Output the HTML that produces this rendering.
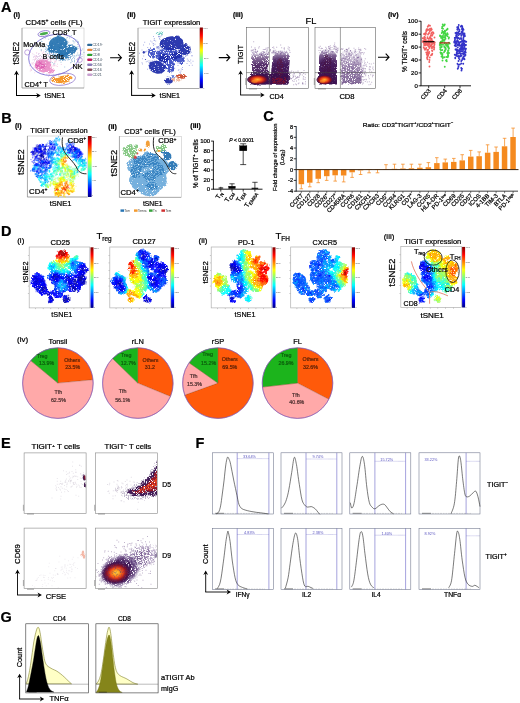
<!DOCTYPE html>
<html><head><meta charset="utf-8"><title>Figure</title>
<style>html,body{margin:0;padding:0;background:#fff}svg{display:block}text{font-family:"Liberation Sans",sans-serif}</style></head>
<body>
<svg width="520" height="703" viewBox="0 0 520 703">
<rect width="520" height="703" fill="#fff"/>
<filter id="spk" filterUnits="userSpaceOnUse" x="0" y="0" width="520" height="703" color-interpolation-filters="sRGB"><feTurbulence type="fractalNoise" baseFrequency="0.18" numOctaves="2" seed="4" result="d"/><feDisplacementMap in="SourceGraphic" in2="d" scale="5" xChannelSelector="R" yChannelSelector="G" result="g"/><feTurbulence type="fractalNoise" baseFrequency="0.95" numOctaves="2" seed="3" result="n"/><feColorMatrix in="n" type="matrix" values="0 0 0 0 0 0 0 0 0 0 0 0 0 0 0 12 0 0 0 -4.18" result="a"/><feComposite in="g" in2="a" operator="in"/></filter>
<filter id="spkd" filterUnits="userSpaceOnUse" x="0" y="0" width="520" height="703" color-interpolation-filters="sRGB"><feTurbulence type="fractalNoise" baseFrequency="0.18" numOctaves="2" seed="9" result="d"/><feDisplacementMap in="SourceGraphic" in2="d" scale="3" xChannelSelector="R" yChannelSelector="G" result="g"/><feTurbulence type="fractalNoise" baseFrequency="0.95" numOctaves="2" seed="8" result="n"/><feColorMatrix in="n" type="matrix" values="0 0 0 0 0 0 0 0 0 0 0 0 0 0 0 12 0 0 0 -3.2199999999999998" result="a"/><feComposite in="g" in2="a" operator="in"/></filter>
<filter id="spk2" filterUnits="userSpaceOnUse" x="0" y="0" width="520" height="703" color-interpolation-filters="sRGB"><feTurbulence type="fractalNoise" baseFrequency="0.18" numOctaves="2" seed="12" result="d"/><feDisplacementMap in="SourceGraphic" in2="d" scale="5" xChannelSelector="R" yChannelSelector="G" result="g"/><feTurbulence type="fractalNoise" baseFrequency="0.9" numOctaves="2" seed="11" result="n"/><feColorMatrix in="n" type="matrix" values="0 0 0 0 0 0 0 0 0 0 0 0 0 0 0 12 0 0 0 -5.0200000000000005" result="a"/><feComposite in="g" in2="a" operator="in"/></filter>
<filter id="spk3" filterUnits="userSpaceOnUse" x="0" y="0" width="520" height="703" color-interpolation-filters="sRGB"><feTurbulence type="fractalNoise" baseFrequency="0.18" numOctaves="2" seed="6" result="d"/><feDisplacementMap in="SourceGraphic" in2="d" scale="6" xChannelSelector="R" yChannelSelector="G" result="g"/><feTurbulence type="fractalNoise" baseFrequency="0.85" numOctaves="2" seed="5" result="n"/><feColorMatrix in="n" type="matrix" values="0 0 0 0 0 0 0 0 0 0 0 0 0 0 0 12 0 0 0 -5.74" result="a"/><feComposite in="g" in2="a" operator="in"/></filter>
<text x="0.9" y="11.5" font-size="14.5" font-weight="bold" stroke="#000" stroke-width="0.22">A</text>
<text x="13.4" y="17" font-size="7" font-weight="bold" stroke="#000" stroke-width="0.22">(i)</text>
<text x="25.6" y="24.6" font-size="7.8" stroke="#000" stroke-width="0.22" textLength="57" lengthAdjust="spacingAndGlyphs">CD45<tspan dy="-2.73" font-size="5.07">+</tspan><tspan dy="2.73"> cells (FL)</tspan></text>
<rect x="22.0" y="28.0" width="62.0" height="60.0" fill="none" stroke="#aaa" stroke-width="0.4"/>
<path d="M22 28V88H84" stroke="#777" stroke-width="0.5" fill="none"/>
<text x="19.2" y="53.2" font-size="8.6" text-anchor="middle" transform="rotate(-90 19.2 53.2)" stroke="#000" stroke-width="0.22" textLength="22.6" lengthAdjust="spacingAndGlyphs">tSNE2</text>
<path d="M16.5 95.5V73.4" stroke="#000" stroke-width="1.0" fill="none"/>
<path d="M16.5 70.6l-2.53 4.6l2.53 -1.38l2.53 1.38z" fill="#000"/>
<path d="M16.0 95.5H38.0" stroke="#000" stroke-width="1.0" fill="none"/>
<path d="M40.8 95.5l-4.6 -2.53l1.38 2.53l-1.38 2.53z" fill="#000"/>
<text x="44.4" y="98.1" font-size="7.2" stroke="#000" stroke-width="0.22">tSNE1</text>
<g fill="#8db8dd" opacity="0.75" filter="url(#spk3)"><ellipse cx="60" cy="56" rx="11" ry="5"/><ellipse cx="71" cy="58" rx="5" ry="4"/><ellipse cx="50" cy="50" rx="5" ry="5"/></g>
<g fill="#2472b0" opacity="0.92" filter="url(#spkd)"><ellipse cx="58.2" cy="44.3" rx="9.6" ry="8" transform="rotate(-10 58.2 44.3)"/><ellipse cx="52" cy="47" rx="4" ry="5"/><ellipse cx="72" cy="49.5" rx="5.2" ry="5"/><ellipse cx="64" cy="52" rx="6" ry="4"/></g>
<g fill="#2472b0" opacity="0.8" filter="url(#spk2)"><ellipse cx="62" cy="56" rx="8" ry="3"/></g>
<path transform="scale(0.25)" d="M268 133zm17 9zm-45 0zm-11-6zm-9 2zm50 11zm6-5zm27 15zm-7-5zm-18-2zm-11 0zm-13 4zm-1 2zm-5-5zm-10 2zm-7 1zm-11-1zm-4 2zm-13-4zm-8 4zm-14-5zm-16 13zm3 1zm33 0zm27-6zm11 0zm3 0zm6 4zm7-2zm15 3zm22-2zm1 2zm7 2zm8-6zm2 6zm4 0zm-1 3zm-17 2zm-21-3zm-7 0zm-18 5zm-4-1zm-3 1zm-13-5zm-2 0zm-18 4zm-2 2zm-47 5zm15 1zm3-1zm7-1zm16 1zm3 3zm16-7zm11 0zm12 5zm0-3zm1-2zm15 7zm2-3zm0-2zm2-2zm7 3zm4 1zm14 2zm21-5zm2 9zm-12-1zm-6 6zm-6 0zm-8 0zm-2-6zm-7 2zm-10-2zm-1 1zm-15 4zm-4 0zm-2 0zm-1 0zm-1 0zm-2-5zm-6 3zm-10-1zm-10-2zm-6 4zm-13-5zm-17 5zm-14 1zm6 8zm16-2zm6 0zm7 3zm5-3zm8-3zm1 4zm8-1zm4 3zm4-2zm9 0zm5 1zm2 1zm2-1zm4-4zm15 5zm6-5zm3 4zm0-3zm2 0zm1 3zm18-4zm12-1zm8-1zm1 2zm19 2zm-4 5zm-6 0zm-14-1zm-8 1zm-3 4zm0-1zm-2-3zm-3-1zm-4 3zm-4 2zm-1-4zm-6 6zm-3-7zm-3 6zm-5 0zm-2-1zm-2 1zm-4-4zm-4 2zm-5 2zm-4-6zm-1 5zm-2 1zm-3-5zm-12 2zm-4 4zm-2-7zm-15 1zm-8 5zm-3-6zm-12 6zm-17-4zm19 6zm12 4zm3-4zm11 0zm2 0zm0 0zm3 0zm18 4zm7-3zm6 1zm3-2zm10 6zm3-1zm4-5zm0 5zm2-1zm7 3zm1-7zm1 2zm2 1zm1-2zm14-1zm3 6zm14-2zm11 2zm14-4zm-8 7zm-10 3zm-5 3zm-1-4zm-5 2zm-17-4zm-4 0zm-4 1zm-6 4zm-2 1zm-3-5zm-1-2zm-2 4zm-6 1zm-4-1zm-3-2zm-1 5zm-7-4zm-2-2zm0 0zm-4 6zm-4-7zm0 6zm-4-2zm-4 1zm-11-3zm-1 5zm-3-6zm-1 3zm-6 2zm-41 4zm9 1zm9-1zm15 5zm8-7zm2 6zm9-2zm0-2zm15 2zm1-3zm11 6zm2-1zm1-3zm0-1zm0-1zm13 1zm12 3zm1 0zm3 1zm5-6zm0 6zm0 0zm10-5zm6 2zm6-3zm17 7zm7-5zm-5 6zm-8 4zm-1 1zm-42 1zm-1-6zm-4 2zm-3 2zm-8 2zm-3-1zm-8-4zm-5 0zm-5 1zm-10 5zm-1-5zm-9-1zm-36 8zm71 1zm1 0zm11-1zm25 1zm27 10zm-16-4zm-12 0zm-4 3zm-38-2zm-25 6zm-10-5zm-7 0zm-12 2zm24 4zm45 12z" stroke="#2472b0" stroke-width="3.2" stroke-linecap="round" fill="none" opacity="0.6"/>
<g fill="#dcc3e6" opacity="0.7" filter="url(#spk3)"><ellipse cx="38" cy="58" rx="6" ry="5"/><ellipse cx="47" cy="60" rx="5" ry="3"/></g>
<g fill="#ea86c4" opacity="0.85" filter="url(#spkd)"><ellipse cx="43.2" cy="65.8" rx="8.5" ry="6.5" transform="rotate(10 43.2 65.8)"/><ellipse cx="50" cy="71" rx="4" ry="2.5"/></g>
<g fill="#d94fae" opacity="0.8" filter="url(#spk2)"><ellipse cx="41" cy="66" rx="4.5" ry="3.8"/></g>
<path transform="scale(0.25)" d="M175 205zm-10 0zm-34 10zm16-5zm22 2zm1 3zm5-5zm6 4zm24 0zm-5 5zm-7 0zm0 4zm-2-5zm-14 3zm-34 2zm-2 8zm3-3zm23 3zm5-1zm4 1zm11-4zm42-1zm-14 13zm-2-2zm-8 2zm-2-1zm-4-2zm-8-3zm-1 6zm-9 0zm-20 0zm-1-3zm-17 2zm-4-1zm-24-2zm33 12zm3-1zm3-3zm3-2zm2-1zm4 3zm4-2zm0 1zm1 4zm5-6zm1 0zm3 2zm2 4zm4-2zm1 2zm1-3zm1-3zm0 3zm5 0zm5 1zm2 3zm4 0zm2-1zm0-1zm15 2zm2 0zm3-5zm0 5zm12-4zm-18 8zm-15 1zm-2 1zm-1 0zm-3-1zm-3-3zm-1 0zm-1 4zm0 0zm0-1zm-1-2zm0 5zm-1-3zm-7 2zm-1-2zm-1 0zm-4-3zm-1 1zm0-1zm-4 5zm-5-6zm0 0zm-2 7zm-12 0zm-5 0zm-2-7zm-1 5zm0 2zm-11-4zm-3 4zm-3-4zm-10 12zm10-7zm19 4zm6-4zm0 1zm1-1zm1 0zm2 4zm1-1zm1 1zm2-2zm4-1zm2-1zm7 7zm0-2zm1-5zm2 6zm0-4zm6 4zm2 0zm2-4zm3 2zm6-1zm4 4zm2-2zm2-3zm12 4zm0-3zm4 2zm10-4zm15 1zm-15 8zm-5-2zm-9 0zm-5 0zm-5 1zm-1 5zm-2-5zm-10 4zm0 0zm-2-2zm-1-2zm0 4zm-5-1zm-4-2zm0 2zm-5-3zm-1 1zm-7-1zm0 6zm-6-3zm-3-1zm-1 1zm-2 3zm-1 0zm-1-6zm0 2zm-6 4zm-4-7zm-1 7zm-1-3zm-3 3zm-2-7zm-14 12zm3 3zm8-7zm10 3zm6 2zm5-2zm3 2zm4-5zm1 5zm3-3zm4 4zm3-4zm3 0zm2 1zm0-1zm4 5zm0-5zm5 3zm5-5zm3 3zm4-1zm6 0zm2-2zm7 2zm-32 7zm0-1zm-2 3zm-1-2zm-14 0zm-5 4zm-35-3zm-4 2zm18 7zm21 3zm12 0zm3-6zm18 6zm8-6zm13 9zm-28-1zm-13 2zm21 8z" stroke="#e78ac3" stroke-width="3.2" stroke-linecap="round" fill="none" opacity="0.55"/>
<g fill="#f5921e" opacity="0.95" filter="url(#spk)"><ellipse cx="62.6" cy="79.3" rx="10.4" ry="3.7" transform="rotate(-7 62.6 79.3)"/></g>
<g fill="#35a23a" opacity="0.9"><ellipse cx="43.9" cy="33.6" rx="4.3" ry="1.4" transform="rotate(-12 43.9 33.6)"/></g>
<ellipse cx="54.7" cy="54.8" rx="26.5" ry="20" transform="rotate(-17 54.7 54.8)" fill="none" stroke="#6a5acd" stroke-width="0.7"/>
<ellipse cx="62.6" cy="79.3" rx="13" ry="5.9" transform="rotate(-8 62.6 79.3)" fill="none" stroke="#8a6fc9" stroke-width="0.7"/>
<ellipse cx="43.9" cy="33.6" rx="6" ry="2.8" transform="rotate(-12 43.9 33.6)" fill="none" stroke="#7a5fc9" stroke-width="0.7"/>
<circle cx="27.3" cy="52.4" r="2.6" fill="none" stroke="#9a6fc9" stroke-width="0.6"/>
<circle cx="79.8" cy="59.9" r="2.5" fill="none" stroke="#9a6fc9" stroke-width="0.6"/>
<text x="52.6" y="34.5" font-size="7.3" stroke="#000" stroke-width="0.22">CD8<tspan dy="-2.55" font-size="4.75">+</tspan><tspan dy="2.55"> T</tspan></text>
<text x="23.3" y="47.4" font-size="7.2" stroke="#000" stroke-width="0.22">Mo/Ma</text>
<text x="42.6" y="59" font-size="7.2" stroke="#000" stroke-width="0.22">B cells</text>
<text x="72.6" y="69.3" font-size="7.2" stroke="#000" stroke-width="0.22">NK</text>
<text x="24.5" y="86.5" font-size="7.2" stroke="#000" stroke-width="0.22">CD4<tspan dy="-2.52" font-size="4.68">+</tspan><tspan dy="2.52"> T</tspan></text>
<rect x="87.2" y="43.7" width="5" height="2.4" rx="0.9" fill="#2d6a9a"/>
<text x="92.5" y="46.1" font-size="3.6" fill="#3a4a5a">CD19<tspan dy="-1.26" font-size="2.34">+</tspan></text>
<rect x="87.2" y="48.7" width="5" height="2.4" rx="0.9" fill="#e8853a"/>
<text x="92.5" y="51.1" font-size="3.6" fill="#3a4a5a">CD4</text>
<rect x="87.2" y="53.7" width="5" height="2.4" rx="0.9" fill="#2ca02c"/>
<text x="92.5" y="56.1" font-size="3.6" fill="#3a4a5a">CD8</text>
<rect x="87.2" y="58.6" width="5" height="2.4" rx="0.9" fill="#c2185b"/>
<text x="92.5" y="61.1" font-size="3.6" fill="#3a4a5a">CD14<tspan dy="-1.26" font-size="2.34">+</tspan></text>
<rect x="87.2" y="63.6" width="5" height="2.4" rx="0.9" fill="#8a7ab8"/>
<text x="92.5" y="66.1" font-size="3.6" fill="#3a4a5a">CD56</text>
<rect x="87.2" y="68.6" width="5" height="2.4" rx="0.9" fill="#8a4a5a"/>
<text x="92.5" y="71.0" font-size="3.6" fill="#3a4a5a">CD16</text>
<rect x="87.2" y="73.6" width="5" height="2.4" rx="0.9" fill="#c8a0d0"/>
<text x="92.5" y="76.0" font-size="3.6" fill="#3a4a5a">CD21</text>
<path d="M110.1 57.7H121.10000000000001M118.10000000000001 54.2L121.4 57.7L118.10000000000001 61.2" stroke="#000" stroke-width="1.15" fill="none" stroke-linejoin="miter"/>
<text x="127.1" y="17" font-size="7" font-weight="bold" stroke="#000" stroke-width="0.22">(ii)</text>
<text x="142.7" y="24.5" font-size="7.5" stroke="#000" stroke-width="0.22" textLength="57.6" lengthAdjust="spacingAndGlyphs">TIGIT expression</text>
<rect x="138.0" y="28.0" width="61.4" height="60.5" fill="none" stroke="#aaa" stroke-width="0.4"/>
<path d="M138 28V88.5H199.4" stroke="#777" stroke-width="0.5" fill="none"/>
<text x="135.2" y="53.2" font-size="8.6" text-anchor="middle" transform="rotate(-90 135.2 53.2)" stroke="#000" stroke-width="0.22" textLength="22.8" lengthAdjust="spacingAndGlyphs">tSNE2</text>
<path d="M131.6 95.4V73.0" stroke="#000" stroke-width="1.0" fill="none"/>
<path d="M131.6 70.2l-2.53 4.6l2.53 -1.38l2.53 1.38z" fill="#000"/>
<path d="M131.1 95.4H153.0" stroke="#000" stroke-width="1.0" fill="none"/>
<path d="M155.8 95.4l-4.6 -2.53l1.38 2.53l-1.38 2.53z" fill="#000"/>
<text x="159.6" y="98" font-size="7.2" stroke="#000" stroke-width="0.22" textLength="20.4" lengthAdjust="spacingAndGlyphs">tSNE1</text>
<linearGradient id="cbA2" x1="0" y1="0" x2="0" y2="1"><stop offset="0.000" stop-color="#800000"/><stop offset="0.125" stop-color="#ff0000"/><stop offset="0.250" stop-color="#ff8000"/><stop offset="0.375" stop-color="#ffff00"/><stop offset="0.500" stop-color="#80ff80"/><stop offset="0.625" stop-color="#00ffff"/><stop offset="0.750" stop-color="#0080ff"/><stop offset="0.875" stop-color="#0000ff"/><stop offset="1.000" stop-color="#000080"/></linearGradient>
<rect x="199.8" y="27.5" width="3.1" height="60.7" fill="url(#cbA2)"/>
<text x="203.3" y="29.3" font-size="1.8" fill="#444">400.0</text>
<text x="203.3" y="44.1" font-size="1.8" fill="#444">33.36</text>
<text x="203.3" y="58.900000000000006" font-size="1.8" fill="#444">-26.77</text>
<text x="203.3" y="73.7" font-size="1.8" fill="#444">-0.065</text>
<text x="203.3" y="88.5" font-size="1.8" fill="#444">0</text>
<g fill="#2a3ec0" opacity="0.85" filter="url(#spk)"><ellipse cx="168.7" cy="56" rx="13" ry="7.2"/><ellipse cx="170" cy="67" rx="5.5" ry="5"/><ellipse cx="152" cy="53" rx="4" ry="5"/><ellipse cx="180" cy="60" rx="5" ry="4"/></g>
<g fill="#1c2aa8" opacity="0.92" filter="url(#spkd)"><ellipse cx="171.6" cy="43.2" rx="12" ry="7" transform="rotate(-5 171.6 43.2)"/><ellipse cx="185" cy="49.5" rx="5.8" ry="5.6"/><ellipse cx="157.3" cy="67.2" rx="8.6" ry="6.4" transform="rotate(10 157.3 67.2)"/><ellipse cx="168.7" cy="80.8" rx="4.3" ry="2.8"/></g>
<g fill="#1c2aa8" opacity="0.92" filter="url(#spk)"><ellipse cx="164" cy="58" rx="6" ry="4"/><ellipse cx="176" cy="55" rx="5" ry="3.5"/></g>
<path transform="scale(0.25)" d="M712 143zm-63-4zm-4 4zm-31 3zm20 1zm1-2zm4 1zm1 2zm52-2zm16 0zm6-2zm-6 9zm0 4zm-23 1zm0 0zm-5 1zm-40-1zm-2-4zm-21 0zm-14 10zm13-3zm2 0zm5 3zm19 3zm12-2zm15-3zm26 5zm28-7zm1 2zm7 7zm-16 3zm-4 3zm-18-4zm-10 2zm-5-5zm-12 7zm-17 0zm-4-6zm-31 6zm-2 0zm-4-7zm-29 1zm-5 11zm24-4zm16 6zm6-5zm19 5zm8-6zm15 1zm3-1zm12 5zm21-4zm46 4zm0-1zm16 6zm-32 4zm-11-3zm-3-3zm-21 0zm-1 4zm-4 2zm-5-1zm-3 1zm-13-6zm-6 7zm-3-2zm-17-1zm-1 0zm-4 3zm-2-5zm-2 5zm0-5zm-1 4zm-2-3zm-3 1zm-24 2zm-11 0zm36 2zm2 0zm5 1zm5 3zm2 2zm5-3zm0 3zm7-3zm12-1zm5-1zm10 4zm1 1zm4-6zm7 3zm10 1zm12 1zm3 2zm1-6zm13 1zm15 1zm8 1zm-27 6zm0 0zm-30-1zm-14 6zm-6-2zm-7-3zm-3 5zm-2-4zm-27 3zm-6-6zm-1 6zm-2 0zm-1-1zm-5 1zm-8 0zm-27-2zm-4 3zm-1 0zm-15-7zm-10 13zm22-4zm50 0zm1-1zm2 5zm9 1zm20-1zm0 2zm4-1zm9 1zm2-1zm2 0zm6-5zm10 3zm9 2zm23 1zm1-6zm23 1zm9 3zm5-4zm3 14zm0 0zm-17-2zm-4 1zm-11-5zm-8 4zm-6 2zm-5-2zm-8-1zm-6 0zm-1 1zm-14-5zm-5 6zm-16 0zm-17-1zm0 0zm-13-4zm-10 2zm-19-2zm-1 6zm-13-6zm0-1zm-19 8zm27 6zm0 0zm23-3zm13 2zm0 2zm2-6zm7 5zm10 1zm1-4zm12 4zm3-5zm1 4zm1-3zm0-2zm3 2zm9 4zm6-6zm4 0zm11-1zm2 6zm9-6zm2 4zm13-4zm4 6zm5-6zm0 1zm6 11zm-18-4zm0 5zm-1-4zm-34 4zm0 0zm-5-4zm-6 6zm-13 0zm-20-1zm-1 1zm-11-2zm-4-1zm-1 2zm0-4zm-65 1zm15 12zm6-2zm5-2zm5 2zm6 0zm3-1zm7-4zm9 3zm11 3zm3-5zm4 4zm8-2zm8 4zm9-4zm2-1zm22-1zm13 2zm3 0zm3 1zm20-3zm20 4zm1-4zm6 5zm4-6zm9 5zm-8 7zm-16 2zm-19-2zm-6-1zm-7 2zm-7-1zm-25 0zm-5-2zm-13-1zm-6 0zm-8 2zm-6 0zm-5-2zm-11 0zm-1 5zm-32-4zm-29 1zm2 5zm24 6zm3-5zm2 5zm13 1zm10-4zm23-1zm0 1zm4 4zm2-3zm9 0zm9-4zm13 5zm10 2zm3-5zm17 4zm13-6zm32 6zm12-1zm-39 9zm-56-6zm-27 7zm-14-4zm-10-1zm-1 5zm-3-7zm-20 2zm-9 11zm15-1zm7-4zm12 5zm16-5zm21 5zm18-5zm6 2zm3 5zm2-7zm3 2zm1 4zm5-5zm17 6zm9-3zm5 2zm-6 6zm-11-3zm-31 4zm-31-3zm-14-2zm-25 2zm1 6zm64 1zm9 2zm34-2zm2 4zm-53 13zm7 1z" stroke="#2a3cc0" stroke-width="3.2" stroke-linecap="round" fill="none" opacity="0.6"/>
<g fill="#1c2aa8" opacity="0.9"><ellipse cx="143.8" cy="52.3" rx="1.1" ry="1.4"/><ellipse cx="145.5" cy="59.5" rx="0.6" ry="0.6"/></g>
<g fill="#69c9bd" opacity="0.9" filter="url(#spk)"><ellipse cx="159.5" cy="33.4" rx="3.8" ry="1.7" transform="rotate(-12 159.5 33.4)"/></g>
<g fill="#c8401f" opacity="0.9" filter="url(#spk)"><ellipse cx="181.5" cy="76.5" rx="5.8" ry="2.2" transform="rotate(8 181.5 76.5)"/></g>
<g fill="#eaa585" opacity="0.8" filter="url(#spk2)"><ellipse cx="176.5" cy="79.6" rx="5" ry="2"/></g>
<g fill="#4060d0" opacity="0.8" filter="url(#spk2)"><ellipse cx="173" cy="76.5" rx="2.3" ry="1.6"/></g>
<path d="M218.8 57.6H229.5M226.5 54.1L229.8 57.6L226.5 61.1" stroke="#000" stroke-width="1.15" fill="none" stroke-linejoin="miter"/>
<text x="233" y="16.5" font-size="6.6" font-weight="bold" stroke="#000" stroke-width="0.22">(iii)</text>
<text x="305.6" y="24.2" font-size="9.2" stroke="#000" stroke-width="0.22">FL</text>
<clipPath id="clA1"><rect x="246.70000000000002" y="27.7" width="61.4" height="60.3"/></clipPath>
<g clip-path="url(#clA1)">
<linearGradient id="colg1" x1="0" y1="1" x2="0" y2="0"><stop offset="0" stop-color="#3a0f4e" stop-opacity="0.97"/><stop offset="0.6" stop-color="#43185a" stop-opacity="0.95"/><stop offset="0.86" stop-color="#553070" stop-opacity="0.75"/><stop offset="1" stop-color="#6a4a8a" stop-opacity="0"/></linearGradient>
<path d="M254.5 84L254.5 66C255.0 59 267.5 59 268 66L268 84Z" fill="url(#colg1)" opacity="0.4"/>
<g filter="url(#spk)" opacity="0.9"><path d="M252 84.5L252 59C252.5 50 268.5 50 269 59L269 84.5Z" fill="url(#colg1)"/></g>
<path d="M271 84L273 63C273.5 54 288.0 54 288.5 63L286.5 84Z" fill="url(#colg1)" opacity="0.75"/>
<g filter="url(#spkd)"><path d="M270 84.5L272.5 58.5C273.0 48.5 289.5 48.5 290.0 58.5L287.5 84.5Z" fill="url(#colg1)"/></g>
<g filter="url(#spkd)"><path d="M250 84.5V74H289V84.5Z" fill="#3a0f4e" opacity="0.9"/></g>
<g filter="url(#spk2)"><ellipse cx="279" cy="80.8" rx="8" ry="3.3" fill="#7a1030" opacity="0.85"/><ellipse cx="280" cy="68" rx="3.5" ry="10" fill="#5a1038" opacity="0.55"/></g>
<radialGradient id="hcA1"><stop offset="0" stop-color="#ffb838"/><stop offset="0.22" stop-color="#ff8420"/><stop offset="0.48" stop-color="#e03a18"/><stop offset="0.72" stop-color="#8a1020"/><stop offset="0.9" stop-color="#45104a" stop-opacity="0.9"/><stop offset="1" stop-color="#45104a" stop-opacity="0"/></radialGradient>
<ellipse cx="257.5" cy="79.6" rx="11" ry="5.2" fill="url(#hcA1)"/>
<ellipse cx="254.5" cy="81.3" rx="3.2" ry="1.6" fill="#ff9a28" opacity="0.6"/>
<path transform="scale(0.25)" d="M1015 167zm108 13zm35 11zm-5-3zm-26 3zm-20-2zm-12-1zm-4 2zm-18 1zm-36-4zm-17 4zm-14-3zm9 11zm5-3zm2 3zm1 0zm12-7zm18 6zm5 0zm5 0zm1-5zm5 6zm0-7zm13 6zm14-3zm40-2zm1 6zm1-7zm14 3zm4 4zm3 4zm-12 2zm-10 2zm-8-2zm-7 0zm-9 2zm-6 0zm-4-6zm-6 3zm-1 0zm-3 0zm0 0zm-12 0zm0-3zm-13 1zm0 5zm-15 0zm-1-1zm-21-1zm-1 0zm-2 2zm-5 0zm-2-2zm-5 2zm-4-6zm-2 0zm-5 3zm0-3zm4 8zm1 3zm4 1zm2-4zm6 1zm4 1zm1 1zm14 2zm3-3zm3-2zm0 5zm4 1zm3-4zm1 1zm3-2zm0-2zm3 5zm4-5zm2 6zm6 1zm0-4zm1-2zm13 2zm2 0zm3-3zm0 4zm3-3zm0-1zm3 3zm3 1zm0 0zm2 1zm0-5zm4 5zm3 2zm3-7zm3 1zm6 6zm0 0zm4-5zm3-1zm4 3zm4 2zm0 1zm5-6zm3-1zm0 2zm5 1zm2 4zm0 0zm8-5zm-38 6zm-11 0zm-15 0zm-24 1zm-1 1zm0-2zm0 2zm-9 0zm-2 0zm-4 1zm-9 1zm-1-2zm-1 0zm-1-1zm-5 1zm-1-1zm-20-1zm-1 1zm-3 3zm0-3zm-7 2zm209 63zm-24 2zm-17 3zm-8-3zm-8 3zm-2 1zm6 6zm1-6zm12 7zm1 0zm7-7zm8 1zm6 6zm9-5zm8 4zm6 3zm-12 3zm-7-4zm-2 0zm-1 6zm-27-2zm-12 3zm-3-2zm3 10zm11 0zm2-6zm1 3zm2-4zm6 1zm3 5zm5 0zm1-4zm3 3zm4-1zm17-2zm6 5zm-1 7zm-7-6zm0 5zm-18 2zm-8-6zm-5 2zm-5 4zm-11-5zm-2 2zm-2-3zm8 10zm6 3zm10-2zm36 3zm-11 8zm0-4zm0 2zm-15-1zm-3 3zm-18 4zm8-3zm3 3zm26-3zm9 0z" stroke="#6a4a8a" stroke-width="3.2" stroke-linecap="round" fill="none" opacity="0.7"/>
</g>
<clipPath id="clA2"><rect x="315.3" y="27.7" width="60.0" height="60.3"/></clipPath>
<g clip-path="url(#clA2)">
<linearGradient id="colg2" x1="0" y1="1" x2="0" y2="0"><stop offset="0" stop-color="#4a2568" stop-opacity="0.85"/><stop offset="0.5" stop-color="#5a3578" stop-opacity="0.7"/><stop offset="1" stop-color="#6a4a8a" stop-opacity="0"/></linearGradient>
<path d="M320 84L320 62C320.5 54 335.0 54 335.5 62L335.5 84Z" fill="url(#colg1)" opacity="0.75"/>
<g filter="url(#spkd)"><path d="M319 84.5L319 57C319.5 48 336.5 48 337 57L337 84.5Z" fill="url(#colg1)"/></g>
<g filter="url(#spk)" opacity="0.8"><path d="M341.5 84L341.5 56C342.0 46 361.0 46 361.5 56L361.5 84Z" fill="url(#colg2)"/></g>
<g filter="url(#spk2)"><ellipse cx="327" cy="66" rx="5" ry="11" fill="#45103f" opacity="0.6"/></g>
<radialGradient id="hcA2"><stop offset="0" stop-color="#ffb838"/><stop offset="0.22" stop-color="#ff8420"/><stop offset="0.48" stop-color="#e03a18"/><stop offset="0.72" stop-color="#8a1020"/><stop offset="0.9" stop-color="#45104a" stop-opacity="0.9"/><stop offset="1" stop-color="#45104a" stop-opacity="0"/></radialGradient>
<ellipse cx="324.5" cy="79.8" rx="8.5" ry="5" fill="url(#hcA2)"/>
<ellipse cx="322.3" cy="81.3" rx="2.8" ry="1.5" fill="#ff9a28" opacity="0.6"/>
<path transform="scale(0.25)" d="M1339 172zm-18 11zm17-4zm8 10zm-5-2zm-1-3zm-2 2zm-4-2zm-6 6zm-6 1zm-3-3zm-4 0zm0-2zm-12 3zm-22-4zm-5 4zm1 3zm7 3zm3-2zm2 1zm17-1zm8 0zm4 4zm0-3zm2 1zm2 4zm6 0zm6-3zm3-4zm1 4zm3-4zm1 6zm3-2zm1 2zm3-3zm3-3zm0 4zm12 2zm3-4zm2 4zm3-3zm13 2zm0 1zm1 1zm4-1zm5-3zm1-3zm20 1zm5 5zm14-6zm0 6zm4 0zm4-1zm16-3zm4 3zm-19 4zm-3 0zm-3 4zm-15 2zm-2-3zm-1 0zm-18-2zm0 1zm-1 2zm-10-3zm-2 3zm-3 1zm-6-1zm-2-3zm-26-1zm-3 1zm0 5zm-1-3zm-5 0zm-9 2zm-4 0zm-3-1zm0 1zm-7-1zm-4-3zm-2 0zm0 4zm-3-6zm-6 0zm-2 2zm0-2zm0 0zm-1 3zm-6-3zm0 4zm-6-1zm-1 4zm-1 0zm-5-5zm-7 0zm3 9zm9-3zm11 0zm2 2zm3 1zm2-2zm1 0zm1 1zm2-2zm13 3zm0-3zm7 0zm1 0zm1 1zm12-1zm2 1zm3 2zm16 3zm21-1zm6-1zm4 2zm0-2zm4 1zm7-2zm0-2zm2 6zm9-6zm21 0zm2 3zm6-1zm4-1zm6 1zm-3 5zm-10 0zm-12 0zm-6 3zm-1 0zm-2 4zm-17-3zm-1 0zm-2 2zm-2-5zm-3 0zm-1 3zm0 3zm-3-4zm-9-1zm-8 3zm-5-2zm-9 1zm2 8zm20 0zm0-1zm7-1zm5 2zm1 0zm15-2zm2 3zm2 0zm11 0zm2 1zm3 1zm0-2zm2-4zm0 5zm26 5zm-14 1zm-1 3zm-1-2zm-15-5zm-3 4zm-8 2zm0-1zm-21-3zm-7 4zm-9-2zm-2-2zm-4 2zm-2-3zm-2 2zm-2-3zm-4 2zm-2 4zm2 7zm0-3zm2-1zm5 6zm5-2zm7 2zm15-3zm10 2zm9-2zm7 0zm3-1zm0 1zm19 0zm9 0zm38 9zm-18 2zm-7-6zm-10 1zm-2 5zm-10-5zm-6 5zm-8 0zm-2-5zm-1 0zm-12 1zm-2 1zm-1-3zm-2 5zm-22-6zm-3 4zm-4-2zm-5 8zm11 0zm3 3zm0-1zm1-3zm12 1zm7 0zm8 2zm3-1zm6-1zm24 3zm4 2zm5-2zm0-4zm21-1zm7 12zm-10 0zm-3-2zm-12 0zm-15-2zm-15 3zm-26-1zm-6 2zm-2 2zm-5-4zm-10 0zm-16 2zm-1-4zm-10 14zm10-3zm4 0zm4-1zm5 3zm3-4zm0 3zm4 1zm7-3zm1 4zm10-1zm2-3zm2-2zm34 4zm0 2zm4-3zm0-3zm2 1zm1 6zm2-6zm4 2zm2 0zm15-3zm0 6zm4 1zm10-6zm2 6zm-6 8zm-8-2zm-18 1zm-1-2zm-4 3zm-4-3zm-1-2zm0 4zm-2-4zm-19 0zm-4 4zm-7-1zm-40 1zm-17-6zm1 13zm3 2zm3-5zm9 1zm11-1zm1 4zm3-4zm7-1zm3 1zm2 3zm29-2zm17 2zm6 1zm1-1zm6 0zm28 9zm0-2zm-9-1zm-9 3zm-11 1zm0-4zm-6-2zm-11 5zm-1-6zm-9 1zm-19 1zm-20 1zm-17-3zm-3 6zm-1-6zm-3 2zm-4 0zm-6 9zm8 4zm1-2zm6-1zm10-2zm4-1zm4 0zm14 4zm7-4zm0 6zm1-5zm15 5zm14-4zm3-1zm1 1zm4 0zm20 1zm15-1zm-13 8zm-12 4zm-1-2zm-7 1zm-5 1zm-5 0zm-7-4zm-2 0zm-1 0zm-5-3zm-1 2zm-2 0zm-23 2zm-8-1zm-3-2zm-16 0zm-1 5zm-5-4zm-2 1zm-10 6zm11 6zm0-7zm10 7zm0-3zm9-1zm1-1zm1 3zm3-2zm10-3zm6 1zm31 0zm12 0zm6 5zm16 1zm10 2zm-18-1zm-15 4zm-6-3zm-11 3zm-12-2zm-2 4zm-8 0zm-3-1zm-13 1zm-17-1zm-10-4zm22 9zm12-2zm2 2zm42-2zm26 3zm7-2z" stroke="#6a4a8a" stroke-width="3.2" stroke-linecap="round" fill="none" opacity="0.65"/>
</g>
<rect x="246.4" y="27.4" width="62.0" height="60.9" fill="none" stroke="#555" stroke-width="0.55"/>
<path d="M269.4 27.4L269.4 88.3" stroke="#444" stroke-width="0.5" fill="none"/>
<path d="M246.4 72.6L308.4 72.6" stroke="#444" stroke-width="0.5" fill="none"/>
<path d="M249.4 89h8M245.70000000000002 85v-7" stroke="#222" stroke-width="0.7" stroke-dasharray="0.5 0.5"/>
<rect x="315.0" y="27.4" width="60.6" height="60.9" fill="none" stroke="#555" stroke-width="0.55"/>
<path d="M340.4 27.4L340.4 88.3" stroke="#444" stroke-width="0.5" fill="none"/>
<path d="M315 72.6L375.6 72.6" stroke="#444" stroke-width="0.5" fill="none"/>
<path d="M318 89h8M314.3 85v-7" stroke="#222" stroke-width="0.7" stroke-dasharray="0.5 0.5"/>
<text x="242.8" y="54.4" font-size="7.6" text-anchor="middle" transform="rotate(-90 242.8 54.4)" stroke="#000" stroke-width="0.22" textLength="19" lengthAdjust="spacingAndGlyphs">TIGIT</text>
<path d="M240.6 95V73.0" stroke="#000" stroke-width="0.9" fill="none"/>
<path d="M240.6 70.4l-2.42 4.4l2.42 -1.32l2.42 1.32z" fill="#000"/>
<path d="M240.15 95H262.0" stroke="#000" stroke-width="0.9" fill="none"/>
<path d="M264.6 95l-4.4 -2.42l1.32 2.42l-1.32 2.42z" fill="#000"/>
<text x="269.4" y="98.5" font-size="7.2" stroke="#000" stroke-width="0.22">CD4</text>
<text x="339.4" y="98.8" font-size="7.6" stroke="#000" stroke-width="0.22">CD8</text>
<path d="M378 57.2H388.7M385.7 53.7L389 57.2L385.7 60.7" stroke="#000" stroke-width="1.15" fill="none" stroke-linejoin="miter"/>
<text x="388" y="17" font-size="7" font-weight="bold" stroke="#000" stroke-width="0.22">(iv)</text>
<path d="M421 20.95L421 85.8" stroke="#000" stroke-width="0.9" fill="none"/>
<path d="M420.55 85.8L471 85.8" stroke="#000" stroke-width="0.9" fill="none"/>
<path d="M418.6 21.2L421 21.2" stroke="#000" stroke-width="0.8" fill="none"/>
<text x="417.8" y="23.3" font-size="6" text-anchor="end" stroke="#000" stroke-width="0.22">100</text>
<path d="M418.6 34.2L421 34.2" stroke="#000" stroke-width="0.8" fill="none"/>
<text x="417.8" y="36.4" font-size="6" text-anchor="end" stroke="#000" stroke-width="0.22">80</text>
<path d="M418.6 47.1L421 47.1" stroke="#000" stroke-width="0.8" fill="none"/>
<text x="417.8" y="49.2" font-size="6" text-anchor="end" stroke="#000" stroke-width="0.22">60</text>
<path d="M418.6 60.0L421 60.0" stroke="#000" stroke-width="0.8" fill="none"/>
<text x="417.8" y="62.1" font-size="6" text-anchor="end" stroke="#000" stroke-width="0.22">40</text>
<path d="M418.6 72.9L421 72.9" stroke="#000" stroke-width="0.8" fill="none"/>
<text x="417.8" y="75.1" font-size="6" text-anchor="end" stroke="#000" stroke-width="0.22">20</text>
<path d="M418.6 85.8L421 85.8" stroke="#000" stroke-width="0.8" fill="none"/>
<text x="417.8" y="88.0" font-size="6" text-anchor="end" stroke="#000" stroke-width="0.22">0</text>
<path d="M428.7 85.8L428.7 88.2" stroke="#000" stroke-width="0.8" fill="none"/>
<path d="M444.7 85.8L444.7 88.2" stroke="#000" stroke-width="0.8" fill="none"/>
<path d="M460 85.8L460 88.2" stroke="#000" stroke-width="0.8" fill="none"/>
<text x="406.7" y="51.4" font-size="6.3" text-anchor="middle" transform="rotate(-90 406.7 51.4)" stroke="#000" stroke-width="0.22" textLength="41" lengthAdjust="spacingAndGlyphs">% TIGIT<tspan dy="-2.20" font-size="4.09">+</tspan><tspan dy="2.20"> cells</tspan></text>
<text x="431.3" y="91" font-size="6" text-anchor="end" transform="rotate(-48 431.3 91)" stroke="#000" stroke-width="0.22">CD3</text>
<text x="447.3" y="91" font-size="6" text-anchor="end" transform="rotate(-48 447.3 91)" stroke="#000" stroke-width="0.22">CD4</text>
<text x="462.6" y="91" font-size="6" text-anchor="end" transform="rotate(-48 462.6 91)" stroke="#000" stroke-width="0.22">CD8</text>
<path transform="scale(0.25)" d="M1715 101zm5 2zm-8 2zm-1 2zm-4 10zm2 2zm1-2zm5 2zm5-4zm4 1zm1-2zm2 4zm-3 3zm-5 4zm-9-5zm-2 2zm-3 4zm0-5zm-4 12zm3 1zm10 1zm2-2zm0-1zm9 1zm4-4zm1 1zm3 0zm0 1zm1 2zm-4 6zm-2 4zm-5-2zm-11-3zm-10 1zm-6-3zm2 11zm0 3zm2 0zm10-1zm9 0zm2-1zm17 2zm-11 7zm0-1zm-4-3zm-7 2zm-6-2zm-8 4zm-4 0zm-2-5zm-5 1zm-1 14zm1-2zm2 2zm3-6zm2 2zm5-3zm0 6zm4 0zm0 1zm5-3zm3-2zm7 0zm2-2zm1 2zm5 2zm9 6zm0 0zm-3 3zm0-5zm-6 7zm-2-5zm-1 0zm-3 0zm-2-2zm0 0zm-4 5zm-4-5zm0 7zm-1-2zm-2 2zm-5-6zm-3 4zm-5 2zm-2-2zm-1-5zm1 12zm4 1zm1-2zm2 2zm4-3zm2-1zm2 4zm3-2zm4-2zm4 6zm1-1zm3 1zm1-5zm10 5zm1-6zm-1 14zm-5-4zm-8-2zm-3-1zm-3 7zm-2-5zm-2 0zm-19 3zm2 5zm3 5zm3-4zm2-3zm8 7zm5-7zm9 0zm1 1zm8 4zm0 1zm-7 6zm-1-2zm-18 0zm-1-2zm-4 10zm6 0zm0-1zm0 2zm5 2zm1-5zm12 7zm-1 4zm0-1zm-1 1zm-3 2zm-10-4zm-1 4zm-2-5zm0 4zm-1-3zm-1 6zm0-2zm-2-4zm2 12zm2-3zm8 4zm-9 7zm-2-5zm10 8zm-1 8zm1 18z" stroke="#f05252" stroke-width="7.6" stroke-linecap="round" fill="none" opacity="0.92"/>
<path transform="scale(0.25)" d="M1771 98zm3 5zm3-1zm2-4zm-10 9zm-1 6zm4 2zm18 0zm0 2zm-4 3zm-5 6zm-2-3zm-3 4zm-7-3zm-2 8zm5-4zm3 7zm3-7zm1 0zm2 6zm8-1zm2 4zm-3 1zm-2 3zm-1-1zm-3-2zm-2 5zm-8-1zm-11 1zm-1-1zm0 2zm3 1zm0-1zm1 7zm1-6zm1 3zm6-1zm1 3zm2-1zm6 0zm9-4zm6 5zm-1 4zm-13 1zm-3 2zm-1 2zm-7 0zm-1-2zm-3-5zm-4 15zm6-1zm0-3zm1 0zm3 0zm5 0zm21 11zm-3-3zm-17 2zm-11-5zm-7 3zm-2 9zm1-4zm0 6zm5-4zm7 1zm10 0zm5-3zm0 7zm0-1zm3 0zm2-3zm2 11zm-1-4zm-1 2zm-10 2zm-3 0zm-1 0zm-1-4zm-10 0zm-1 2zm0 1zm-5 1zm0 7zm22-2zm0 3zm0-2zm11-4zm2 1zm-2 7zm-1 2zm-1 1zm-12 1zm-1-2zm-10-2zm-5 1zm-2 9zm2 5zm3-3zm9-3zm13 3zm3-4zm4 4zm-4 5zm0 3zm-22-4zm-1 3zm-3 7zm2 1zm2-2zm7 4zm8-1zm6 1zm0-4zm2-1zm-22 8zm-1 10zm14 0zm2-2zm1 5zm-8 22z" stroke="#34d234" stroke-width="7.6" stroke-linecap="round" fill="none" opacity="0.92"/>
<path transform="scale(0.25)" d="M1835 100zm11 3zm3 3zm-1-2zm-5 2zm-10 2zm-2 1zm-2 0zm0 8zm1 2zm2-7zm2 2zm14 3zm0-4zm2-1zm0 0zm2 3zm2 4zm-4 3zm-1-2zm-11 0zm-1 5zm-15 7zm2 3zm3-5zm2 1zm0 0zm5 1zm0-4zm9 7zm3-7zm4 1zm1-1zm0 5zm1 2zm1 0zm5-1zm0 4zm0-1zm0 6zm-4-1zm-2-4zm-1-2zm-6 0zm0 7zm-7-7zm0 0zm-4 5zm-6-3zm-4 6zm2 5zm2-2zm2 4zm24 0zm1-4zm0 0zm5-3zm-7 12zm0 2zm-8-2zm-1-4zm-6 4zm-3-4zm-6 2zm-8-2zm-1 7zm0-7zm-1 0zm-2 15zm2-4zm1 3zm4 0zm1 1zm4-5zm3 2zm0 3zm2 0zm10 0zm4-3zm0 1zm0 2zm3-4zm4 1zm3 0zm1-1zm3 4zm3 0zm-8 8zm-2-6zm-2 4zm-2 2zm-11-5zm-4-1zm-1 2zm-8 2zm-5-2zm-1-3zm-1 3zm-1-3zm-2 2zm2 12zm1 1zm2-5zm0 1zm0-3zm0 2zm8 2zm0-2zm3 3zm1-3zm3-1zm1 6zm2-1zm3 0zm4-4zm1-2zm2 6zm0 1zm2-2zm6 1zm4-2zm0 0zm2 0zm-6 11zm0-6zm-7 5zm-1-5zm-3 2zm-2-1zm-14 4zm-7-5zm-2 13zm3-1zm15-3zm0 0zm3 2zm0-4zm2 6zm1-2zm3-2zm2 4zm4-5zm2 2zm5 4zm2-4zm0 0zm-3 10zm-4 2zm-5-6zm-3 4zm-5 0zm-2-1zm-5-4zm-3 3zm-2 1zm-2-4zm-4 1zm1 9zm0 2zm1-4zm5 6zm5-5zm2 4zm1 2zm2 0zm7-1zm6-4zm2 5zm5-5zm-1 10zm-2 3zm-6-5zm-8 5zm-2-2zm-17-4zm-1 0zm-1 6zm-6-4zm2 12zm9-6zm2-1zm4 0zm4 2zm2-1zm12 3zm1-1zm3 10zm-1-2zm-4 0zm-1-3zm-2 1zm-12 4zm-3-5zm-14 1zm13 11zm11 0zm3-4zm5 15zm-8-1zm-15 1zm3 4zm6-1zm-5 9zm-3 8zm1-2zm13-1zm0 0zm2 4zm1-1zm-2 7z" stroke="#2222c4" stroke-width="7.6" stroke-linecap="round" fill="none" opacity="0.92"/>
<path d="M423.3 41.7L434.3 41.7" stroke="#1a0808" stroke-width="1.3" fill="none"/>
<path d="M439.6 42.9L449.7 42.9" stroke="#a03010" stroke-width="1.3" fill="none"/>
<text x="1.2" y="122.8" font-size="14.5" font-weight="bold" stroke="#000" stroke-width="0.22">B</text>
<text x="14.9" y="128" font-size="7" font-weight="bold" stroke="#000" stroke-width="0.22">(i)</text>
<text x="30.3" y="132.7" font-size="7.7" stroke="#000" stroke-width="0.22" textLength="57.5" lengthAdjust="spacingAndGlyphs">TIGIT expression</text>
<rect x="27.4" y="136.0" width="60.2" height="61.0" fill="none" stroke="#aaa" stroke-width="0.4"/>
<path d="M27.4 136V197H87.6" stroke="#777" stroke-width="0.5" fill="none"/>
<linearGradient id="cbB1" x1="0" y1="0" x2="0" y2="1"><stop offset="0.000" stop-color="#800000"/><stop offset="0.125" stop-color="#ff0000"/><stop offset="0.250" stop-color="#ff8000"/><stop offset="0.375" stop-color="#ffff00"/><stop offset="0.500" stop-color="#80ff80"/><stop offset="0.625" stop-color="#00ffff"/><stop offset="0.750" stop-color="#0080ff"/><stop offset="0.875" stop-color="#0000ff"/><stop offset="1.000" stop-color="#000080"/></linearGradient>
<rect x="88" y="136" width="3.6" height="61" fill="url(#cbB1)"/>
<text x="92" y="137.5" font-size="1.8" fill="#444">537.1</text>
<text x="92" y="152.1" font-size="1.8" fill="#444">82.46</text>
<text x="92" y="166.7" font-size="1.8" fill="#444">-10.27</text>
<text x="92" y="181.3" font-size="1.8" fill="#444">-0.07</text>
<text x="92" y="195.9" font-size="1.8" fill="#444">0</text>
<text x="23.8" y="162.2" font-size="9" text-anchor="middle" transform="rotate(-90 23.8 162.2)" stroke="#000" stroke-width="0.22" textLength="25.8" lengthAdjust="spacingAndGlyphs">tSNE2</text>
<text x="49.8" y="205.8" font-size="7.4" stroke="#000" stroke-width="0.22" textLength="21.5" lengthAdjust="spacingAndGlyphs">tSNE1</text>
<path transform="scale(0.5)" d="M79 295zm-4 1zm3 2zm4-1zm58 0zm10 0zm-4 5zm-4-2zm-67 2zm-7 2zm0 0zm7 0zm1 0zm12 1zm2 0zm-4 4zm-1 2zm-3 0zm-2 0zm-5-1zm-6-1zm12 6zm3-3zm1 0zm0 2zm1 0zm1-2zm-7 4zm-1 2zm-2 2zm17 7z" stroke="#0000aa" stroke-width="4.4" stroke-linecap="round" fill="none" opacity="0.45"/>
<path transform="scale(0.5)" d="M145 286zm-52 3zm7-1zm2 2zm5 0zm36 1zm4 3zm-2-1zm-7 0zm-2-1zm-26 2zm-5-1zm-1 1zm-4 0zm-2-2zm-8 3zm-1 0zm-11-1zm-2 3zm5 0zm28-1zm43 1zm2 2zm4 0zm3 4zm-3-3zm-7 2zm-1 0zm-7-2zm-1 1zm-4-1zm-39 2zm-12-1zm-5 1zm-12 1zm-4 4zm22-1zm2-2zm49 2zm7 0zm6 1zm4-3zm3 3zm4-1zm2 2zm-9 3zm-5-2zm-52 2zm-12-3zm-22 1zm7 5zm1 0zm24-2zm59 1zm2 0zm-66 5zm-5 1zm-14-1zm0-2zm-3 1zm13 4zm4 1zm8 0zm1 1zm4-1zm-9 3zm-4 1zm-5 0zm-5-2zm-6 4zm6 1zm0 1zm10 0zm1-1zm3-1zm3 1zm-1 4zm-8 1zm6 3zm-3 5z" stroke="#0000ff" stroke-width="4.4" stroke-linecap="round" fill="none" opacity="0.45"/>
<path transform="scale(0.5)" d="M93 291zm10-3zm31 0zm7 1zm7-1zm0 0zm-12 7zm-2-1zm-24 1zm-24-2zm4 6zm34-1zm1-1zm10 0zm22 3zm-18 3zm-3-3zm-24 3zm-9 4zm6-1zm36 1zm16 0zm-11 4zm-1 0zm-2 0zm-44 0zm-4 2zm0-1zm1 1zm46 1zm0-2zm17 2zm-3 4zm-10 0zm-48-2zm55 4zm-53 7zm-4-3zm-31 6zm4 1zm1 0zm4 0zm4 0zm2-2zm18 1zm-13 3zm-5 2zm-4-1zm-2-2zm-12 6zm3 1zm0-2zm9-1zm0 2zm2 0zm0-2zm20 0zm-10 4zm0 2zm0 0zm-6 1zm-9 0zm-2 0zm15 2zm-4 3zm-8 3zm0 0zm-3-3zm-2 0z" stroke="#0055ff" stroke-width="4.4" stroke-linecap="round" fill="none" opacity="0.45"/>
<path transform="scale(0.5)" d="M119 279zm-7-1zm-3 4zm5-1zm2-1zm-5 6zm-1-2zm1 5zm2 1zm6 3zm-3 3zm1 2zm2-2zm8 3zm-10 3zm-10 1zm2 2zm7 2zm0-2zm3-1zm41 14zm0 1zm-7 0zm-1 0zm-37 2zm47-1zm0 3zm3-2zm0-1zm3 2zm4 3zm-1 1zm-1 0zm-4 1zm-6-2zm-49-1zm-4 0zm-1 1zm55 5zm1 0zm2 1zm-61 3zm-19 1zm10 8zm-3 0zm1 4zm3 2zm-1-1zm-1 1zm-3 2zm-1-1zm-9 5zm0-1zm0-2zm12 1zm-1 3zm-2 0zm0 7zm2-1zm1-2zm2 1z" stroke="#00aaff" stroke-width="4.4" stroke-linecap="round" fill="none" opacity="0.45"/>
<path transform="scale(0.5)" d="M117 307zm15 1zm-12 2zm-3 8zm-7 1zm0 2zm0-1zm1 2zm8-2zm52 6zm-15-1zm0 2zm-47-1zm55 4zm2 2zm-3 0zm-3 0zm-49 2zm-3 0zm-2 5zm1-3zm2 1zm9-1zm46 3zm2-3zm-1 4zm-53 1zm-7 5zm3 1zm5 2zm-11-1zm-4 2zm0 0zm-1 4zm10-2zm-2 6zm-2 1zm-3-1zm-4-2zm-8 1zm3 3zm13 0zm-12 5zm-3 0zm-3 1zm2 2zm2 1zm1 1z" stroke="#00ffff" stroke-width="4.4" stroke-linecap="round" fill="none" opacity="0.45"/>
<path transform="scale(0.5)" d="M130 310zm-7 3zm2 0zm0 0zm1 0zm-3 3zm-11 1zm2 6zm3-1zm-3 7zm3 1zm24 5zm-1 0zm-22-3zm-1 0zm-4 7zm0-3zm9 1zm24 0zm4 0zm13 1zm0 2zm-9 1zm-3-1zm-2 0zm-1 3zm-1-2zm-1 1zm0-2zm-7 2zm-3-2zm-15 0zm-13 5zm1 0zm3-1zm23 0zm11 2zm6 0zm9-2zm-56 7zm2 3zm42 2zm-21 0zm-36 17z" stroke="#55ffaa" stroke-width="4.4" stroke-linecap="round" fill="none" opacity="0.45"/>
<path transform="scale(0.5)" d="M129 313zm1-1zm-11 14zm7 8zm-1 1zm3 1zm4 2zm3-1zm2 2zm2 4zm-3-2zm-1 2zm-5-2zm18 7zm-1 1zm-1 0zm-2-1zm0 2zm-7 1zm-1-2zm-7-1zm-2 6zm24-2zm-2 6zm-4 0zm-5 1zm-3-2zm-16 0zm-10 0zm11 4zm0-1zm6 0zm7 0zm6 0zm1 3zm-42 8zm1-2zm-6 5z" stroke="#aaff55" stroke-width="4.4" stroke-linecap="round" fill="none" opacity="0.45"/>
<path transform="scale(0.5)" d="M128 315zm-4 12zm9 4zm-4 3zm4 15zm0 5zm-6 5zm-4 0zm9 2zm8 6zm-1-1zm-21 0zm-6 1zm-5 1zm4 3zm29-2zm4 5zm-28 0zm-2-2zm-1 3zm-1 2zm2-1zm20 5zm-25 3zm1 2zm20 1zm9 0z" stroke="#ffff00" stroke-width="4.4" stroke-linecap="round" fill="none" opacity="0.45"/>
<path transform="scale(0.5)" d="M130 316zm-3 10zm0-2zm4 41zm-11 5zm4-2zm10 0zm3 2zm5 1zm-10 2zm-1 2zm-10-3zm4 6zm3-2zm7 0zm9 0zm-6 6zm-4 1zm-11-1zm-1 0zm-4 0zm-7-1zm6 6zm4-1zm1-2zm1 0zm4 3zm8-3zm1 3zm-8 1zm-17 0z" stroke="#ffaa00" stroke-width="4.4" stroke-linecap="round" fill="none" opacity="0.45"/>
<path transform="scale(0.5)" d="M124 370zm0 6zm-2 11z" stroke="#ff5500" stroke-width="4.4" stroke-linecap="round" fill="none" opacity="0.45"/>
<path transform="scale(0.25)" d="M205 575zm-60 5zm3 3zm4-2zm2 1zm14 0zm3 0zm1-3zm29-1zm2-1zm91 5zm4 8zm-4-4zm0 2zm-1-1zm-1 3zm0-3zm-6 3zm-87 0zm-13-5zm-2 0zm-1-1zm0 2zm-2 1zm0 0zm-4-2zm-7 0zm-10 1zm-3-2zm0 3zm-1 2zm0-2zm0 0zm0-2zm-3 0zm-3 1zm-1 2zm-4 1zm-8 9zm0-6zm3 1zm1-1zm1 2zm0-2zm1 3zm1 2zm1-4zm1 6zm6-4zm0 3zm4 0zm0-4zm2 2zm1 3zm0-2zm1-5zm0 6zm1-1zm0-3zm0 4zm1-1zm0 1zm0 1zm2-3zm11 2zm2-1zm2 0zm1-4zm0 0zm1 5zm0-3zm1-3zm0 5zm0-2zm23 2zm76-3zm1 2zm1 0zm1 1zm4-1zm0-3zm1 4zm2-5zm2 6zm7-2zm0-1zm0 2zm1 2zm0-2zm0-3zm0 3zm1 1zm1 0zm0-3zm0-2zm2 5zm0 0zm1 0zm0 8zm-4-1zm-2-1zm-1-1zm0 2zm-1-1zm-1 2zm-2-2zm-11-4zm-3 2zm-92 4zm-7 0zm-2-4zm0 1zm-1 4zm-4-7zm-3 0zm-1 7zm-2-4zm-2-1zm-2-2zm-1 4zm0-3zm0-1zm-3 7zm-4-1zm0 1zm-1 0zm-8-4zm-1-3zm-1 6zm-1-4zm0 0zm0-1zm0 1zm-9 4zm-2 0zm-2-2zm-2 2zm-1 0zm-7 3zm3 1zm3-2zm2 3zm1 1zm1 1zm0 2zm2-6zm1 1zm1-2zm1 6zm5-2zm1 1zm1-1zm1-3zm3 1zm8 2zm1-3zm2 0zm3 3zm2 3zm2-4zm1 1zm0-1zm1 4zm2-2zm0-2zm3 2zm4-1zm8 0zm6 1zm84-3zm46 10zm-1-4zm-9 5zm-121-1zm-7-3zm-10 3zm-4 0zm0-3zm-1 5zm0 1zm0-6zm-1 5zm0 1zm0-3zm0 2zm-1-4zm0 0zm-1-1zm0 2zm0 0zm-1-2zm-1 5zm0 1zm-3-1zm0-1zm-1 2zm-14 0zm-2-7zm-6 0zm2 11zm3 4zm4-4zm2-1zm13-1zm2-1zm3 3zm0-1zm0 2zm1-2zm1-2zm1 0zm1 0zm2 4zm0-4zm2 3zm0-1zm0 4zm1-2zm0 0zm128-4zm11 6zm1 0zm5-5zm-9 7zm-125 7zm-1-1zm-7-2zm0-1zm-1 4zm-1-6zm-2 3zm-7 2zm-1-3zm-1-1zm-1-2zm-4 6zm-3-4zm-3 1zm7 5zm2 2zm0-2zm1 2zm3 1zm7 3zm8-1zm6-4zm10 7zm0 4zm-1 2zm-4 0zm0 1zm-8-6zm-4 6zm-2-6zm0 4zm-3-1zm-1-3zm0 0zm-1-1zm-1 3zm-2-1zm0 3zm-1-5zm0 4zm0-1zm-1 4zm-1-4zm-6 3zm-30-4zm34 12zm1-6zm0 3zm7-3zm-10 8zm-2 2zm-4-2z" stroke="#0000aa" stroke-width="3.4" stroke-linecap="round" fill="none" opacity="0.75"/>
<path transform="scale(0.25)" d="M200 563zm6 3zm75 9zm-4-1zm-60 1zm-5-6zm-1 3zm-5 3zm-2 0zm0-1zm-1-5zm-1 1zm-4 0zm-47 9zm6 1zm0 3zm1 0zm1-3zm0-1zm1 3zm0-1zm1-1zm0 1zm0 2zm1-4zm6-3zm2 3zm0-1zm2 1zm0 1zm1 0zm0-2zm0 0zm2 2zm27-2zm1 0zm0-1zm0 0zm2-1zm1 0zm2 2zm4-2zm3 1zm0 0zm4 1zm56 5zm2-3zm6-4zm1 7zm6-4zm14 11zm0 0zm-1 1zm-3 0zm-2-2zm-1 1zm-1-6zm-4 7zm-2-4zm-2 1zm-1-2zm0-2zm-1 7zm0-6zm-1 5zm-67 1zm-2-3zm-3 3zm-1-4zm-1-1zm-1-2zm0 4zm-10-3zm-1 4zm-8-3zm-9 1zm-5-2zm0 1zm-3 5zm-1-4zm-4 0zm-1-3zm-2 3zm0-2zm-1 3zm0 0zm-1-3zm-1-1zm0 5zm-1-3zm0 2zm0 0zm-2 0zm-1-3zm-14 3zm0-3zm-4 6zm-9 8zm0-7zm5 4zm0-3zm0 0zm2 3zm1 1zm1-2zm1 4zm0-4zm1 1zm1-4zm0 7zm1-5zm0 2zm0-2zm0 3zm0 0zm0-1zm1 2zm3 1zm6-3zm2 0zm3-2zm1 2zm3 1zm12-4zm1 5zm2-3zm6 4zm1 0zm8-1zm1 1zm1-1zm1 1zm1-6zm1 1zm1-1zm3 2zm0 3zm2-5zm1 0zm0 4zm0-5zm1 2zm3 2zm1-4zm0 0zm1 7zm1-2zm0-1zm4 0zm0 0zm0 0zm2-1zm0-2zm0 0zm54 4zm4-3zm2 1zm2 0zm2-1zm2-2zm0 6zm1 0zm3-6zm5 6zm2-1zm1-3zm0 1zm0 2zm2 1zm0-1zm1-4zm0 3zm2 0zm2 3zm1 0zm1-2zm0 1zm1-3zm0 4zm2-2zm0-2zm1-3zm0 5zm8 0zm5 9zm-2 1zm-3 0zm0-1zm-2-2zm0-1zm-1-1zm0 3zm-1 0zm-3 0zm-1-1zm0 0zm0 3zm-1-4zm-3-1zm-1 3zm0-2zm-1 0zm0 1zm-1 1zm0 1zm-1-6zm-1 4zm-1 1zm0 1zm0 1zm-1-7zm-1 6zm-8-2zm-4 3zm-3-5zm0 4zm0 0zm-1-6zm-2 5zm0-1zm-1-1zm-1-2zm-1 3zm0-4zm0 4zm0 3zm-7-7zm-47 1zm-5-1zm-9 0zm-13 1zm-2-1zm-2 5zm-12-4zm-2 4zm-5 1zm-4-1zm0 1zm0 0zm-2 1zm0-2zm-1 0zm0 2zm-1-4zm0 4zm0-2zm0-5zm-1 3zm-2 1zm0 2zm0-6zm0 7zm0-3zm-1 2zm-1-2zm-1-3zm-5-1zm-1 3zm0 2zm-1-1zm-1 0zm0-1zm-2-1zm0 3zm0-1zm-1-4zm0 1zm0 4zm0-3zm0 3zm-1 1zm-2-6zm-5 5zm0-3zm0-1zm-2-1zm-1 2zm-7 2zm-4 3zm1 1zm1 1zm0-1zm1 2zm6 2zm2 0zm6-4zm6 5zm4-4zm1 4zm2-4zm0 6zm2-4zm2-1zm2 0zm1-2zm2 3zm3 1zm4 1zm2-3zm0 4zm5-5zm0 5zm1 0zm1-2zm1 2zm11 1zm2-2zm0 2zm0-3zm2-1zm4 0zm1 4zm3-2zm1-4zm1-1zm1 5zm0 1zm1-3zm1-2zm0 5zm1-1zm0-5zm3 7zm1-2zm55-1zm1-3zm0 0zm2 4zm4-3zm1-1zm2 6zm0-5zm1-1zm3 4zm4-1zm1-1zm0-3zm2 3zm6-2zm3 0zm2 2zm3-2zm1 4zm0 0zm0-2zm2-3zm0 0zm1 4zm0 1zm0-4zm2 5zm1-3zm3 0zm2-1zm1 4zm0-4zm1 1zm0-2zm0 3zm1 0zm1 1zm1-1zm0 0zm0-2zm1-2zm3 7zm1-6zm1 8zm-2-1zm-1 6zm-2-3zm0 1zm0-4zm0 2zm-2-2zm-1 1zm0-1zm-1 7zm-1-5zm0 3zm0-3zm-1 5zm0-4zm0-2zm-2 1zm0 4zm-1-3zm-1 4zm0-1zm-4-2zm0-1zm-2-3zm-1 7zm0-1zm-1-3zm0 1zm-5-4zm-1 6zm-86-5zm-5 1zm-6 0zm-2-1zm-3 5zm0-6zm-2 1zm-3 0zm-3 0zm-8 2zm-1-3zm-4 1zm-12 1zm-2-2zm-7 5zm-4 1zm-2 0zm-13-2zm-1-4zm-1 2zm-5-2zm1 8zm0 7zm2 0zm3-7zm6 5zm1-3zm3-2zm0 2zm0 4zm0-1zm1-4zm2 1zm5 3zm10-4zm3-1zm5 7zm13-1zm3 0zm7 1zm1-3zm2-4zm12 7zm82-3zm3-4zm1 3zm1 0zm2-1zm0-2zm1 4zm0-2zm0 2zm1-2zm0 2zm0 2zm0-3zm2 2zm0-4zm1 3zm0-1zm0-2zm0-1zm1 6zm0-3zm2 2zm0-1zm1-1zm0 0zm2 0zm2 4zm4-7zm3 3zm-5 5zm-8 1zm-3-1zm0 0zm-109 7zm-5-3zm0 3zm-11 0zm-15-3zm-2 2zm-5-3zm-2 1zm-2-4zm-2 2zm-6 5zm0-5zm-6 5zm-13-1zm4 9zm1-2zm5-3zm3 2zm0-3zm8 1zm5 0zm8 5zm1-4zm2 2zm4 2zm0-1zm1 0zm1-2zm2-1zm1 2zm1-1zm5-3zm0-1zm4 6zm1-1zm1 0zm0-2zm2 2zm0 2zm5-4zm6 4zm1-1zm2 6zm-1 0zm-1-1zm-1 3zm-1-4zm0-2zm0 2zm0 2zm-1 0zm-2-3zm0 6zm0-3zm-1 0zm-1 2zm-1-6zm-1 3zm0-1zm-1 0zm0 0zm-1-1zm-1 2zm-3-2zm0 2zm-2 0zm0-1zm0 2zm-2-4zm-1 4zm-2-1zm0-1zm-3 1zm0-1zm0 5zm-1-7zm0 1zm-2 2zm-5 3zm-1-4zm-1-1zm0 0zm-1 0zm-4 4zm-4 1zm-3 0zm-3 0zm-1 1zm-2-4zm-9 2zm4 7zm0 3zm4-2zm0-4zm1 4zm0-2zm2 4zm0-2zm0-2zm0 2zm1 1zm0 0zm1-4zm0 1zm0-3zm0 2zm0-2zm1 5zm1 0zm0-5zm0 2zm0 0zm2 1zm2-1zm0 2zm9 3zm0-5zm3 2zm2-1zm5-3zm15 1zm1 6zm10-2zm5 1zm1 6zm-3 1zm-2-4zm-11 5zm-2 0zm-1 0zm-5-1zm-2 1zm-4-6zm-8 1zm-3 1zm-23 5zm0-2zm-2-4zm-2 4zm-1 7zm0 0zm17-3zm0 5zm3 1zm18-7zm2 0zm9 6zm0-2zm0 3zm1-7zm1 6zm3-1zm0 0zm9 8zm-9-5zm-3 4zm-3-4zm-1 4zm-20-2zm0 0zm-2 4zm0 1zm-1-7zm-7 2zm-1 2zm-1 1zm-1 0zm0-1zm-1 3zm-1-2zm-3-2zm0 3zm-7-6zm10 9zm6 4zm0-4zm1-1zm1 7zm3-5zm10 6zm-2 6zm-1-1zm-3 1zm-1 1zm3 6z" stroke="#0000ff" stroke-width="3.4" stroke-linecap="round" fill="none" opacity="0.75"/>
<path transform="scale(0.25)" d="M196 564zm3 1zm2-3zm5 5zm3-3zm12-1zm56-1zm-2 8zm-6 3zm-64-4zm-2 6zm-3-7zm-3 6zm-1-1zm-6-1zm-17 9zm45-1zm1-1zm0-3zm2 4zm2 0zm4-4zm0 7zm1-1zm4-5zm31-1zm3 6zm8-3zm2-1zm3 2zm1-2zm0 1zm1-1zm4-2zm1 5zm-5 10zm-2-1zm-9-5zm-6 6zm-12-3zm-10 1zm-2-4zm-18-1zm-4 3zm-1-3zm-41 1zm-4 0zm-4 6zm-6-4zm-2-3zm-2 4zm-1 1zm0 0zm-1 2zm3 1zm1 0zm29 5zm4-2zm8-1zm3 2zm0-3zm1 1zm1-1zm3 1zm2 4zm5 0zm9-1zm6-1zm4 0zm2-4zm6 1zm0-1zm10 6zm5 0zm2 0zm2-2zm0 3zm0-2zm3-2zm0 1zm2-4zm1 7zm3-1zm3 0zm2 0zm0 1zm3 0zm4-7zm1 5zm21-3zm3 5zm1-3zm3 0zm0 1zm2 0zm6 2zm0 5zm-1 2zm-1-3zm0 0zm-1-2zm-2-1zm0 6zm-1-2zm-1 1zm-1-1zm0-4zm-2 5zm-1 0zm-1-2zm-1 2zm0-1zm-7 3zm-11-3zm-1 0zm-7-1zm-2 3zm-2-3zm-1-1zm-2 5zm-2-6zm0 1zm-1-1zm-1 1zm-9 1zm-25-1zm-3 2zm-17-3zm-1-1zm-2 0zm-4 7zm-1 0zm-2-2zm-1-1zm-1-4zm-3 5zm-7-5zm-2 4zm-2 1zm-1-1zm-9 1zm-31-3zm5 13zm31-5zm2 5zm3-3zm0-1zm1 2zm2 0zm0-2zm1 4zm1-6zm1 0zm1 3zm1 0zm2 3zm4-1zm0 0zm1-5zm0 0zm0 6zm1-2zm0 2zm0-5zm1 0zm0 2zm2 0zm2 2zm2 1zm9-6zm50 1zm4 2zm10 0zm0-1zm4 0zm5 2zm4-5zm1 6zm0-2zm1 3zm1-4zm1-3zm1 2zm0-2zm1 0zm0 1zm0 0zm1 0zm2 1zm2 4zm2-6zm0 1zm8 6zm9 2zm-2 6zm-1-5zm-4-1zm-2 3zm-2 0zm-8 2zm-2-6zm-2 4zm0-4zm-5 2zm0 1zm-1 0zm0 4zm-1-3zm-2 1zm0 2zm-1-5zm0-2zm0 2zm0 2zm-3-4zm-56 6zm-1-4zm0 3zm-3-4zm0 6zm-2-3zm-1-2zm0-1zm-3 4zm-13-3zm-2-1zm0 3zm-6-1zm-2-1zm-2-1zm-2 6zm-6-4zm-1 4zm0-6zm-1 5zm0-5zm-5-1zm-2 3zm-37-1zm-5 8zm45 0zm4 2zm1 1zm0 0zm1 2zm0-5zm1 4zm1-1zm1 0zm1-5zm3 2zm1 5zm1-3zm5 3zm0-3zm4 1zm75-4zm9 3zm2-1zm0-2zm0 0zm1-1zm0 1zm0 1zm1 2zm0 0zm1-2zm0 2zm0 2zm1-3zm1-3zm1 4zm0-1zm0-3zm0 7zm0-1zm0 0zm0-1zm1-3zm0 2zm3 1zm1-1zm14 1zm3-3zm3-1zm1 0zm-7 7zm-11 2zm-5-1zm-5 1zm-1 5zm-90-4zm-15-2zm-2-1zm-43 5zm-1-5zm-2 2zm-8 3zm-2 3zm6 2zm1 1zm7-2zm2 1zm0 2zm11 0zm2 0zm0-1zm2 1zm0 3zm1-2zm1 2zm1 0zm2-2zm2 2zm2-4zm5-1zm10-2zm3 1zm7 3zm0 1zm1-4zm2 3zm1-1zm1 3zm0-5zm1 1zm0-1zm97-1zm19 0zm1 5zm2-5zm3 11zm-122-2zm0 1zm-2-2zm-1 0zm-3 6zm-4-6zm-2 2zm-4 3zm-2 2zm-20-5zm-2 0zm-1-1zm0 2zm-4-2zm-7 1zm-5 3zm-14-4zm-1 0zm-2-1zm6 13zm0 0zm3-2zm2-2zm1 3zm0 0zm2 3zm0-5zm2 1zm3 0zm1 0zm1 4zm0-3zm1 3zm0-5zm5 5zm8-1zm9 0zm1 0zm2-5zm0 1zm2 4zm12 1zm1 0zm0-1zm3-3zm0 1zm0 3zm2 0zm0-1zm24-1zm92 0zm18 0zm-22 6zm-87 4zm-24-2zm0-3zm-1 2zm-3-2zm-1 4zm-1 1zm-2-1zm0 1zm-8 0zm-3-6zm-4 5zm-6-4zm0 5zm-1 0zm-1-7zm-5 3zm-1 2zm-1-4zm-6 6zm-2-7zm-3 0zm-4 2zm-3 1zm-3-1zm0 1zm0-3zm-3 3zm-4-3zm-2 6zm-5 7zm1-1zm1-4zm0 6zm1-1zm0-3zm0-2zm0 4zm0 1zm1-1zm1 2zm1 0zm0-2zm0-2zm1 1zm1 1zm0-1zm0 1zm0-2zm0-1zm0 4zm1 1zm0-1zm0-1zm0 0zm0 1zm1-2zm8 1zm2 0zm1 0zm0 3zm0-3zm1-3zm1 1zm0-1zm6 1zm2 2zm3 3zm3-2zm3-5zm1 0zm1 1zm2 1zm1-2zm4 1zm4 4zm8 1zm0-5zm1-1zm0 0zm3 2zm0-1zm2 1zm2 0zm-11 9zm-3-2zm-3 1zm-5 5zm-6-1zm-1-6zm-2 6zm-1-5zm0 6zm0-6zm-1 2zm-3 1zm0 2zm0-4zm0-1zm0 2zm-1-3zm-1 2zm0 5zm-1-5zm-4-1zm-7 5zm-3-6zm-2 2zm-5-2zm-1 5zm0 2zm-1-2zm-1-5zm-1 0zm-1 4zm-1-1zm0 3zm-1-6zm-2 0zm0 5zm0-4zm0 0zm-1 0zm-1-1zm-5 3zm0 1zm23 8zm3-3zm0 2zm4 4zm0-3zm1-1zm0 1zm0 2zm1 0zm1-3zm3 3zm2-5zm2 0zm0 0zm1 0zm3 1zm2 0zm1 1zm4-3zm4 6zm2 0zm1-3zm3-2zm-16 8zm-13 6zm-1-2zm-2 2zm-2-6zm-1 6zm-7-7zm2 10zm2-1zm1 1zm0-2zm0 0zm1 3zm0 0zm2 4zm0-1zm2-6zm4 4zm1 1zm4 2zm2 0zm3-3zm2 2zm2 0zm12 7zm-17-3zm0 3zm-3-3zm-4 9zm6 4zm15-6zm0-1zm3 1zm0 9zm-1 1z" stroke="#0055ff" stroke-width="3.4" stroke-linecap="round" fill="none" opacity="0.75"/>
<path transform="scale(0.25)" d="M234 546zm1 4zm2 5zm-8-1zm-1-2zm0 0zm0 1zm-1 1zm-5-2zm-3 7zm-18 7zm15 0zm0 1zm1-6zm5 6zm4-1zm10-1zm43-1zm1 2zm-5 3zm-3-1zm-46 6zm0-1zm0 2zm-1 0zm-1-4zm-1 3zm-4 0zm-5-6zm-3 7zm-3-4zm-2 1zm-3-1zm14 11zm8-5zm2 0zm1 4zm2-3zm0-1zm1 3zm36 8zm-9 3zm-4-1zm-2 0zm-4 1zm-3 0zm-11-2zm-2-2zm-1 0zm-5 12zm2-7zm2 3zm4 2zm1 0zm2-3zm5 3zm8 2zm1-3zm0-2zm0 5zm0-4zm1 0zm1-3zm1 3zm2 0zm1 3zm48 6zm-26 1zm-1-1zm-2 0zm-2 3zm-2-3zm-1 3zm-11-3zm-9-2zm-1 4zm-2-1zm-1-4zm0-1zm-1 7zm-2-2zm-1 1zm-2-3zm-2-2zm-16 2zm-1-3zm-18 6zm-3-2zm-3 3zm4 6zm1 2zm1-5zm6 0zm4 2zm2 3zm3-3zm5-1zm18 3zm0-4zm1 1zm1 1zm1-3zm0-1zm1 0zm8 4zm1-3zm1 0zm4-1zm5 0zm1 4zm1 2zm1 0zm12-6zm9 6zm0-2zm8-3zm1 3zm4-4zm3 12zm-7 2zm-7-4zm-1 5zm-1 0zm-23-7zm-5 0zm-26 4zm-8 3zm-1-4zm-14-3zm0 4zm0-2zm-4 5zm-2-2zm-4 2zm0-5zm-3 1zm-1 4zm-1 0zm0-3zm-1 3zm-1 0zm5 2zm7 3zm1 1zm2-5zm7 7zm66-6zm0-1zm2 5zm3-4zm0-1zm8 0zm6 6zm1-5zm17 5zm2-2zm4 0zm1 2zm17 8zm-1-5zm-2 1zm-2 5zm-5-1zm-2-1zm-1 2zm-1-2zm-4 2zm-1-6zm0-1zm-2 0zm0 6zm0-5zm-1-1zm-3 3zm-2 1zm-7 0zm-1 2zm-7-2zm-4 1zm-2 2zm-63-4zm-2-1zm-13 3zm-2-3zm0 2zm0 2zm-1-5zm-2 6zm0-6zm0 4zm-1 2zm-1-2zm0 0zm-1 1zm-3-3zm0 1zm0 2zm-1-1zm-2-5zm-2 7zm-9-7zm-43 11zm54 1zm2-1zm3-1zm2 5zm1-7zm8 7zm2-2zm69-2zm1-3zm2 0zm10 1zm1 1zm0 0zm0-2zm1 6zm0-4zm7 4zm3-2zm0 0zm1-4zm1 4zm1-4zm0 1zm1 2zm1 3zm1-5zm1 2zm1 0zm1-1zm0 2zm1-3zm0 4zm0-1zm1 0zm0 2zm1 0zm1-6zm0 6zm0-4zm1-2zm0 4zm0 1zm2-5zm0 1zm0 4zm4-1zm0-2zm1 0zm0-2zm1 5zm0-4zm1-1zm1 1zm1-1zm4 15zm-8-3zm-2 2zm-2 0zm0-4zm-1 5zm-1-5zm-1 2zm-2-4zm-9 6zm-12-6zm-80 4zm0 2zm-1 1zm-3 0zm-1-3zm-7-1zm-1-3zm-1 1zm0 2zm-3 0zm-2 0zm0-3zm-4 1zm-72 14zm21-3zm4 1zm46 0zm0 1zm4-2zm0-3zm15 3zm0-1zm2-1zm0-1zm4-1zm91 6zm6-4zm11-1zm2 6zm0-3zm0 2zm1 1zm1-4zm0-1zm2 5zm2-3zm2 4zm-1 6zm-5-5zm-10 1zm-15 1zm-1 1zm-1 1zm0-2zm-80 4zm-3 0zm-2-2zm-23-4zm-29 6zm-4-2zm-20-3zm-5 3zm-3-1zm0 3zm-7-7zm-6 11zm7-2zm0 4zm7-3zm3 4zm2-5zm21 0zm0 4zm2-3zm2 0zm5 0zm5 2zm4 2zm0 1zm2 0zm3-5zm1-2zm1 1zm35-1zm1 0zm79 1zm0 1zm23 3zm-22 10zm-2 0zm-1-3zm-110-4zm0 4zm-2 0zm-9-4zm-15 6zm-2 0zm-2-1zm-4-2zm-5 4zm-15 8zm26-6zm9 6zm2-2zm0-3zm3 3zm3 0zm120-4zm3-1zm0 1zm-103 11zm-1-1zm-5-1zm-14 2zm-7-2zm-3 4zm0 0zm-1-3zm-1-3zm-1 3zm0 2zm-1 2zm-2-3zm-1 3zm-6-2zm-1 0zm0 1zm-4 1zm-3-2zm-1 2zm-4-6zm-2 5zm-4-4zm-1 1zm-4 1zm0-4zm10 9zm1 4zm0 0zm1 0zm7 0zm0-2zm1 2zm1-1zm0 2zm1-5zm0 5zm1-1zm2 2zm2-1zm0 0zm2-5zm0 6zm0-5zm8 0zm1 3zm4-2zm0 3zm3-2zm1 2zm2-5zm19 2zm-8 7zm0-1zm-1 2zm-3 1zm-9-2zm-2 4zm0-5zm0 5zm-1-1zm-2-5zm-2 4zm-2 2zm-2-3zm-1-2zm0-1zm-2 3zm-3-1zm-6-2zm-4 1zm22 11zm3 2zm5-6zm3 5zm2 2zm0-2zm-4 4zm-1-1zm0 2zm-8 0zm0-1zm-2 5zm-4-3zm-3 3zm-9-6zm0 2zm-2-2zm-1 0zm3 14zm1 0zm0 1zm2-2zm0-3zm1 2zm3-1zm1 0zm3-1z" stroke="#00aaff" stroke-width="3.4" stroke-linecap="round" fill="none" opacity="0.75"/>
<path transform="scale(0.25)" d="M239 556zm-2 3zm1 4zm-12 8zm9 20zm-3 0zm-1 0zm7 5zm0 2zm3-1zm2-2zm2 0zm13 11zm-5-2zm-3 2zm-2-1zm0-1zm-1-2zm-1-2zm-2 7zm-1-2zm-1 2zm-19 0zm-1-1zm-11 7zm14 1zm1-2zm1 3zm0-4zm1-1zm14-2zm5 5zm0 2zm3-7zm1 6zm1 0zm2-4zm0 0zm1 1zm0-2zm1 4zm2 0zm1-1zm1 3zm4-1zm0 0zm2-1zm0 0zm0-1zm1 2zm29-4zm9 9zm-3 1zm-16-3zm-9 5zm-1-2zm-2 0zm0-3zm-1 1zm-2 4zm-3-3zm-7 0zm-4-1zm-1-2zm-3 4zm-1 3zm-6-1zm0-4zm-2 1zm-31 4zm-1-2zm-3 8zm20 1zm15-5zm0 3zm2-1zm3-3zm53 14zm-2-3zm0 4zm0-1zm-53 0zm-5-5zm-3 5zm-1-1zm0-1zm-2-2zm-2 3zm-1-1zm0-4zm0 4zm0 3zm-1-7zm0 5zm-2-5zm0 1zm-1 1zm-4 5zm0-6zm-1-1zm-2 6zm0-1zm-4-5zm-7 7zm-9-6zm13 12zm10-5zm8 4zm5-3zm59-1zm5 4zm1 0zm4 3zm7-4zm2 0zm0 1zm1 2zm2-4zm2-2zm1 3zm1 2zm3-4zm10 4zm4 1zm-3 4zm0 3zm-1 1zm-1-3zm-11 1zm-1-1zm-1 2zm-2 2zm0-3zm-4 0zm-1 1zm-85-4zm-3 6zm0-2zm-2 0zm-4 2zm-1-5zm-1 2zm0-4zm-4 0zm-4 3zm-2-2zm9 13zm3-5zm1 1zm0-2zm3 0zm1 1zm1 3zm0-3zm1 0zm2 0zm3 1zm1 1zm1 2zm1-1zm79-2zm4 3zm1 0zm0-1zm2-4zm1 3zm4 1zm4 3zm1-1zm3 1zm0 0zm0-3zm1-3zm1-1zm1 7zm3-1zm0-1zm2 3zm-7 3zm-1 2zm-1-2zm-2 0zm0-1zm-1 1zm-13-2zm0 0zm-2 6zm-1-2zm-1-4zm-1 6zm-40-6zm-8 2zm-28 0zm0 2zm-1-2zm0 3zm-1-3zm-1-1zm-3 3zm-1-4zm0 6zm-7-3zm-73 2zm-5-4zm0 2zm-6-2zm-3 5zm-1-7zm0 6zm0 5zm8 1zm3-3zm27 2zm44-2zm6 0zm9 3zm1-2zm0 1zm1 4zm3-2zm2-1zm5 0zm21-1zm7-1zm11 5zm28-2zm4-5zm16 2zm3 4zm0 0zm2 1zm0-1zm1-3zm1 0zm0 1zm0-2zm1 2zm1-3zm2 0zm-8 7zm-1 0zm-5 4zm-4-3zm-24 5zm-3-1zm0 1zm-13-2zm-3 0zm-32 0zm-6 0zm-6-3zm-6 0zm0 4zm-8-4zm-2 1zm-1 1zm0 0zm-1 2zm0-1zm-1-4zm-1 3zm-1 2zm-2-1zm0 1zm0 2zm-14 0zm-1-4zm0 2zm-1-1zm-4-1zm-4 12zm6-7zm2 1zm9 5zm9-6zm12 7zm14 0zm7-7zm47 3zm1 3zm0-2zm1 0zm1-2zm0 2zm10-4zm0 3zm-10 6zm-1-1zm-1 3zm-3-2zm-3-1zm-49 5zm0-1zm-1-1zm-2-3zm0 2zm-1 0zm-1 4zm-27 1zm-2-2zm-1-4zm-1 3zm-4-1zm0-3zm0 0zm0 5zm-16 1zm0 1zm-5 0zm-2-2zm0 0zm-1 1zm-2 1zm-1-2zm-20 9zm2 0zm3 0zm1 0zm2-2zm14-4zm2 2zm0 2zm5 0zm1-4zm1 0zm0 3zm1 1zm0 0zm1-3zm1 5zm1-4zm1-2zm2 2zm1-2zm3 6zm0-4zm2 2zm1-3zm4 3zm1 0zm0-1zm1-1zm1 0zm0 0zm92-1zm-109 12zm0 2zm-2 0zm-2-1zm0 1zm-4-5zm0 0zm-10 1zm-13 3zm-1-2zm-1-1zm-1 2zm-2 0zm0-2zm0 5zm4 2zm3 3zm3-1zm0-3zm6 5zm17-5zm-10 10zm0-3zm-5 5zm-2 2zm-2-3zm-2-4zm-6 0zm4 14zm1-5zm2 0zm0 1zm0 3zm1 0zm2 1zm0-4zm4 0zm2-2zm2 2zm2 4zm5 2zm-11 2zm-2-1zm-6 1z" stroke="#00ffff" stroke-width="3.4" stroke-linecap="round" fill="none" opacity="0.75"/>
<path transform="scale(0.25)" d="M230 611zm18 3zm8-2zm2-1zm12 9zm-10-2zm-4-2zm-4 1zm0 4zm-1-2zm-3-3zm-1 3zm-2 0zm-2-3zm-3 4zm3 4zm0 2zm2 2zm0-1zm2-1zm2 2zm0-1zm-8 12zm-15 3zm4 1zm3 0zm1 2zm1 1zm0-1zm3 0zm0-5zm2 4zm0-2zm3 3zm82-2zm16 6zm-5 1zm-105 5zm-10-6zm-1-1zm-1 7zm-4 3zm5-1zm3 0zm0 1zm0-2zm0 3zm4-1zm1-2zm1 5zm0-3zm2 1zm1 4zm5-3zm15 3zm65 0zm12-3zm11 11zm-9-4zm-18 1zm-3 0zm-3-3zm0 6zm-2-5zm-27-1zm-4 1zm-2 1zm0 2zm-3-1zm-2 2zm-3 0zm-5 1zm-4-1zm-2-3zm-1-1zm-2 3zm0 0zm-1 2zm-1 0zm-1-2zm-23 2zm-1 0zm-3 8zm5-1zm5 1zm1-1zm1-2zm1 0zm1 3zm1-5zm2 3zm1 0zm0-1zm2-1zm1-2zm6 0zm1 2zm2-2zm20 0zm2 5zm1 1zm2-4zm1 4zm1-3zm2 2zm1 0zm0-2zm19 3zm5-6zm1 3zm5 1zm3-1zm14-1zm6 3zm2-1zm3 2zm1-6zm0 3zm0-2zm2 1zm1 2zm-5 4zm-2 1zm-27-2zm0 2zm-7 0zm-1 3zm-2 2zm-9-1zm-1-6zm-1 7zm-1-1zm0-6zm-3 4zm-20 3zm-12-1zm0-4zm-1 1zm-3-2zm0 4zm-12-5zm-1 5zm-1-5zm-3 1zm-3 6zm-4-3zm-4-2zm-1 0zm-1 2zm0 0zm-1 1zm-2 2zm12 5zm4-3zm8 5zm4 0zm3-1zm1-5zm1 4zm5 0zm3 0zm5-1zm0-3zm3 7zm1-2zm6 0zm3 2zm11 0zm2-3zm1 3zm1-1zm1-1zm4-1zm4-2zm9-2zm4 3zm3 0zm-12 5zm-2 5zm-4-2zm-2 0zm-3-1zm0-1zm-1 0zm-2 4zm-2-3zm0 5zm-1-7zm-10 1zm-2-1zm-4 7zm-3-2zm-2 0zm-3-5zm-1 0zm-4 3zm-1-3zm-2 5zm-7 2zm-15-5zm-2 0zm-2-1zm-3 0zm0 4zm0 2zm-17-5zm-18 10zm8-1zm1 0zm0 0zm3-2zm0 3zm0-3zm4 6zm4-3zm1 0zm0-1zm20 3zm6-2zm23 0zm1-4zm17 0zm3 2zm1 4zm4-4zm1-2zm7 2zm0 0zm1 2zm1-1zm0 2zm0-5zm0 3zm1 0zm2-1zm0 3zm1 1zm1 0zm-3 3zm-4 2zm-6-2zm-5 6zm-19-7zm-5 0zm-15 5zm-13-3zm-21 3zm-5 0zm0-1zm-2 10zm4-5zm2 2zm0-3zm0 3zm16 4zm56-5zm12 4zm4-5zm-36 11zm-29 2zm-2-1zm-7 2zm-50-3zm-3 1zm2 5zm11 5zm1-3zm3-1zm1 2zm1-2zm1 1zm1-3zm3 4zm0 0zm24-5zm-24 13zm-3-5zm-1 0zm-3 4zm-16-4z" stroke="#55ffaa" stroke-width="3.4" stroke-linecap="round" fill="none" opacity="0.75"/>
<path transform="scale(0.25)" d="M245 634zm-13 13zm10-4zm0 1zm1 0zm1 2zm1-4zm2 5zm-8 5zm-2-1zm-3 0zm-2 4zm0 0zm-3 1zm6 0zm3 2zm1 1zm10 4zm1-5zm22 3zm13 6zm-10-3zm-3 3zm0 1zm-2 2zm-11-1zm-6-2zm0-2zm0 2zm0-3zm-1 2zm0 0zm-1 5zm-1-7zm0 1zm0 0zm-1 0zm-9 5zm-5 0zm1 8zm4-5zm2 0zm9 3zm5-4zm2 2zm1-2zm0 5zm2-2zm0 3zm2 0zm0-3zm9 4zm1-3zm1 0zm3 3zm1 0zm7-3zm18-1zm4 7zm-14 5zm-5-6zm-3 0zm-1 1zm-1 0zm-4-1zm0 0zm-5 1zm-1-2zm-4 4zm-6-1zm-3 4zm-12-2zm0 2zm-2-4zm-2 4zm-1-2zm-1 0zm0 2zm0-5zm-6 4zm-5-1zm0-3zm-7 12zm15-5zm3 1zm7 3zm2-5zm16 0zm1 4zm3 3zm9-2zm3 1zm1 0zm0 1zm1-4zm0-2zm0 6zm2-3zm2-3zm3 6zm20 2zm-4 4zm0-3zm-16-1zm0 4zm-3 0zm-2-4zm-1-1zm-1 2zm0 1zm-1-3zm-1 3zm-2-3zm0 5zm0-4zm0 1zm-16 4zm-9-3zm-1 2zm-3-4zm-7 1zm-10 13zm8-7zm4 5zm2 2zm2-1zm1 0zm0 0zm0 1zm0-3zm0 2zm2-1zm0 2zm1-4zm26-1zm0 4zm1-2zm1 1zm1-3zm0 4zm1 1zm1-4zm2 4zm1-3zm0-2zm0 4zm3 0zm0-5zm2 4zm20-4zm-21 10zm-2-2zm-26 5zm-5-3zm-2 3zm-4-1zm-1-5zm0 4zm-1 2zm0-6zm0 3zm-2 1zm-1-4zm-1 1zm-1 3zm-2-2zm-1-1zm-2 1zm-1 1zm0-2zm-1 0zm0 2zm-1 0zm-1 1zm0-2zm-2 1zm-3 0zm-2 4zm-12-1zm-7 5zm2 2zm0-5zm0 7zm2-1zm1 0zm0-6zm6 1zm11 0zm2 3zm2-1zm0-2zm4-1zm8 4zm6-4zm1 0zm0 5zm3-5zm19 7zm4-6zm2 1zm6 3zm0 2zm1-6zm1 6zm2 1zm-4 1zm-6 2zm-1 1zm-1-4zm0 5zm-43-4zm-8 2zm-2 2zm0 0zm0-1zm-2 2zm-2 1zm-1-6zm-1 4zm0 2zm-4-6zm0 2zm-7 3zm-1-4zm0-2zm-1 6zm-7-6zm-1 7zm-2-7zm-12 6zm-6 4zm1 5zm6-1zm0 1zm2-7zm4 4zm4-2zm3 4zm8-6zm9 0zm3 4zm1-4zm1 2zm1 1zm2-3zm2 1zm60 5zm3-5zm-65 8zm-27 0zm-7 4zm-1-3zm0 1zm-1 2zm-2-4zm0 2zm-8-3zm35 10zm1 0zm1 4zm8-5zm1 0zm39 6zm-34 4zm0 3zm-1-1zm-1-1zm0-2zm4 11zm1 0zm1-2zm0 2zm7 9z" stroke="#aaff55" stroke-width="3.4" stroke-linecap="round" fill="none" opacity="0.75"/>
<path transform="scale(0.25)" d="M248 631zm20-2zm1 1zm-11 5zm-3 2zm-1-1zm-4-1zm-1 3zm-1-1zm-1 0zm-1 2zm-4 0zm-4 4zm6-2zm1 3zm0-2zm3 3zm0-1zm1-2zm1 5zm0-5zm1-2zm8 4zm0 7zm-2-2zm-4 6zm-3-1zm-3 1zm0-6zm-4 2zm2 8zm2 1zm3-3zm1-1zm1 2zm1 3zm1 0zm0 1zm1-6zm0 3zm1 1zm2-2zm2 4zm1-1zm2 2zm0-7zm1 1zm9 12zm-2-2zm-2 0zm-2 2zm-13-5zm-1 2zm7 6zm0 3zm1 4zm1-4zm2-2zm25 14zm0-1zm-1 1zm-2-4zm-1-1zm0 3zm-2-1zm0 2zm0-3zm-1 3zm-3-5zm-2 5zm-1-6zm-12 3zm-1-1zm-1-1zm-2 5zm12 7zm8-4zm0-1zm3 3zm5-3zm11 15zm-17-2zm-10-5zm-28 13zm0 2zm4-5zm0 4zm22-2zm4-3zm15 6zm1-4zm0 3zm2 0zm3 0zm2-5zm0 2zm1-1zm-11 6zm-28 6zm-2 1zm-1-3zm0 2zm-3-2zm0 3zm-1 0zm-3-7zm-3 1zm-1 6zm0-5zm0-1zm0 1zm0 4zm-1-5zm0 0zm-1 2zm0 3zm0-5zm-5-1zm-1 7zm-3-2zm-18 9zm7-1zm16 0zm2 1zm1-3zm1 3zm1-3zm1 2zm0-2zm0 4zm5-1zm1-1zm2-2zm0 2zm1 1zm1-6zm0 1zm2 1zm1 4zm0-5zm1 0zm1-1zm28 2zm5 5zm5 7zm-11-5zm-1 6zm-1-4zm0-1zm0 5zm-2-4zm0 1zm-1 3zm-36-6zm-1 2zm-1-1zm0-1zm-1 3zm0-3zm0 5zm-1-6zm-6 3zm-3 4zm-4 0zm-1-1zm-2 1zm-2-2zm-3-3zm-4 4zm0-6zm-4 2zm-6 3zm-3 2zm-1-3zm-1-3zm11 9zm1-2zm0 1zm1 2zm0 1zm0-1zm4 0zm0-2zm0 3zm1-1zm0-1zm1 0zm4 1zm2 0zm1 0zm0 4zm2-7zm1 0zm4 1zm2 4zm2 0zm1-5zm0 0zm0 3zm1 1zm2 1zm2 0zm34-4zm5-1zm1 4zm1 0zm2 2zm0-6zm0 7zm3-1zm0-6zm5 7zm8 2zm-10 1zm-2 3zm-3-4zm-8 5zm-32 1zm-10-5zm-3 0zm0 1zm-2 4zm0-7zm-3 6zm-5 0zm-1-5zm-7 3zm-24 1zm-1 1zm27 2zm5 0zm1 1zm1 1zm3-1zm0 0zm5 1zm0 5zm0-4zm14 1zm1-1zm0-3zm2 2zm1-2zm1 1zm3 0zm2 6zm8-2zm4 2zm10-3zm4-3zm3 2zm4-2zm0 3zm1 0zm3-2zm2 5zm1-7zm0 14zm-2-6zm-1 3zm-1 1zm-2 1zm0-2zm-1 1zm-1 0zm-1-3zm0-1zm0 6zm-2 1zm-2-2zm-1 1zm0-4zm-1-2zm0 6zm-1 0zm-3-1zm-2-1zm0 2zm-3-1zm0-4zm0-1zm0 3zm-2-2zm0-1zm-7 1zm-1 5zm-13-3zm-2 2zm-10 1zm-5-4zm-2 1zm0 3zm-1 0zm-13 2zm5 4zm1-1zm2 4zm2-5zm1-1zm0 5zm1-1zm2-4zm2 6zm2-5zm1 1zm1 0zm1-1zm2 1zm8 3zm18-3zm5-3zm6 0zm5 0zm-8 9zm-18 0zm-12 4zm-5 0zm-1-2zm-2 1zm-4 1zm-2-2zm-1 1zm-1-2zm-3 3zm-4 0zm0 1zm-1-5zm-1 1zm12 6zm0 3zm1-2zm1 1zm19-2zm4 3zm3 3z" stroke="#ffff00" stroke-width="3.4" stroke-linecap="round" fill="none" opacity="0.75"/>
<path transform="scale(0.25)" d="M262 621zm-2-1zm-5 9zm4-1zm2 2zm1-3zm1 2zm1 0zm0 0zm7-4zm1 7zm-2 2zm-3-2zm-3 1zm-9 4zm-9 3zm5 7zm1-1zm2-4zm1 1zm1 1zm7 2zm2-4zm-4 8zm-4 0zm-2 3zm-2 2zm0-2zm-2 2zm-3-1zm-2-6zm3 10zm2-2zm0 6zm0-3zm3-2zm0-1zm0 0zm5 2zm9-2zm1 5zm14 41zm-1 3zm8 5zm-50 16zm2-6zm4 7zm17-1zm2 1zm2-1zm3-1zm-2 3zm-1 1zm-1 2zm0 2zm-1 0zm0 1zm-1-1zm0-1zm-14 1zm-1-4zm-1-1zm-1 4zm0-2zm-1-2zm-2 6zm-1-3zm-1 3zm-2-4zm0 1zm0 3zm-16 4zm1 0zm0 1zm0-1zm4 1zm1 4zm0-1zm1-5zm1 5zm2 1zm0-1zm2-6zm0 7zm2-2zm2-3zm1 3zm0-2zm2 1zm7 3zm1-1zm1 1zm9-5zm1 5zm0-1zm0 1zm0-5zm7 5zm1-6zm1 5zm15-4zm6-2zm1 0zm2 5zm0 1zm-3 3zm-2 2zm-2-3zm-17 0zm0 0zm-1 2zm-2 5zm-2-7zm0 6zm-6-5zm-1 4zm-3-3zm0 0zm-1 1zm-1 4zm-8 0zm-3 0zm-2-6zm-3 1zm0 2zm-3-1zm-3 1zm0-3zm-1 4zm-2-1zm-1 3zm-1-7zm0 5zm0-1zm-1-3zm-4 1zm0 2zm-1 0zm1 4zm2 0zm0 1zm5-1zm5 6zm0 1zm12-6zm3 6zm1-6zm2-1zm1 1zm4 3zm1-3zm0 6zm0-7zm1 1zm0 2zm0-3zm0 4zm1 1zm1 0zm2-5zm5 0zm0 0zm3 2zm9 0zm14 5zm1 6zm-5-1zm-3 2zm-1-2zm-1-4zm-2 1zm0 3zm-1-2zm-2 4zm-6-5zm-1 0zm-24 4zm-1 2zm-2-2zm-1 1zm-4-6zm0 3zm-5-1zm-3-2zm-2 3zm-1-3zm-1 2zm-7 11zm1-1zm1 1zm0-2zm1 1zm1 0zm0-1zm1 2zm1 0zm0-1zm0-2zm1 3zm4 0zm1-3zm0 2zm1 2zm0-3zm1 0zm1 1zm0 3zm1-3zm0 3zm4-6zm5 1zm2 0zm2-2zm0 5zm3-2zm1-3zm10 3zm3 0zm2 1zm1 1zm4 1zm0-2zm11-4zm3 2zm0-2zm1 0zm3 0zm-14 10zm-2 0zm0-1zm-1-1zm0 1zm-1-1zm0 0zm-16 6zm-3-6zm-1 7zm-9-1zm-2-3zm-3 1zm0 2zm0-2zm-1 2zm-3-3zm-1 2zm0 0zm0-1zm-4 0zm-1-2zm0-2zm-1 1zm0 2zm-1-3zm-2 1zm0 1zm-3 3zm-4 1zm11 3zm22-1zm7 2z" stroke="#ffaa00" stroke-width="3.4" stroke-linecap="round" fill="none" opacity="0.75"/>
<path transform="scale(0.25)" d="M263 637zm-3-4zm-5 5zm-2-1zm-1-5zm-7 6zm8 3zm2 3zm4 3zm0-2zm1 2zm1-6zm1 6zm2-5zm1 4zm3 83zm-5 3zm-3 2zm-23 1zm-2 5zm2-2zm6 1zm15-3zm1 6zm3-1zm1-1zm4-4zm4 4zm0 1zm4 3zm-22 7zm-34 3zm6 4zm0-1zm0 1zm1-1zm0-2zm0 3zm1 1zm3 0zm1-5zm1 5zm1-1zm16-4zm3 1zm0 2zm3-2zm2 4zm0-4zm3-2zm3 6zm14-4zm-9 5zm-3 5zm-1-5zm-1 2zm-2 1zm0-2zm0-1zm-3 7zm-1-4zm-8-3zm-2 2zm-18-1zm-6 1zm-3-1zm0 0zm5 10zm20 0zm1-3zm8 4zm2-3zm13 5zm6 5zm-54-3zm13 10z" stroke="#ff5500" stroke-width="3.4" stroke-linecap="round" fill="none" opacity="0.75"/>
<path transform="scale(0.25)" d="M275 751zm0-2zm-5-3zm-1 5zm-4-4zm-5 4zm-4 0zm-2-2zm-26 10zm1-3zm23 2zm4-2zm1-1zm3 3zm2 1zm0-2z" stroke="#ff0000" stroke-width="3.4" stroke-linecap="round" fill="none" opacity="0.75"/>
<path transform="scale(0.25)" d="M266 749zm-1 6z" stroke="#aa0000" stroke-width="3.4" stroke-linecap="round" fill="none" opacity="0.75"/>
<path d="M62.5 137.5C61.5 143 62.5 149 65.5 153.5C69 158.5 73.5 162 76 166.5C78 170.5 79.5 174 86.5 173.8" fill="none" stroke="#111" stroke-width="0.9"/>
<text x="67.5" y="142.8" font-size="7.9" stroke="#000" stroke-width="0.22">CD8<tspan dy="-2.77" font-size="5.14">+</tspan></text>
<text x="29" y="194" font-size="7.8" stroke="#000" stroke-width="0.22">CD4<tspan dy="-2.73" font-size="5.07">+</tspan></text>
<text x="108.3" y="128.6" font-size="7" font-weight="bold" stroke="#000" stroke-width="0.22">(ii)</text>
<text x="150" y="133.5" font-size="7.6" text-anchor="middle" stroke="#000" stroke-width="0.22">CD3<tspan dy="-2.66" font-size="4.94">+</tspan><tspan dy="2.66"> cells (FL)</tspan></text>
<rect x="119.4" y="136.3" width="61.8" height="61.0" fill="none" stroke="#aaa" stroke-width="0.4"/>
<path d="M119.4 136.3V197.3H181.2" stroke="#777" stroke-width="0.5" fill="none"/>
<text x="117.2" y="163.2" font-size="9" text-anchor="middle" transform="rotate(-90 117.2 163.2)" stroke="#000" stroke-width="0.22" textLength="26.6" lengthAdjust="spacingAndGlyphs">tSNE2</text>
<text x="142.9" y="206.3" font-size="7.3" stroke="#000" stroke-width="0.22" textLength="19.5" lengthAdjust="spacingAndGlyphs">tSNE1</text>
<g fill="#5fa3d8" opacity="0.85" filter="url(#spkd)"><ellipse cx="148" cy="180" rx="19" ry="13"/><ellipse cx="150" cy="190" rx="10" ry="6.5"/><ellipse cx="140" cy="166" rx="13" ry="10"/><ellipse cx="160" cy="168" rx="9.5" ry="10"/><ellipse cx="150" cy="158" rx="9" ry="6"/></g>
<g fill="#2f7dbe" opacity="0.85" filter="url(#spk2)"><ellipse cx="142" cy="162" rx="9.5" ry="7" transform="rotate(-20 142 162)"/><ellipse cx="152" cy="160" rx="8" ry="7"/><ellipse cx="158" cy="170" rx="6" ry="7"/><ellipse cx="136" cy="172" rx="6" ry="6"/><ellipse cx="150" cy="176" rx="7" ry="5"/><ellipse cx="152" cy="186" rx="6" ry="4"/></g>
<g fill="#2674b4" opacity="0.95" filter="url(#spkd)"><ellipse cx="167.2" cy="156.4" rx="4.2" ry="3.8"/><ellipse cx="172.8" cy="165.6" rx="4.7" ry="4.7"/><ellipse cx="164" cy="151.8" rx="2.5" ry="2"/></g>
<g fill="#7cc47a" opacity="0.9" filter="url(#spk)"><ellipse cx="129.5" cy="150.7" rx="7.4" ry="5.6" transform="rotate(-15 129.5 150.7)"/><ellipse cx="135" cy="147" rx="3" ry="2.5"/><ellipse cx="161.4" cy="148.2" rx="5" ry="3.2" transform="rotate(-20 161.4 148.2)"/><ellipse cx="132" cy="157" rx="3" ry="2.5"/></g>
<g fill="#f39a2e" opacity="0.95" filter="url(#spkd)"><ellipse cx="147.8" cy="144.2" rx="2" ry="3.6"/><ellipse cx="140.3" cy="150" rx="2" ry="1.4"/><ellipse cx="159" cy="151.6" rx="2.2" ry="1.4"/><ellipse cx="145" cy="150" rx="1.5" ry="1.5"/></g>
<g fill="#d84040" opacity="0.9"><ellipse cx="135.2" cy="157.2" rx="1.5" ry="1.8"/><ellipse cx="137.5" cy="153.5" rx="0.9" ry="0.9"/></g>
<path d="M153.7 137.3C153.2 142 153 146 154.2 149.5C155.6 153.5 158 155.3 160.6 157.4C163.8 160 166 163.5 167.9 167C169.4 169.9 170.5 172 172.3 173C173.8 173.8 175 173.8 176.3 173.6" fill="none" stroke="#111" stroke-width="0.9"/>
<text x="158.2" y="143.3" font-size="7.7" stroke="#000" stroke-width="0.22">CD8<tspan dy="-2.69" font-size="5.00">+</tspan></text>
<text x="120.5" y="194.8" font-size="7.7" stroke="#000" stroke-width="0.22">CD4<tspan dy="-2.69" font-size="5.00">+</tspan></text>
<rect x="120.5" y="209.4" width="3.6" height="2.4" fill="#2674b4"/>
<text x="124.6" y="211.7" font-size="3" fill="#333">Tcm</text>
<rect x="134" y="209.4" width="3.6" height="2.4" fill="#f39a2e"/>
<text x="138.1" y="211.7" font-size="3" fill="#333">Temra</text>
<rect x="149" y="209.4" width="3.6" height="2.4" fill="#35a23a"/>
<text x="153.1" y="211.7" font-size="3" fill="#333">Tn</text>
<rect x="161.4" y="209.4" width="3.6" height="2.4" fill="#d03030"/>
<text x="165.5" y="211.7" font-size="3" fill="#333">Tem</text>
<text x="190.3" y="128.2" font-size="7" font-weight="bold" stroke="#000" stroke-width="0.22">(iii)</text>
<path d="M213.4 140.79999999999998L213.4 189.2" stroke="#000" stroke-width="0.9" fill="none"/>
<path d="M212.95000000000002 189.2L262.5 189.2" stroke="#000" stroke-width="0.9" fill="none"/>
<path d="M211.0 141.1L213.4 141.1" stroke="#000" stroke-width="0.8" fill="none"/>
<text x="210.20000000000002" y="143.2" font-size="6" text-anchor="end" stroke="#000" stroke-width="0.22">100</text>
<path d="M211.0 150.7L213.4 150.7" stroke="#000" stroke-width="0.8" fill="none"/>
<text x="210.20000000000002" y="152.8" font-size="6" text-anchor="end" stroke="#000" stroke-width="0.22">80</text>
<path d="M211.0 160.3L213.4 160.3" stroke="#000" stroke-width="0.8" fill="none"/>
<text x="210.20000000000002" y="162.5" font-size="6" text-anchor="end" stroke="#000" stroke-width="0.22">60</text>
<path d="M211.0 170.0L213.4 170.0" stroke="#000" stroke-width="0.8" fill="none"/>
<text x="210.20000000000002" y="172.2" font-size="6" text-anchor="end" stroke="#000" stroke-width="0.22">40</text>
<path d="M211.0 179.6L213.4 179.6" stroke="#000" stroke-width="0.8" fill="none"/>
<text x="210.20000000000002" y="181.8" font-size="6" text-anchor="end" stroke="#000" stroke-width="0.22">20</text>
<path d="M211.0 189.2L213.4 189.2" stroke="#000" stroke-width="0.8" fill="none"/>
<text x="210.20000000000002" y="191.3" font-size="6" text-anchor="end" stroke="#000" stroke-width="0.22">0</text>
<text x="197.6" y="163.8" font-size="6.4" text-anchor="middle" transform="rotate(-90 197.6 163.8)" stroke="#000" stroke-width="0.22" textLength="49" lengthAdjust="spacingAndGlyphs">% of TIGIT<tspan dy="-2.24" font-size="4.16">+</tspan><tspan dy="2.24"> cells</tspan></text>
<text x="229.2" y="141.5" font-size="5" stroke="#000" stroke-width="0.22" textLength="24.6" lengthAdjust="spacingAndGlyphs"><tspan font-style="italic">P</tspan> &lt; 0.0001</text>
<path d="M220.8 189.2L220.8 191.6" stroke="#000" stroke-width="0.8" fill="none"/>
<path d="M232 189.2L232 191.6" stroke="#000" stroke-width="0.8" fill="none"/>
<path d="M243.2 189.2L243.2 191.6" stroke="#000" stroke-width="0.8" fill="none"/>
<path d="M254.9 189.2L254.9 191.6" stroke="#000" stroke-width="0.8" fill="none"/>
<path d="M218.6 188L223.2 188" stroke="#000" stroke-width="1.0" fill="none"/>
<path d="M220.8 186.8L220.8 188.6" stroke="#000" stroke-width="0.7" fill="none"/>
<rect x="228.6" y="186.2" width="6.8" height="2.4" fill="#000" stroke="#000" stroke-width="0.3"/>
<path d="M232 183.8L232 188.6" stroke="#000" stroke-width="0.7" fill="none"/>
<path d="M229.4 183.8L234.6 183.8" stroke="#000" stroke-width="0.7" fill="none"/>
<rect x="239.5" y="145.7" width="7.4" height="5.1" fill="#000" stroke="#000" stroke-width="0.3"/>
<path d="M243.2 143.8L243.2 164.6" stroke="#000" stroke-width="0.7" fill="none"/>
<path d="M240.2 143.8L246.2 143.8" stroke="#000" stroke-width="0.7" fill="none"/>
<path d="M240.2 164.6L246.2 164.6" stroke="#000" stroke-width="0.7" fill="none"/>
<path d="M251.6 188.3L258.2 188.3" stroke="#000" stroke-width="1.1" fill="none"/>
<path d="M254.9 182.3L254.9 188.6" stroke="#000" stroke-width="0.7" fill="none"/>
<path d="M252.3 182.3L257.6 182.3" stroke="#000" stroke-width="0.7" fill="none"/>
<text x="222.8" y="193.2" font-size="6.6" text-anchor="end" transform="rotate(-58 222.8 193.2)" stroke="#000" stroke-width="0.22">T<tspan dy="1.65" font-size="4.62">N</tspan></text>
<text x="234" y="193.2" font-size="6.6" text-anchor="end" transform="rotate(-58 234 193.2)" stroke="#000" stroke-width="0.22">T<tspan dy="1.65" font-size="4.62">CM</tspan></text>
<text x="245.2" y="193.2" font-size="6.6" text-anchor="end" transform="rotate(-58 245.2 193.2)" stroke="#000" stroke-width="0.22">T<tspan dy="1.65" font-size="4.62">EM</tspan></text>
<text x="256.9" y="193.2" font-size="6.6" text-anchor="end" transform="rotate(-58 256.9 193.2)" stroke="#000" stroke-width="0.22">T<tspan dy="1.65" font-size="4.62">EMRA</tspan></text>
<text x="263.2" y="120.8" font-size="14.5" font-weight="bold" stroke="#000" stroke-width="0.22">C</text>
<text x="362.8" y="126.5" font-size="5.9" stroke="#000" stroke-width="0.22" textLength="90.5" lengthAdjust="spacingAndGlyphs">Ratio: CD3<tspan dy="-2.06" font-size="3.84">+</tspan><tspan dy="2.06">TIGIT</tspan><tspan dy="-2.06" font-size="3.84">+</tspan><tspan dy="2.06">/CD3</tspan><tspan dy="-2.06" font-size="3.84">+</tspan><tspan dy="2.06">TIGIT</tspan><tspan dy="-2.06" font-size="3.84">−</tspan></text>
<path d="M296.2 126.17999999999999L296.2 191.46" stroke="#0a1a2a" stroke-width="0.9" fill="none"/>
<path d="M295.8 191.16L518 191.16" stroke="#111" stroke-width="0.8" fill="none"/>
<path d="M293.8 126.5L296.2 126.5" stroke="#000" stroke-width="0.8" fill="none"/>
<text x="293.0" y="128.5" font-size="5.6" text-anchor="end" stroke="#000" stroke-width="0.22">8</text>
<path d="M293.8 137.3L296.2 137.3" stroke="#000" stroke-width="0.8" fill="none"/>
<text x="293.0" y="139.3" font-size="5.6" text-anchor="end" stroke="#000" stroke-width="0.22">6</text>
<path d="M293.8 148.0L296.2 148.0" stroke="#000" stroke-width="0.8" fill="none"/>
<text x="293.0" y="150.0" font-size="5.6" text-anchor="end" stroke="#000" stroke-width="0.22">4</text>
<path d="M293.8 158.8L296.2 158.8" stroke="#000" stroke-width="0.8" fill="none"/>
<text x="293.0" y="160.8" font-size="5.6" text-anchor="end" stroke="#000" stroke-width="0.22">2</text>
<path d="M293.8 169.6L296.2 169.6" stroke="#000" stroke-width="0.8" fill="none"/>
<text x="293.0" y="171.6" font-size="5.6" text-anchor="end" stroke="#000" stroke-width="0.22">0</text>
<path d="M293.8 180.4L296.2 180.4" stroke="#000" stroke-width="0.8" fill="none"/>
<text x="293.0" y="182.4" font-size="5.6" text-anchor="end" stroke="#000" stroke-width="0.22">-2</text>
<path d="M293.8 191.2L296.2 191.2" stroke="#000" stroke-width="0.8" fill="none"/>
<text x="293.0" y="193.2" font-size="5.6" text-anchor="end" stroke="#000" stroke-width="0.22">-4</text>
<text x="277.4" y="157.3" font-size="5.7" text-anchor="middle" transform="rotate(-90 277.4 157.3)" stroke="#000" stroke-width="0.22" textLength="67.5" lengthAdjust="spacingAndGlyphs">Fold change of expression</text>
<text x="283.6" y="157.3" font-size="5.7" text-anchor="middle" transform="rotate(-90 283.6 157.3)" stroke="#000" stroke-width="0.22">(Log<tspan dy="1.71" font-size="3.71">2</tspan><tspan dy="-1.71">)</tspan></text>
<rect x="298.6" y="169.6" width="5.5" height="14.6" fill="#f58a1f"/>
<path d="M301.3 184.2L301.3 188.8" stroke="#f58a1f" stroke-width="0.75" fill="none"/>
<path d="M299.5 188.8L303.1 188.8" stroke="#f58a1f" stroke-width="0.75" fill="none"/>
<path d="M301.3 191.2L301.3 193.2" stroke="#222" stroke-width="0.6" fill="none"/>
<text x="303.5" y="196.2" font-size="6" text-anchor="end" transform="rotate(-45 303.5 196.2)" stroke="#000" stroke-width="0.22">CCR7</text>
<rect x="307.0" y="169.6" width="5.5" height="13.1" fill="#f58a1f"/>
<path d="M309.8 182.7L309.8 186.8" stroke="#f58a1f" stroke-width="0.75" fill="none"/>
<path d="M308.0 186.8L311.6 186.8" stroke="#f58a1f" stroke-width="0.75" fill="none"/>
<path d="M309.8 191.2L309.8 193.2" stroke="#222" stroke-width="0.6" fill="none"/>
<text x="312.0" y="196.2" font-size="6" text-anchor="end" transform="rotate(-45 312.0 196.2)" stroke="#000" stroke-width="0.22">CD127</text>
<rect x="315.5" y="169.6" width="5.5" height="9.2" fill="#f58a1f"/>
<path d="M318.2 178.8L318.2 182.7" stroke="#f58a1f" stroke-width="0.75" fill="none"/>
<path d="M316.4 182.7L320.0 182.7" stroke="#f58a1f" stroke-width="0.75" fill="none"/>
<path d="M318.2 191.2L318.2 193.2" stroke="#222" stroke-width="0.6" fill="none"/>
<text x="320.4" y="196.2" font-size="6" text-anchor="end" transform="rotate(-45 320.4 196.2)" stroke="#000" stroke-width="0.22">CD28</text>
<rect x="324.0" y="169.6" width="5.5" height="6.6" fill="#f58a1f"/>
<path d="M326.7 176.2L326.7 180.4" stroke="#f58a1f" stroke-width="0.75" fill="none"/>
<path d="M324.9 180.4L328.5 180.4" stroke="#f58a1f" stroke-width="0.75" fill="none"/>
<path d="M326.7 191.2L326.7 193.2" stroke="#222" stroke-width="0.6" fill="none"/>
<text x="328.9" y="196.2" font-size="6" text-anchor="end" transform="rotate(-45 328.9 196.2)" stroke="#000" stroke-width="0.22">CD26<tspan dy="-1.20" font-size="4.80">*</tspan></text>
<rect x="332.4" y="169.6" width="5.5" height="5.7" fill="#f58a1f"/>
<path d="M335.2 175.3L335.2 181.1" stroke="#f58a1f" stroke-width="0.75" fill="none"/>
<path d="M333.4 181.1L337.0 181.1" stroke="#f58a1f" stroke-width="0.75" fill="none"/>
<path d="M335.2 191.2L335.2 193.2" stroke="#222" stroke-width="0.6" fill="none"/>
<text x="337.4" y="196.2" font-size="6" text-anchor="end" transform="rotate(-45 337.4 196.2)" stroke="#000" stroke-width="0.22">CD27<tspan dy="-1.20" font-size="4.80">*</tspan></text>
<rect x="340.9" y="169.6" width="5.5" height="5.9" fill="#f58a1f"/>
<path d="M343.7 175.5L343.7 181.9" stroke="#f58a1f" stroke-width="0.75" fill="none"/>
<path d="M341.9 181.9L345.5 181.9" stroke="#f58a1f" stroke-width="0.75" fill="none"/>
<path d="M343.7 191.2L343.7 193.2" stroke="#222" stroke-width="0.6" fill="none"/>
<text x="345.9" y="196.2" font-size="6" text-anchor="end" transform="rotate(-45 345.9 196.2)" stroke="#000" stroke-width="0.22">CD45RA</text>
<rect x="349.4" y="169.6" width="5.5" height="2.7" fill="#f58a1f"/>
<path d="M352.1 172.3L352.1 177.4" stroke="#f58a1f" stroke-width="0.75" fill="none"/>
<path d="M350.3 177.4L353.9 177.4" stroke="#f58a1f" stroke-width="0.75" fill="none"/>
<path d="M352.1 191.2L352.1 193.2" stroke="#222" stroke-width="0.6" fill="none"/>
<text x="354.3" y="196.2" font-size="6" text-anchor="end" transform="rotate(-45 354.3 196.2)" stroke="#000" stroke-width="0.22">CCR6</text>
<rect x="357.8" y="169.6" width="5.5" height="0.8" fill="#f58a1f"/>
<path d="M360.6 170.4L360.6 174.5" stroke="#f58a1f" stroke-width="0.75" fill="none"/>
<path d="M358.8 174.5L362.4 174.5" stroke="#f58a1f" stroke-width="0.75" fill="none"/>
<path d="M360.6 191.2L360.6 193.2" stroke="#222" stroke-width="0.6" fill="none"/>
<text x="362.8" y="196.2" font-size="6" text-anchor="end" transform="rotate(-45 362.8 196.2)" stroke="#000" stroke-width="0.22">CD161</text>
<rect x="366.3" y="169.1" width="5.5" height="0.5" fill="#f58a1f"/>
<path d="M369.1 169.1L369.1 172.8" stroke="#f58a1f" stroke-width="0.75" fill="none"/>
<path d="M367.3 172.8L370.9 172.8" stroke="#f58a1f" stroke-width="0.75" fill="none"/>
<path d="M369.1 191.2L369.1 193.2" stroke="#222" stroke-width="0.6" fill="none"/>
<text x="371.3" y="196.2" font-size="6" text-anchor="end" transform="rotate(-45 371.3 196.2)" stroke="#000" stroke-width="0.22">CXCR1</text>
<rect x="374.8" y="169.1" width="5.5" height="0.5" fill="#f58a1f"/>
<path d="M377.5 169.1L377.5 172.8" stroke="#f58a1f" stroke-width="0.75" fill="none"/>
<path d="M375.7 172.8L379.3 172.8" stroke="#f58a1f" stroke-width="0.75" fill="none"/>
<path d="M377.5 191.2L377.5 193.2" stroke="#222" stroke-width="0.6" fill="none"/>
<text x="379.7" y="196.2" font-size="6" text-anchor="end" transform="rotate(-45 379.7 196.2)" stroke="#000" stroke-width="0.22">CXCR3</text>
<rect x="383.2" y="169.1" width="5.5" height="0.5" fill="#f58a1f"/>
<path d="M386.0 169.1L386.0 164.7" stroke="#f58a1f" stroke-width="0.75" fill="none"/>
<path d="M384.2 164.7L387.8 164.7" stroke="#f58a1f" stroke-width="0.75" fill="none"/>
<path d="M386.0 191.2L386.0 193.2" stroke="#222" stroke-width="0.6" fill="none"/>
<text x="388.2" y="196.2" font-size="6" text-anchor="end" transform="rotate(-45 388.2 196.2)" stroke="#000" stroke-width="0.22">CD5<tspan dy="-1.20" font-size="4.80">*</tspan></text>
<rect x="391.7" y="168.8" width="5.5" height="0.8" fill="#f58a1f"/>
<path d="M394.5 168.8L394.5 164.2" stroke="#f58a1f" stroke-width="0.75" fill="none"/>
<path d="M392.7 164.2L396.3 164.2" stroke="#f58a1f" stroke-width="0.75" fill="none"/>
<path d="M394.5 191.2L394.5 193.2" stroke="#222" stroke-width="0.6" fill="none"/>
<text x="396.7" y="196.2" font-size="6" text-anchor="end" transform="rotate(-45 396.7 196.2)" stroke="#000" stroke-width="0.22">CCR4</text>
<rect x="400.2" y="168.5" width="5.5" height="1.1" fill="#f58a1f"/>
<path d="M402.9 168.5L402.9 164.2" stroke="#f58a1f" stroke-width="0.75" fill="none"/>
<path d="M401.1 164.2L404.7 164.2" stroke="#f58a1f" stroke-width="0.75" fill="none"/>
<path d="M402.9 191.2L402.9 193.2" stroke="#222" stroke-width="0.6" fill="none"/>
<text x="405.1" y="196.2" font-size="6" text-anchor="end" transform="rotate(-45 405.1 196.2)" stroke="#000" stroke-width="0.22">KLRG1</text>
<rect x="408.7" y="168.3" width="5.5" height="1.3" fill="#f58a1f"/>
<path d="M411.4 168.3L411.4 164.2" stroke="#f58a1f" stroke-width="0.75" fill="none"/>
<path d="M409.6 164.2L413.2 164.2" stroke="#f58a1f" stroke-width="0.75" fill="none"/>
<path d="M411.4 191.2L411.4 193.2" stroke="#222" stroke-width="0.6" fill="none"/>
<text x="413.6" y="196.2" font-size="6" text-anchor="end" transform="rotate(-45 413.6 196.2)" stroke="#000" stroke-width="0.22">CD7<tspan dy="-1.20" font-size="4.80">*</tspan></text>
<rect x="417.1" y="167.7" width="5.5" height="1.9" fill="#f58a1f"/>
<path d="M419.9 167.7L419.9 164.2" stroke="#f58a1f" stroke-width="0.75" fill="none"/>
<path d="M418.1 164.2L421.7 164.2" stroke="#f58a1f" stroke-width="0.75" fill="none"/>
<path d="M419.9 191.2L419.9 193.2" stroke="#222" stroke-width="0.6" fill="none"/>
<text x="422.1" y="196.2" font-size="6" text-anchor="end" transform="rotate(-45 422.1 196.2)" stroke="#000" stroke-width="0.22">LAG-3</text>
<rect x="425.6" y="167.2" width="5.5" height="2.4" fill="#f58a1f"/>
<path d="M428.4 167.2L428.4 162.6" stroke="#f58a1f" stroke-width="0.75" fill="none"/>
<path d="M426.6 162.6L430.2 162.6" stroke="#f58a1f" stroke-width="0.75" fill="none"/>
<path d="M428.4 191.2L428.4 193.2" stroke="#222" stroke-width="0.6" fill="none"/>
<text x="430.6" y="196.2" font-size="6" text-anchor="end" transform="rotate(-45 430.6 196.2)" stroke="#000" stroke-width="0.22">CCR5</text>
<rect x="434.1" y="163.1" width="5.5" height="6.5" fill="#f58a1f"/>
<path d="M436.8 163.1L436.8 157.7" stroke="#f58a1f" stroke-width="0.75" fill="none"/>
<path d="M435.0 157.7L438.6 157.7" stroke="#f58a1f" stroke-width="0.75" fill="none"/>
<path d="M436.8 191.2L436.8 193.2" stroke="#222" stroke-width="0.6" fill="none"/>
<text x="439.0" y="196.2" font-size="6" text-anchor="end" transform="rotate(-45 439.0 196.2)" stroke="#000" stroke-width="0.22">HLA-DR</text>
<rect x="442.5" y="162.4" width="5.5" height="7.2" fill="#f58a1f"/>
<path d="M445.3 162.4L445.3 159.1" stroke="#f58a1f" stroke-width="0.75" fill="none"/>
<path d="M443.5 159.1L447.1 159.1" stroke="#f58a1f" stroke-width="0.75" fill="none"/>
<path d="M445.3 191.2L445.3 193.2" stroke="#222" stroke-width="0.6" fill="none"/>
<text x="447.5" y="196.2" font-size="6" text-anchor="end" transform="rotate(-45 447.5 196.2)" stroke="#000" stroke-width="0.22">PD-1<tspan dy="-1.80" font-size="3.60">low</tspan></text>
<rect x="451.0" y="161.9" width="5.5" height="7.7" fill="#f58a1f"/>
<path d="M453.8 161.9L453.8 158.4" stroke="#f58a1f" stroke-width="0.75" fill="none"/>
<path d="M452.0 158.4L455.6 158.4" stroke="#f58a1f" stroke-width="0.75" fill="none"/>
<path d="M453.8 191.2L453.8 193.2" stroke="#222" stroke-width="0.6" fill="none"/>
<text x="456.0" y="196.2" font-size="6" text-anchor="end" transform="rotate(-45 456.0 196.2)" stroke="#000" stroke-width="0.22">CD69</text>
<rect x="459.5" y="160.4" width="5.5" height="9.2" fill="#f58a1f"/>
<path d="M462.2 160.4L462.2 154.7" stroke="#f58a1f" stroke-width="0.75" fill="none"/>
<path d="M460.4 154.7L464.0 154.7" stroke="#f58a1f" stroke-width="0.75" fill="none"/>
<path d="M462.2 191.2L462.2 193.2" stroke="#222" stroke-width="0.6" fill="none"/>
<text x="464.4" y="196.2" font-size="6" text-anchor="end" transform="rotate(-45 464.4 196.2)" stroke="#000" stroke-width="0.22">CD25</text>
<rect x="468.0" y="156.6" width="5.5" height="13.0" fill="#f58a1f"/>
<path d="M470.7 156.6L470.7 150.4" stroke="#f58a1f" stroke-width="0.75" fill="none"/>
<path d="M468.9 150.4L472.5 150.4" stroke="#f58a1f" stroke-width="0.75" fill="none"/>
<path d="M470.7 191.2L470.7 193.2" stroke="#222" stroke-width="0.6" fill="none"/>
<text x="472.9" y="196.2" font-size="6" text-anchor="end" transform="rotate(-45 472.9 196.2)" stroke="#000" stroke-width="0.22">CD57</text>
<rect x="476.4" y="156.2" width="5.5" height="13.4" fill="#f58a1f"/>
<path d="M479.2 156.2L479.2 151.9" stroke="#f58a1f" stroke-width="0.75" fill="none"/>
<path d="M477.4 151.9L481.0 151.9" stroke="#f58a1f" stroke-width="0.75" fill="none"/>
<path d="M479.2 191.2L479.2 193.2" stroke="#222" stroke-width="0.6" fill="none"/>
<text x="481.4" y="196.2" font-size="6" text-anchor="end" transform="rotate(-45 481.4 196.2)" stroke="#000" stroke-width="0.22">ICOS</text>
<rect x="484.9" y="152.7" width="5.5" height="16.9" fill="#f58a1f"/>
<path d="M487.6 152.7L487.6 144.8" stroke="#f58a1f" stroke-width="0.75" fill="none"/>
<path d="M485.8 144.8L489.4 144.8" stroke="#f58a1f" stroke-width="0.75" fill="none"/>
<path d="M487.6 191.2L487.6 193.2" stroke="#222" stroke-width="0.6" fill="none"/>
<text x="489.8" y="196.2" font-size="6" text-anchor="end" transform="rotate(-45 489.8 196.2)" stroke="#000" stroke-width="0.22">4-1BB</text>
<rect x="493.4" y="151.9" width="5.5" height="17.7" fill="#f58a1f"/>
<path d="M496.1 151.9L496.1 147.0" stroke="#f58a1f" stroke-width="0.75" fill="none"/>
<path d="M494.3 147.0L497.9 147.0" stroke="#f58a1f" stroke-width="0.75" fill="none"/>
<path d="M496.1 191.2L496.1 193.2" stroke="#222" stroke-width="0.6" fill="none"/>
<text x="498.3" y="196.2" font-size="6" text-anchor="end" transform="rotate(-45 498.3 196.2)" stroke="#000" stroke-width="0.22">TIM-3</text>
<rect x="501.8" y="146.3" width="5.5" height="23.3" fill="#f58a1f"/>
<path d="M504.6 146.3L504.6 138.3" stroke="#f58a1f" stroke-width="0.75" fill="none"/>
<path d="M502.8 138.3L506.4 138.3" stroke="#f58a1f" stroke-width="0.75" fill="none"/>
<path d="M504.6 191.2L504.6 193.2" stroke="#222" stroke-width="0.6" fill="none"/>
<text x="506.8" y="196.2" font-size="6" text-anchor="end" transform="rotate(-45 506.8 196.2)" stroke="#000" stroke-width="0.22">BTLA</text>
<rect x="510.3" y="137.0" width="5.5" height="32.6" fill="#f58a1f"/>
<path d="M513.1 137.0L513.1 128.1" stroke="#f58a1f" stroke-width="0.75" fill="none"/>
<path d="M511.3 128.1L514.9 128.1" stroke="#f58a1f" stroke-width="0.75" fill="none"/>
<path d="M513.1 191.2L513.1 193.2" stroke="#222" stroke-width="0.6" fill="none"/>
<text x="515.3" y="196.2" font-size="6" text-anchor="end" transform="rotate(-45 515.3 196.2)" stroke="#000" stroke-width="0.22">PD-1<tspan dy="-1.80" font-size="3.60">high</tspan></text>
<path d="M295.8 169.6L518.5 169.6" stroke="#3a2410" stroke-width="1.0" fill="none"/>
<text x="0.9" y="236.1" font-size="14.5" font-weight="bold" stroke="#000" stroke-width="0.22">D</text>
<text x="17.2" y="243.2" font-size="8" stroke="#000" stroke-width="0.22">(i)</text>
<text x="50.4" y="245" font-size="7.6" stroke="#000" stroke-width="0.22" textLength="19.6" lengthAdjust="spacingAndGlyphs">CD25</text>
<text x="96.4" y="238.8" font-size="9.7" stroke="#000" stroke-width="0.22">T<tspan dy="2.13" font-size="6.40">reg</tspan></text>
<text x="132.4" y="244.4" font-size="7.5" stroke="#000" stroke-width="0.22" textLength="23.4" lengthAdjust="spacingAndGlyphs">CD127</text>
<text x="27.6" y="272" font-size="7.8" text-anchor="middle" transform="rotate(-90 27.6 272)" stroke="#000" stroke-width="0.22" textLength="20.8" lengthAdjust="spacingAndGlyphs">tSNE2</text>
<text x="51.3" y="316.7" font-size="8" stroke="#000" stroke-width="0.22" textLength="21" lengthAdjust="spacingAndGlyphs">tSNE1</text>
<rect x="29.2" y="247.0" width="60.6" height="60.9" fill="none" stroke="#b0b0b0" stroke-width="0.7"/>
<path d="M28.4 255v46M35.2 308.6h48" stroke="#777" stroke-width="0.8" stroke-dasharray="0.5 7.2" fill="none"/>
<linearGradient id="cbD0" x1="0" y1="0" x2="0" y2="1"><stop offset="0.000" stop-color="#800000"/><stop offset="0.125" stop-color="#ff0000"/><stop offset="0.250" stop-color="#ff8000"/><stop offset="0.375" stop-color="#ffff00"/><stop offset="0.500" stop-color="#80ff80"/><stop offset="0.625" stop-color="#00ffff"/><stop offset="0.750" stop-color="#0080ff"/><stop offset="0.875" stop-color="#0000ff"/><stop offset="1.000" stop-color="#000080"/></linearGradient>
<rect x="90.5" y="247.3" width="3.0" height="60.6" fill="url(#cbD0)"/>
<text x="93.9" y="248.8" font-size="1.8" fill="#444">386.3</text>
<text x="93.9" y="263.6" font-size="1.8" fill="#444">88.96</text>
<text x="93.9" y="278.4" font-size="1.8" fill="#444">20.10</text>
<text x="93.9" y="293.2" font-size="1.8" fill="#444">3.267</text>
<text x="93.9" y="308.0" font-size="1.8" fill="#444">0</text>
<rect x="109.8" y="247.0" width="60.6" height="60.9" fill="none" stroke="#b0b0b0" stroke-width="0.7"/>
<path d="M109.0 255v46M115.8 308.6h48" stroke="#777" stroke-width="0.8" stroke-dasharray="0.5 7.2" fill="none"/>
<linearGradient id="cbD1" x1="0" y1="0" x2="0" y2="1"><stop offset="0.000" stop-color="#800000"/><stop offset="0.125" stop-color="#ff0000"/><stop offset="0.250" stop-color="#ff8000"/><stop offset="0.375" stop-color="#ffff00"/><stop offset="0.500" stop-color="#80ff80"/><stop offset="0.625" stop-color="#00ffff"/><stop offset="0.750" stop-color="#0080ff"/><stop offset="0.875" stop-color="#0000ff"/><stop offset="1.000" stop-color="#000080"/></linearGradient>
<rect x="171.1" y="247.3" width="3.0" height="60.6" fill="url(#cbD1)"/>
<text x="174.5" y="248.8" font-size="1.8" fill="#444">386.3</text>
<text x="174.5" y="263.6" font-size="1.8" fill="#444">88.96</text>
<text x="174.5" y="278.4" font-size="1.8" fill="#444">20.10</text>
<text x="174.5" y="293.2" font-size="1.8" fill="#444">3.267</text>
<text x="174.5" y="308.0" font-size="1.8" fill="#444">0</text>
<rect x="211.2" y="247.0" width="60.6" height="60.9" fill="none" stroke="#b0b0b0" stroke-width="0.7"/>
<path d="M210.39999999999998 255v46M217.2 308.6h48" stroke="#777" stroke-width="0.8" stroke-dasharray="0.5 7.2" fill="none"/>
<linearGradient id="cbD2" x1="0" y1="0" x2="0" y2="1"><stop offset="0.000" stop-color="#800000"/><stop offset="0.125" stop-color="#ff0000"/><stop offset="0.250" stop-color="#ff8000"/><stop offset="0.375" stop-color="#ffff00"/><stop offset="0.500" stop-color="#80ff80"/><stop offset="0.625" stop-color="#00ffff"/><stop offset="0.750" stop-color="#0080ff"/><stop offset="0.875" stop-color="#0000ff"/><stop offset="1.000" stop-color="#000080"/></linearGradient>
<rect x="272.5" y="247.3" width="3.0" height="60.6" fill="url(#cbD2)"/>
<text x="275.9" y="248.8" font-size="1.8" fill="#444">386.3</text>
<text x="275.9" y="263.6" font-size="1.8" fill="#444">88.96</text>
<text x="275.9" y="278.4" font-size="1.8" fill="#444">20.10</text>
<text x="275.9" y="293.2" font-size="1.8" fill="#444">3.267</text>
<text x="275.9" y="308.0" font-size="1.8" fill="#444">0</text>
<rect x="290.7" y="247.0" width="60.6" height="60.9" fill="none" stroke="#b0b0b0" stroke-width="0.7"/>
<path d="M289.9 255v46M296.7 308.6h48" stroke="#777" stroke-width="0.8" stroke-dasharray="0.5 7.2" fill="none"/>
<linearGradient id="cbD3" x1="0" y1="0" x2="0" y2="1"><stop offset="0.000" stop-color="#800000"/><stop offset="0.125" stop-color="#ff0000"/><stop offset="0.250" stop-color="#ff8000"/><stop offset="0.375" stop-color="#ffff00"/><stop offset="0.500" stop-color="#80ff80"/><stop offset="0.625" stop-color="#00ffff"/><stop offset="0.750" stop-color="#0080ff"/><stop offset="0.875" stop-color="#0000ff"/><stop offset="1.000" stop-color="#000080"/></linearGradient>
<rect x="352.0" y="247.3" width="3.0" height="60.6" fill="url(#cbD3)"/>
<text x="355.4" y="248.8" font-size="1.8" fill="#444">386.3</text>
<text x="355.4" y="263.6" font-size="1.8" fill="#444">88.96</text>
<text x="355.4" y="278.4" font-size="1.8" fill="#444">20.10</text>
<text x="355.4" y="293.2" font-size="1.8" fill="#444">3.267</text>
<text x="355.4" y="308.0" font-size="1.8" fill="#444">0</text>
<rect x="400.8" y="246.6" width="60.6" height="60.9" fill="none" stroke="#b0b0b0" stroke-width="0.7"/>
<path d="M400.0 254.6v46M406.8 308.2h48" stroke="#777" stroke-width="0.8" stroke-dasharray="0.5 7.2" fill="none"/>
<linearGradient id="cbD4" x1="0" y1="0" x2="0" y2="1"><stop offset="0.000" stop-color="#800000"/><stop offset="0.125" stop-color="#ff0000"/><stop offset="0.250" stop-color="#ff8000"/><stop offset="0.375" stop-color="#ffff00"/><stop offset="0.500" stop-color="#80ff80"/><stop offset="0.625" stop-color="#00ffff"/><stop offset="0.750" stop-color="#0080ff"/><stop offset="0.875" stop-color="#0000ff"/><stop offset="1.000" stop-color="#000080"/></linearGradient>
<rect x="462.1" y="246.9" width="3.0" height="60.6" fill="url(#cbD4)"/>
<text x="465.5" y="248.4" font-size="1.8" fill="#444">400.0</text>
<text x="465.5" y="263.2" font-size="1.8" fill="#444">33.36</text>
<text x="465.5" y="278.0" font-size="1.8" fill="#444">11.77</text>
<text x="465.5" y="292.8" font-size="1.8" fill="#444">1.065</text>
<text x="465.5" y="307.6" font-size="1.8" fill="#444">0</text>
<g filter="url(#spkd)">
<path transform="scale(0.5)" d="M163 530zm2 1zm4-1zm-1 3zm-1-1zm0 2zm-3-2zm0 2zm-1-1zm-1 3zm3 2zm1 1zm0-2zm2-1zm5 5zm0-1zm-1 3zm-2 0zm-4-1zm-1-1zm-3 2zm-1-3zm-1 1zm-1 2zm0 0zm0 4zm0-1zm2-2zm2 2zm1-2zm4 0zm1 1zm-3 6zm-1-3zm0 3zm0 0zm-1-3zm-3 2zm0-2zm-1 2zm-3 0zm-4 1zm-39-3zm-1 0zm0 2zm-3 0zm-2 1zm0 0zm-42 1zm2 2zm1-1zm4 0zm2-1zm31 3zm4-2zm1 0zm3 2zm1 0zm2-1zm14 0zm4 1zm5-2zm10 1zm1 0zm5 1zm2 0zm0-3zm1 2zm2-1zm0 2zm1-1zm3-2zm1 1zm2-1zm3 7zm0-1zm-1-2zm-1 3zm0 0zm-2 0zm-1 0zm0-3zm-1 1zm-1 2zm0 0zm-1-2zm-1 2zm0-2zm0-1zm-2 2zm-19 1zm-3-2zm-2 1zm-1-2zm-1 1zm0 1zm-17-2zm0 0zm-5 2zm-1-2zm0 0zm0 0zm-2 1zm0 1zm0 1zm0-1zm-25-1zm0 0zm-6 1zm0-2zm-2 3zm-4-3zm-1 2zm-1 1zm-1-2zm-3 2zm1 1zm1 0zm0 1zm6 1zm1 1zm2-2zm4 1zm0-2zm1 1zm1 0zm1-1zm3 2zm1 0zm24 0zm19-1zm0-1zm3 2zm4 1zm0-3zm3 0zm0 0zm2 3zm2-2zm2 2zm0 0zm1-1zm1 0zm0 1zm1-1zm0 0zm1-1zm5 2zm1-3zm0 1zm3 0zm2 1zm2 0zm1-1zm0-1zm4 2zm-1 2zm-3 1zm-4 0zm0 1zm0-1zm-5 1zm-1-1zm-1 1zm0 0zm0 0zm-1-1zm0 1zm-1-2zm0 1zm-1 0zm0 2zm-1-2zm-1 0zm-1-1zm-2 0zm0 0zm-1 2zm0-1zm-1-1zm-2 2zm-54 1zm-3-2zm-1 2zm-1-2zm0 1zm-1-2zm0 3zm0-2zm0-1zm-3 2zm-1-1zm-3 0zm-4-1zm-2 1zm0 1zm0 1zm0 0zm-1 0zm-2-2zm3 5zm1-2zm3 0zm1 1zm3 2zm1-2zm1 0zm2 0zm1 1zm0 1zm1 0zm0-2zm1 2zm0-2zm2 1zm2-1zm2 2zm50-3zm2 2zm1 0zm3-1zm1 1zm2 0zm2 1zm0 0zm0-3zm3 0zm2 1zm5 0zm1-1zm5 0zm-7 7zm0-3zm-2 1zm0 0zm-1 0zm-1 2zm-1-3zm0 3zm-1-3zm0 2zm0 0zm0-2zm-1 3zm0-2zm-3-1zm-1 2zm-1-2zm-1 2zm-2 1zm0-2zm-1 0zm-4-1zm-49 3zm-2-3zm0 3zm0-1zm-6-1zm-3 1zm-1 1zm-2-3zm0 0zm-5 0zm0 2zm0 1zm-2 0zm-2-2zm7 6zm0-2zm2 0zm1 1zm1-1zm1-1zm2 0zm1 2zm2-2zm4 1zm2 0zm2 0zm1-1zm52 2zm1-1zm0 1zm2 0zm1-1zm1-1zm2 1zm5-1zm1 0zm-4 5zm0 0zm-1 0zm0 1zm-7 0zm-50 0zm-4-1zm-1 0zm-5-1zm-1 3zm0-1zm-2-2zm-1 0zm-1 0zm-1 2zm0 0zm-2 1zm3 3zm3 0zm4-2zm1 3zm24-3zm-20 4zm0 1zm6 6zm0-1zm12 0zm17-2zm1 1zm1 2zm0-2zm2 2zm0-3zm0 2zm1 1zm5 1zm-1 2zm0-1zm-3 1zm-1 0zm-1-1zm0-1zm-2 3zm0-2zm-2 2zm-2-1zm-22 1zm-1-3zm-1 3zm0-1zm-2-1zm-1 6zm2-3zm1 0zm0 3zm0 0zm1-2zm2-1zm22 2zm1 0zm0 1zm0-2zm0-1zm1 3zm0-2zm1 1zm1 1zm1 0zm1-3zm1 1zm1-1zm0 2zm1-1zm2-1zm-41 4z" stroke="#0000aa" stroke-width="4.4" stroke-linecap="round" fill="none" opacity="0.9"/>
<path transform="scale(0.5)" d="M164 527zm-19-1zm13 5zm0 0zm1-2zm1 1zm1-2zm2 3zm0-3zm1 0zm0 0zm2 2zm0-1zm1 0zm0-1zm1 2zm0 0zm0 1zm2 3zm-4-1zm-3 2zm-3-1zm-3-2zm-3 7zm1-3zm1 1zm0 2zm2-1zm15-1zm0 4zm-8 2zm-1 0zm-2-2zm-3 0zm0 0zm-1-1zm-1 2zm-4-1zm-79 5zm35 1zm1-1zm1 1zm1 0zm2 0zm38-2zm1 2zm3 0zm0 0zm0-3zm4 1zm1 0zm3 1zm4-1zm1 3zm-1 0zm-3 1zm-4-1zm-4 1zm0 1zm0 1zm-2-1zm-2-2zm-1 3zm-4 0zm-4-1zm-2 0zm-2 1zm-3 0zm0-1zm-1 0zm-1-1zm0 0zm-4 2zm-1-1zm0 0zm-1 1zm-9 0zm0-2zm-1 1zm-3 1zm0 0zm-3-2zm0-1zm0 0zm-2 2zm0 0zm-3-1zm-1 0zm0 2zm0-1zm-1 1zm-2-2zm-1 2zm-21 0zm-4-3zm0 1zm-2 0zm-1 2zm-3-1zm0-2zm-2 3zm0 0zm0-1zm0 0zm-1 1zm0-2zm-2 2zm4 3zm1-2zm1 2zm2 0zm0 0zm1-1zm1 0zm2-1zm1 0zm0 3zm1-1zm0-2zm2 1zm1 2zm2-2zm14 2zm0-2zm2 1zm0-2zm1 0zm0 3zm0-2zm1 2zm2-1zm0-1zm9 0zm2-1zm1 1zm2 1zm4 1zm0-2zm0-1zm1 3zm1-3zm1 3zm1-3zm1 2zm3-2zm0 0zm1 0zm4 0zm0 2zm2 0zm3-2zm1 0zm0 1zm5-1zm0 2zm0-1zm1 2zm2 0zm2-3zm0 2zm0 0zm17 0zm1 2zm-4 2zm-10-1zm-9-1zm-1 1zm-1 0zm-2-1zm-2 0zm-4 3zm-3-1zm-1 0zm-5-2zm0 0zm0 0zm-2 2zm-2-1zm-2-1zm-2 0zm-2 1zm-1-1zm-2 3zm0-1zm-1 1zm-2 0zm0-1zm-1-1zm-7 2zm0 0zm-1-1zm0-2zm-1 2zm-4 0zm0-2zm-12 3zm-1-2zm0 1zm-1 0zm-2 0zm-3 1zm-2-2zm-3 0zm-2 0zm-4-1zm-3 3zm-1-1zm-1 0zm1 2zm2 1zm1-1zm1 0zm1 3zm2 0zm2-3zm4 3zm3-1zm4-2zm15 1zm3 0zm3-1zm0 0zm1 1zm1 2zm0 0zm0-2zm1-1zm0 2zm3 1zm1-1zm2 1zm2-3zm0 1zm0 1zm1-1zm11 0zm2 2zm0-1zm5-2zm1 3zm1 0zm2-2zm3 2zm4-3zm8 3zm1-3zm9 3zm-7 3zm-2 1zm-1-2zm-10 1zm-1 0zm-4 1zm0-3zm0 3zm-2-2zm-5 0zm-2-1zm-26 2zm-1-1zm-15-1zm-1 2zm-1 1zm-1-3zm-1 1zm-4-1zm-1 0zm-5 3zm-2 0zm-2-2zm-1 1zm-4 1zm-3-1zm3 5zm2 0zm2 0zm1-2zm4 2zm4-3zm4 0zm0 3zm1-3zm1 1zm2-1zm2 3zm0-2zm0 1zm1-2zm0 2zm1-1zm43 1zm4-2zm1 0zm0 0zm7 3zm13-2zm0-1zm4 1zm1 1zm-4 2zm0 1zm-6-1zm-1 3zm-4-2zm-3 0zm-6 0zm-3 0zm-24 0zm0 2zm-1 0zm-1-3zm-18 1zm-8 2zm-6-1zm0 1zm-4-2zm-1-1zm-2 2zm-3-2zm-1 1zm0 0zm5 6zm11-1zm2-2zm8 0zm14 2zm5-1zm23-1zm2 2zm2-2zm0 3zm6 0zm10-3zm3 0zm-2 4zm-16 0zm-2 0zm-11 2zm-14 1zm-1-3zm0 2zm0 1zm-1-1zm-1-1zm0-1zm-4 1zm-1 1zm-8 0zm-2 0zm-1-1zm-1 2zm-2-1zm0-1zm-1 2zm-3-1zm-4-1zm-6 2zm0-2zm-1-1zm3 6zm2 1zm3-2zm0 0zm0 1zm1 1zm1 0zm2 0zm0-1zm4-2zm4 0zm2 1zm3 0zm2 1zm1-2zm1 2zm2 0zm4-2zm1 1zm0 0zm0 1zm1-2zm0 3zm1-3zm0 2zm1-1zm1 0zm1 0zm0 1zm0 1zm1 0zm0-2zm2 2zm0-1zm1 1zm2 2zm0-1zm0 3zm-1-1zm0-1zm-1 1zm0-1zm-2 2zm-3 0zm0-1zm-4-2zm-2 1zm-1 0zm-1 2zm0-2zm-1 1zm0-1zm-5-1zm-3 2zm0-2zm-4 1zm-13-1zm0 0zm19 7zm9-1zm0-2zm1 1zm1-1zm1 2zm1 0zm2 0zm3-2zm0 1zm8 1zm4 1zm2-1zm0-1zm-33 6zm0-1zm0 1zm-3-3zm1 4zm1 1zm2 1zm0-1zm2-1zm32 3zm-33 1zm-1 0z" stroke="#0000ff" stroke-width="4.4" stroke-linecap="round" fill="none" opacity="0.9"/>
<path transform="scale(0.5)" d="M144 522zm5 0zm2 1zm2 0zm11 3zm-2 0zm-1 0zm-1-1zm-4 0zm-6-1zm-2 0zm-1 3zm-5-1zm0 2zm3 2zm2-2zm1 0zm4 3zm2-1zm1 0zm0 1zm0-1zm3-2zm3 0zm-3 4zm-4 1zm-7 2zm-1-3zm1 7zm2-3zm3 2zm0-1zm0 6zm-1-3zm-1 3zm-1-3zm-39 3zm-8 2zm0 1zm0 1zm2-1zm5 0zm3-2zm5 2zm1 1zm0 0zm0 0zm1 0zm0-2zm4 2zm4-1zm1 1zm1 0zm8-1zm0 0zm2 0zm12 0zm1-1zm-7 5zm-3-1zm0 1zm-4-1zm-1-1zm-7 1zm-1-1zm-1 2zm-1-2zm-1 0zm-1 2zm-1-1zm-20 1zm-2 1zm-2-3zm-1 3zm-1-2zm-25 0zm25 6zm1 0zm24-2zm1 1zm4-2zm-11 11zm1 0zm2-2zm2 2zm0-1zm0 1zm3-2zm0-1zm1 2zm0 1zm2 0zm0 0zm6 3zm-2 0zm-1 1zm-1-3zm-2 1zm-9-1zm0 0zm-4 1zm0 1zm-1 0zm-3 0zm-2 2zm3 0zm0 1zm2 1zm1-1zm3 1zm14 1zm3 4zm0 0zm-1-3zm-2 3zm-2-2zm-11 2zm-3-1zm-3 1zm-2 0zm-3 3zm5-2zm2 2zm1-1zm2-1zm13 2zm2 1zm1-3zm-3 4zm-4 3zm-1 0zm-1-2zm-1 0zm0 1zm0 0zm-1-2zm-1 1zm-1 1zm-1-2zm-8 0zm-2 0zm2 4zm8 0zm1 6z" stroke="#0055ff" stroke-width="4.4" stroke-linecap="round" fill="none" opacity="0.9"/>
<path transform="scale(0.5)" d="M152 518zm-2 1zm-5 1zm4 2zm0-1zm7 4zm0 2zm-2-1zm-3-1zm0 1zm0-2zm-12 0zm-33 2zm-2 1zm-3 1zm1 1zm0 2zm3-1zm1 1zm2-3zm0 1zm0-1zm0 3zm2 0zm34 0zm1 0zm3 0zm3-1zm0 0zm3-1zm0 0zm0 0zm-3 5zm-1 1zm-3-3zm-2 3zm-1-3zm-1 2zm0-2zm-35 2zm-1-2zm-1 3zm-3-2zm0 2zm0-3zm-2 2zm-1-2zm0 6zm1 0zm1-1zm1 0zm0 0zm6 1zm32-2zm3 2zm0 0zm2 1zm1-3zm2 1zm0-1zm1 1zm0 0zm-10 6zm-11-2zm-4 0zm-4 2zm-2 0zm-1 0zm-2-2zm-1 1zm-1 1zm0 0zm-6-1zm-1-1zm-3 2zm-1-3zm0 1zm-1 1zm16 2zm1 0zm0 1zm1 1zm0-2zm0 0zm8 2zm0 1zm6-3zm2 0zm5 0zm0 0zm-17 19zm2 3zm-1 0zm-2-2zm-3 1zm-4 6zm1 0zm0 0zm1 0zm2-1zm1-1zm1 2zm0-1zm2 0zm3 0zm0 0zm1 1zm0 0zm0-1zm1 0zm1 3zm0 0zm0 2zm-1-2zm-1 1zm0-1zm-1 1zm-1 1zm-2 0zm-3-3zm-2 3zm-1 0zm-1 0zm5 4zm2-3zm0 0zm3 0zm3 3zm-7 1z" stroke="#00aaff" stroke-width="4.4" stroke-linecap="round" fill="none" opacity="0.9"/>
<path transform="scale(0.5)" d="M153 514zm2-1zm0 4zm0 0zm-1 1zm-2-2zm-2 0zm0 1zm-3 2zm-44 4zm37 0zm2-3zm-4 7zm0-3zm0 3zm0 0zm-2-1zm-1 1zm-1-1zm-23 1zm-4-1zm-2 1zm-2-2zm0 2zm-2-1zm-1 1zm-1 1zm1 0zm2 0zm10 1zm21-1zm1 3zm1-1zm0 1zm1-3zm4 7zm-1 0zm0-1zm0 1zm-1-1zm0-1zm-24 2zm0 0zm-3-3zm0 3zm-10 0zm-3-3zm-1 5zm3 2zm2-3zm7 2zm5-2zm1 1zm6 1zm5-1zm4 2zm1-1zm8-2zm1 0zm-3 7zm-2-1zm-4-1zm0 1zm-3-1zm0-1zm0 3zm-3-3zm-2 0zm-1 0zm-1 3zm0 0zm-11-3zm-3 0zm15 4zm4 0zm-6 24z" stroke="#00ffff" stroke-width="4.4" stroke-linecap="round" fill="none" opacity="0.9"/>
<path transform="scale(0.5)" d="M148 514zm0 0zm0 1zm0-1zm2-1zm1-1zm1 0zm0 0zm1 0zm1 1zm-50 10zm34 0zm-6 3zm-17 1zm0 0zm-1 0zm-2 0zm-1 0zm-2-1zm-1-2zm0 1zm-3-1zm8 6zm1 0zm0-1zm3-1zm2 1zm2 1zm1 1zm6-2zm1 0zm0 2zm1 0zm1-3zm3 0zm0 0zm4 1zm-1 6zm-5-3zm-4 2zm0 1zm-5-1zm-1 0zm-1 1zm0-2zm-1 2zm-2-3zm-3 2zm0 0zm-1 1zm3 1zm0 2zm1 0zm1-2zm2 3zm1 0zm1-1zm0-2zm5 0zm0 0zm1 1z" stroke="#55ffaa" stroke-width="4.4" stroke-linecap="round" fill="none" opacity="0.9"/>
<path transform="scale(0.5)" d="M106 522zm33-1zm-3 3zm-1 0zm-3 1zm-4 1zm-9 1zm1 4zm1-1zm4 0zm1 3zm-2 0zm4 3z" stroke="#aaff55" stroke-width="4.4" stroke-linecap="round" fill="none" opacity="0.9"/>
<path transform="scale(0.5)" d="M136 517zm-3 1zm0 0zm0 0zm-21 3zm1 0zm1 2zm1 0zm12 0zm1 0zm4-1zm3 1zm0-1zm-6 3zm-2-1zm-3 2z" stroke="#ffff00" stroke-width="4.4" stroke-linecap="round" fill="none" opacity="0.9"/>
<path transform="scale(0.5)" d="M138 513zm-3 3zm-1 0zm-1 1zm0 1zm-4-1zm-3 2zm-2 0zm-1 0zm-1 0zm-2-2zm-2 5zm0-2zm1 3zm1-1zm0-2zm1 1zm0 1zm2-2zm2 3zm0 0zm1-3zm0 1zm0 1zm1-1zm2-1zm2 2zm2 0zm-9 3zm-5-1z" stroke="#ffaa00" stroke-width="4.4" stroke-linecap="round" fill="none" opacity="0.9"/>
<path transform="scale(0.5)" d="M133 504zm5 5zm-3 0zm-3-1zm0 2zm0-2zm-4 7zm3-3zm4 0zm0 2zm1 1zm0-2zm-6 3zm-8 1zm-2-1zm-2 0zm-4 0z" stroke="#ff5500" stroke-width="4.4" stroke-linecap="round" fill="none" opacity="0.9"/>
<path transform="scale(0.5)" d="M130 502zm-9 0zm-3 4zm0-1zm0 2zm0-2zm1 2zm0-3zm0 3zm1 0zm1-3zm10 0zm2 0zm0 0zm1 0zm-1 4zm-1 1zm0-1zm-3 2zm-1 1zm-1 0zm-1 0zm0 0zm-1 0zm0 0zm-2-1zm-1 0zm-2 0zm-1 0zm-4 1zm-1 0zm-1 1zm1 1zm1-1zm4 3zm7-3zm5 1zm1-1z" stroke="#ff0000" stroke-width="4.4" stroke-linecap="round" fill="none" opacity="0.9"/>
<path transform="scale(0.5)" d="M128 503zm-4-1zm-1 1zm-3 2zm0-1zm3 1zm1 2zm1-3zm0 1zm2 2zm0 0zm1-3zm2 2zm-2 2zm-2 1zm-1 0zm0-1zm-2 0zm-5 1z" stroke="#aa0000" stroke-width="4.4" stroke-linecap="round" fill="none" opacity="0.9"/>
</g>
<path transform="scale(0.25)" d="M342 1066zm0 2zm-1-1zm-5-1zm-2 4zm-4 7zm2-4zm0 3zm1-2zm-5 6zm-115 15zm10 0zm110-2zm1 1zm1-1zm1-4zm11 1zm-8 13zm-4-3zm0-3zm0 0zm-4 2zm-1 3zm-3-5zm-100 1zm-1 2zm-1 3zm-10-1zm-1 0zm-1-2zm-76 7zm4 4zm65-1zm1-4zm3 5zm3-5zm3 1zm1 0zm12-1zm4 2zm4-4zm8 4zm25 1zm1-2zm0 3zm1 1zm2-2zm1 0zm0 0zm0 0zm31 2zm8 0zm0-3zm2 1zm4 2zm2-3zm1 1zm2 2zm2-1zm1-4zm-2 10zm0-2zm0 2zm-3-4zm-1 4zm-3 3zm0-7zm-1 7zm-3-7zm-2 1zm-1 6zm-1 0zm-23-1zm0-1zm-36-3zm-26 5zm-11-3zm-8-3zm-57 3zm-2 1zm-1-1zm-2-3zm-1 2zm-4 5zm1 6zm5 0zm0 1zm4-6zm13 3zm5-2zm0 5zm0-1zm2 1zm42-2zm2-4zm4-1zm0 1zm4 0zm59 6zm34-6zm0 1zm5 0zm3 0zm1-1zm10 4zm2 2zm3-6zm3 6zm3 0zm0 4zm-4-3zm-2 0zm0 7zm0-1zm0 1zm-1-6zm-1 6zm-5-1zm0-5zm-1 4zm-2-4zm0 4zm-4 2zm-38-4zm-5 4zm-4-7zm-2 4zm-1-4zm0 2zm-1 4zm-1-6zm-12 0zm-44 7zm-1-7zm0 0zm-43 3zm-26 2zm-2-1zm-2-3zm29 14zm6-7zm143 2zm9-1zm14-1zm-49 14zm-1-2zm-13-4zm-6 1zm-1 3zm-98 1zm-1 1zm-1 1zm-2-4zm0 3zm-3-5zm-1 7zm2 5zm0-4zm1 5zm0-4zm0 0zm1 0zm1 3zm1-1zm1-2zm0-2zm44 6zm62-3zm1 1zm3 1zm7-5zm2 0zm1 0zm1 1zm0 3zm5 3zm0-1zm1-1zm17 0zm-17 3zm-1 1zm-1 0zm0-1zm-1 0zm-128 3zm-1 2zm-1-2zm-16 2zm-3 1zm48 8zm1-2zm13 0zm13 0zm7-4zm1 2zm1 0zm0 2zm1-1zm40 10zm-3 0zm-73-3zm-3-1zm0 2zm-1 0zm-3 3zm-1 0zm74 9zm2-4zm0-3zm1 0zm7 0zm-22 10zm-45 3zm-1-3zm0 3zm-1-1zm-1-3zm0 4zm-5-1zm58 6zm0-1zm9 7zm-1 0zm-62 1zm-1 2zm-4-3z" stroke="#0000aa" stroke-width="3.4" stroke-linecap="round" fill="none" opacity="0.7"/>
<path transform="scale(0.25)" d="M336 1053zm-37 3zm37 0zm1 0zm7 11zm-1 3zm0-2zm-4-2zm-2 4zm-46-3zm32 6zm1-1zm4 1zm3 4zm1-3zm1 0zm0 0zm10 1zm-187 19zm67 1zm1-4zm1 3zm0 0zm2 0zm1 1zm2-4zm71-1zm21 4zm2-3zm2 3zm6-5zm3 5zm0 1zm3-2zm0-1zm0 0zm0-3zm0 6zm0-3zm1 2zm1-2zm2 0zm1 4zm-7 0zm-6 2zm-2-2zm-91 6zm0-4zm-10-1zm-24 6zm-34 0zm-2 0zm-11-4zm10 8zm0-2zm5 1zm1 3zm35 0zm0 0zm1-5zm0 2zm4 3zm15 2zm10-4zm1 4zm1-3zm3 1zm0-2zm2 3zm0-2zm0-3zm1 6zm1 0zm0-1zm7-3zm0 4zm40 8zm-4-2zm-35-4zm-2-1zm-2 1zm-1 1zm-2-2zm-1 0zm0 1zm-1 2zm-18 1zm-5-3zm-2-1zm0 6zm-8-6zm0 1zm-1 5zm-4-6zm-10 5zm-26-5zm-19 6zm-2-1zm-2 2zm0-2zm-28 6zm7 4zm0-4zm2 0zm1 4zm21-1zm1 1zm3-1zm2 0zm2-4zm0 5zm12-2zm1 0zm50 2zm7-5zm27 5zm6 0zm2 0zm6-4zm4-1zm2 4zm1-1zm11-4zm2 2zm29 4zm20 6zm-6-4zm-11 1zm0 0zm-2 4zm-1-4zm0 0zm-1-1zm-1 4zm-1-4zm0 3zm-1 1zm-1-5zm-18 5zm-1 2zm-2-1zm-3-1zm-11-1zm-1-4zm-1 3zm-5 4zm-48-3zm-2 3zm-2-5zm-1 0zm-1-1zm-6-1zm-2 7zm-32 0zm-4-2zm0-3zm-3 3zm-1-5zm-4 4zm-1-4zm-19 2zm-1 0zm-1-1zm-3 5zm-11-6zm-2 0zm12 15zm3-4zm27-2zm0 4zm4-1zm42-4zm4 2zm57 0zm43 1zm1-1zm3 0zm1 0zm-9 11zm0 1zm-41-6zm-3 2zm-37 4zm-61-4zm-12 3zm0 1zm-20-3zm-5-3zm23 9zm10-1zm55 2zm7-2zm25 4zm2 1zm3-5zm18 1zm5 3zm25-4zm4 5zm2-2zm5 0zm-6 5zm-2 0zm-53 7zm-3-2zm-1-1zm-1 0zm0 3zm-33-7zm-19 4zm-50-1zm-2-1zm-1 2zm-1 2zm-4-3zm-1 4zm7 1zm4 2zm0-2zm1 1zm39 3zm2-4zm25 3zm2 3zm1-2zm1 3zm5-1zm17-1zm1 0zm1-1zm2-2zm12 12zm-5-1zm-35-5zm-6 1zm-1-1zm-2 0zm42 8zm0 2zm3-2zm3 6zm3-1zm1-4zm0 9zm0-2zm-7 0zm-57 5zm-10 7zm3 3zm69-2zm1 0zm5 1zm-76 6z" stroke="#0000ff" stroke-width="3.4" stroke-linecap="round" fill="none" opacity="0.7"/>
<path transform="scale(0.25)" d="M283 1054zm1 9zm1 0zm1-7zm2 6zm1-1zm2 1zm1-2zm0 0zm1-3zm0 4zm11 0zm0-2zm6 1zm29-2zm-33 9zm-2 0zm-2-2zm-8 2zm-2 2zm0-4zm-3 2zm-2 2zm0-5zm-2 0zm-73 6zm-3-4zm-2 1zm-8-1zm91 7zm12 13zm-1-2zm-2 3zm-77 8zm3-1zm0-3zm0 3zm61 0zm3-3zm0 2zm3-2zm2 2zm2-1zm4-3zm0 3zm3-4zm1 1zm-11 7zm-41 3zm-50 4zm-6-4zm-29 2zm-2-3zm-7 0zm14 8zm0 0zm0 4zm7-4zm18 0zm62 5zm8 1zm-22 6zm-1-1zm-1 2zm-2-3zm-118 11zm6-2zm83 2zm2-3zm1 3zm2-2zm27-4zm2 3zm1-3zm14 6zm-2 1zm-3 0zm-1 5zm-1-1zm0-1zm-10 2zm-17 1zm-9-6zm-1 1zm-2 1zm0 1zm-5-2zm0 0zm-1 5zm-39-4zm-3 4zm52 9zm6-2zm22-3zm1 0zm1 5zm1-6zm0 2zm2 3zm3-3zm3-3zm1 1zm5 11zm-27 3zm-13-2zm-2 2zm-3-2zm-57 9zm3-2zm54-4zm9 3zm7-3zm17 1zm5-1zm1 2zm1 2zm1-4zm50 5zm-3 3zm-70 3zm0 0zm-1-3zm0 1zm-1 6zm0-3zm-1 1zm-83-3zm-2 2zm53 10zm2-1zm2-5zm14 1zm2 1zm4 4zm9-4zm1 0zm6 1zm7 0zm0 1zm1 6zm-18 0zm27 8zm4 4zm4-4z" stroke="#0055ff" stroke-width="3.4" stroke-linecap="round" fill="none" opacity="0.7"/>
<path transform="scale(0.25)" d="M280 1044zm5 3zm4-6zm0 5zm5-5zm8 4zm0-5zm2 6zm-13 2zm-5 3zm-3 2zm-3-1zm-3 1zm-70 10zm0-4zm0 4zm69-7zm6 6zm5-2zm0-3zm16 7zm-12 3zm-1 0zm-1 2zm0 2zm-1-6zm-1-1zm-70 1zm-3-1zm-2 4zm-2 0zm-6 3zm3 7zm0-2zm5-2zm80-2zm15 2zm-35 10zm-1 2zm-13 0zm-15 0zm-21-1zm-3 2zm-1 0zm-3-5zm0 2zm-2 0zm0 0zm0 1zm-3-4zm-2-1zm11 8zm1 0zm7 0zm14 2zm6 3zm9-1zm5-2zm9-2zm29 1zm7 5zm-51 2zm-5 1zm-9-1zm-66 15zm82-2zm7 4zm-2 2zm-17 4zm-4-2zm-25 9zm24-5zm5 2zm0-3zm1 2zm1 0zm1 2zm1-1zm18 9zm-7 2zm-16-3zm-1 4zm-2-3zm0-2zm-1-2zm0 4zm-1 3zm-1-1zm-2-2zm0-4zm-22 2zm34 11zm2 0zm9-2zm0-2zm4 3zm3-1zm7 8zm-3 3zm-6 0zm-19 0zm-1 1zm-19-4zm17 6zm0-1zm5 0zm19 2zm7-2z" stroke="#00aaff" stroke-width="3.4" stroke-linecap="round" fill="none" opacity="0.7"/>
<path transform="scale(0.25)" d="M277 1047zm2-5zm1 4zm2 0zm1-3zm0-2zm1 1zm1-1zm0 1zm10-1zm-10 8zm-2-1zm-3 3zm0 0zm-1-1zm-1 1zm-6-3zm-8 4zm-43 10zm4-4zm38 3zm3-5zm6 0zm5 6zm4-4zm9 9zm-12-1zm-18-2zm-24 4zm-2-3zm-6 3zm-1-2zm-1 3zm-6-1zm0 3zm-8-7zm-3 6zm1 3zm5 2zm2 4zm0-7zm18 4zm25-2zm1-2zm4 6zm5 0zm21 7zm-1-3zm-3-2zm-16 3zm-1-1zm-1 5zm-1 0zm-1-7zm-6 5zm-2-1zm0 3zm-14-7zm-1 1zm-6 0zm-5 5zm-15-4zm-3-2zm-3 5zm2 4zm42 0zm2 1zm4 1zm11-1zm-33 43zm12 10zm9-2zm-6 4zm-9 5zm-2 8z" stroke="#00ffff" stroke-width="3.4" stroke-linecap="round" fill="none" opacity="0.7"/>
<path transform="scale(0.25)" d="M284 1048zm-1 3zm-4-1zm0 0zm-65 10zm50-1zm-29 5zm-1 3zm-1 0zm0 2zm0-3zm-2-2zm0 3zm-1-2zm-6 4zm1 5zm12-2zm7 4zm20 3zm3-5zm2 7zm-22 5zm-1-2zm-1-2zm-1 0z" stroke="#55ffaa" stroke-width="3.4" stroke-linecap="round" fill="none" opacity="0.7"/>
<path transform="scale(0.25)" d="M251 1053zm-1 3zm3 3zm1-3zm-16 12zm-2-1z" stroke="#aaff55" stroke-width="3.4" stroke-linecap="round" fill="none" opacity="0.7"/>
<path transform="scale(0.25)" d="M268 1029zm4 4zm-33 5zm-1 2zm2 1zm6 4zm26-2zm-20 5zm-1 1zm0 0zm-2-1zm-2 0z" stroke="#ffff00" stroke-width="3.4" stroke-linecap="round" fill="none" opacity="0.7"/>
<path transform="scale(0.25)" d="M251 1029zm2 1zm2-3zm15 2zm5 7zm-2-3zm-1 1zm-3-2zm-30 16z" stroke="#ffaa00" stroke-width="3.4" stroke-linecap="round" fill="none" opacity="0.7"/>
<path transform="scale(0.25)" d="M243 1031zm1-2zm4 0zm2 1zm8-1zm5 0zm2-1zm3 2zm2 2zm-1 0zm-2 3zm-4-3zm-6 0zm-8 4zm-12-4z" stroke="#ff5500" stroke-width="3.4" stroke-linecap="round" fill="none" opacity="0.7"/>
<path transform="scale(0.25)" d="M232 1006zm8 6zm24 1zm6 6zm-1-2zm-24 5zm-3-1zm-7 4zm2 3zm0-2zm2-2zm2 5zm1-2zm1 2zm0-2zm0-2zm1 1zm0 3zm3-1zm-7 4z" stroke="#ff0000" stroke-width="3.4" stroke-linecap="round" fill="none" opacity="0.7"/>
<path transform="scale(0.25)" d="M257 999zm4 8zm-2 0zm0-6zm-6 1zm-24 3zm26 9zm2-1zm2 0zm-27 14z" stroke="#aa0000" stroke-width="3.4" stroke-linecap="round" fill="none" opacity="0.7"/>
<g filter="url(#spkd)">
<path transform="scale(0.5)" d="M284 507zm10 4zm-7-3zm-2 6zm2 0zm0-2zm0 3zm1-3zm3 2zm-5 2zm-1 1zm-2 1zm24 5zm9 4zm-11-3zm0 3zm-7-3zm4 4zm1 0zm16 3zm3-1zm1 0zm0-2zm0 3zm1-1zm0-1zm1 1zm4 0zm2 1zm2 3zm0-1zm-2-1zm-1 3zm0-1zm0 0zm-2 1zm0 0zm-2 0zm-1-1zm-1-1zm-3 2zm-2-3zm-1 3zm-1 0zm-14-3zm-4 0zm19 4zm0 0zm2 3zm3-3zm3 3zm1-1zm2-2zm1 0zm1 1zm2-1zm1 1zm0 3zm-2 1zm-1 1zm-1 0zm-1 0zm-1-2zm0 0zm-1 1zm-2-1zm0 2zm-1-1zm-4 2zm-2-3zm-1 4zm4 3zm0 0zm2 0zm0-2zm3 2zm0-2zm1-1zm2 3zm2-3zm-1 4zm-15 1zm-16 5zm2-2zm11 4zm0 1zm-6 1zm-5-2zm-68 2zm-1 4zm2 0zm2-1zm1 2zm0-2zm3 0zm64-1zm1 0zm0 1zm2 0zm3 0zm1 1zm1-2zm1 3zm0 0zm2 4zm-3-3zm-3 2zm-2-1zm-5 2zm-60-3zm-1 1zm-2-1zm-4 0zm-2 0zm0 2zm0-2zm0 3zm-2 0zm-1-1zm-1 1zm3 2zm0 1zm4-2zm3 2zm0-1zm0 2zm1-1zm0-2zm64 0zm5 1zm3-1zm0 1zm-69 6zm-1-2zm-1 3zm2 3zm1-2zm0-1zm1 2zm0 1zm1-3zm0 4zm-4 0zm0 0zm-2 0zm49 15zm2 0zm0-1zm1-2zm8 7zm-5-2zm0-1zm-5 7zm0-1zm2-1zm2 1zm0-2zm0 0zm2 0zm2 0zm-3 4z" stroke="#0000aa" stroke-width="4.4" stroke-linecap="round" fill="none" opacity="0.9"/>
<path transform="scale(0.5)" d="M291 503zm-1 0zm-7 0zm-2 0zm-1 3zm0-1zm2 0zm3 1zm2-2zm2 0zm1 3zm3-3zm3 2zm0 0zm0 1zm1-1zm0 5zm-1-1zm-1-1zm-1-1zm0 2zm-1-1zm0 1zm-2-1zm-10-1zm0 2zm0-1zm0-1zm0 2zm0-1zm-1-1zm-1 1zm0 6zm1-1zm7-1zm5-1zm2 0zm0 1zm0 2zm1-2zm0 1zm2-2zm1 1zm12-1zm6 4zm-1 2zm-2 0zm0-2zm-2 2zm-6 0zm-2 0zm-10 1zm0 0zm-3 0zm-1-2zm-1 1zm-4 1zm-1-3zm3 5zm4 0zm3 1zm2 0zm2 1zm1-1zm2 1zm1 0zm0 0zm1 0zm0-2zm1 0zm2 1zm2-2zm2 3zm0-2zm0 0zm1 0zm1 2zm15 3zm-3-1zm0 2zm-1-2zm-1 1zm-2 0zm-3 1zm0-2zm-1 2zm-2 0zm-7 0zm-1-2zm-1-1zm-2 3zm-1-1zm-1 1zm-1-2zm-1 0zm-1 0zm-5 2zm-4 0zm4 4zm0-1zm4-2zm6 3zm1-3zm3 2zm2-1zm2 0zm1 0zm1-1zm1 0zm2 2zm0 1zm5 0zm0-2zm4 2zm4 0zm0-2zm2 2zm1-1zm2 3zm-1 1zm-2-1zm-9 0zm-1-1zm-2 3zm0-2zm-6-1zm-3 2zm-2-2zm-2 3zm-1-2zm-2 2zm-1-3zm-2 2zm0-2zm-2 3zm0 0zm0-1zm-1 0zm-1-1zm0 0zm-3 0zm11 5zm1-1zm1 0zm1-1zm1 3zm6 0zm0-3zm1 2zm8-1zm3-1zm3 0zm6 3zm0 2zm-5 2zm-3-1zm0-2zm-6 0zm-5 0zm-1 2zm-2-1zm-1-1zm0 2zm-2-1zm-7 6zm8-3zm5 1zm0 1zm2-2zm2 0zm6 2zm1 1zm1 0zm2 0zm0 3zm0 1zm-1-1zm-4-1zm-1 1zm0 1zm0-2zm-1-1zm0 0zm-1 1zm0-1zm-1 0zm0 2zm-3 0zm-1 0zm-1 1zm-7-1zm-4-1zm-2 1zm0 1zm-3 0zm-1-3zm0 1zm-66 6zm3 0zm60-1zm1-2zm3 1zm0 1zm0-1zm2 2zm3-3zm3 1zm2 0zm3 2zm3-1zm4 1zm0-2zm0 1zm0 0zm4-2zm3 1zm1 0zm1 2zm1-3zm1 3zm0-2zm1 0zm0 2zm0 0zm0 0zm1 4zm-1-1zm-7 1zm-5-2zm-2 2zm-1-1zm-6 0zm-2-2zm0 2zm-2-1zm-3 0zm-1 1zm-2-2zm0 0zm0 3zm-1-2zm0 2zm-1 0zm0-3zm-1 1zm-52 2zm-3-3zm-1 3zm-1-2zm-1 2zm-2 0zm-1 0zm-1 0zm-1 0zm-2-1zm0 1zm-2-3zm-1 1zm-2 2zm0 1zm1 0zm1 3zm0 0zm1-2zm1 2zm6-2zm2 0zm4 1zm1-2zm1 2zm53-1zm1-1zm1 0zm0 3zm1-2zm3-1zm2 1zm4-1zm1 1zm0-1zm0 1zm3 1zm2 1zm0 0zm1 0zm2-2zm0 0zm2 2zm2-3zm1 3zm1-3zm1 0zm4 4zm-5 2zm0 0zm-1 0zm-5-2zm-1 2zm0 0zm-1-1zm0 0zm-1 2zm-1-1zm-2-2zm-1 3zm0-3zm-6 2zm-6 1zm-53-2zm-1 2zm0 0zm-1 0zm-11-2zm-2 2zm-1 0zm-3-1zm-2 0zm0 0zm-1 0zm1 4zm1 0zm1 0zm2-2zm2 0zm0 2zm6-2zm1 3zm3 0zm5 0zm54-3zm3 3zm0-2zm2 0zm1 0zm4 2zm2 0zm1-1zm6-2zm2 2zm1 1zm-4 2zm0 1zm0 1zm-1-2zm-3 0zm0-1zm0 1zm-1 1zm-1-1zm0-1zm-3 2zm0 1zm-1 0zm-1-1zm0-1zm-1 0zm0 0zm-58 1zm0 1zm-1-3zm0 2zm0 0zm-1-1zm-2-1zm0 3zm0-2zm-2 2zm-1-1zm-1-1zm0 1zm-2 1zm-3-2zm0 0zm0 0zm-2-1zm0 0zm-2 1zm-1-1zm0 2zm2 3zm7 1zm1-1zm7 0zm1 2zm2-3zm67 0zm-68 5zm-1 0zm-1 1zm-6-1zm-1 0zm0 1zm-1 1zm0-2zm-2 0zm7 3zm45 10zm3 0zm2-1zm4 3zm-11 1zm1 5zm9 1zm1-1z" stroke="#0000ff" stroke-width="4.4" stroke-linecap="round" fill="none" opacity="0.9"/>
<path transform="scale(0.5)" d="M292 503zm-1-1zm0 0zm-6-1zm-7 2zm-1 3zm2 0zm0-1zm19 3zm0 0zm-19 3zm-2-1zm-1 2zm1 2zm2 0zm18 1zm12-1zm2 0zm1-1zm1-1zm1 3zm3 2zm-1-1zm-1 0zm-1 0zm-1 3zm-3-2zm-10-1zm-1 0zm0 2zm-5 0zm-15-1zm-2 0zm6 4zm0 2zm1-1zm1 0zm0-1zm1 2zm1 0zm2-1zm0-1zm1 2zm2 0zm4-3zm10 2zm6-1zm-7 5zm-10 0zm-1 1zm-2 0zm-3-2zm-2-1zm0 1zm1 3zm4 2zm-1 2zm-1 3zm-3-3zm-1 3zm-1-2zm-1 1zm0-1zm9 3zm1 0zm1 3zm1-1zm12 1zm-11 3zm-1 0zm-3-2zm2 4zm6 3zm4 0zm6-1zm2-1zm-1 4zm-2 1zm-1-2zm-5 1zm-8 0zm0 2zm-66 4zm3-3zm0 2zm1-2zm0 1zm1 2zm7-1zm0 0zm1 0zm72-1zm2-1zm1 2zm1 0zm13 5zm-2 0zm-4-1zm0-2zm-1 2zm-3 0zm0-1zm-95 2zm0-1zm-3 5zm1-3zm1 0zm21 1zm1 2zm49-2zm1 1zm21-2zm7 0zm3 2zm1 0zm1 0zm0 1zm1 0zm0 0zm-1 4zm-1-1zm0-2zm0 1zm-3 2zm0 0zm-1-1zm0-2zm-1 2zm-3-2zm-22 3zm-1-3zm-1 0zm-49 2zm-1 1zm0-1zm0 0zm-20 0zm-4-2zm24 4zm0 0zm1 2zm2 1zm47-2zm1 2zm2-1zm20-1zm0 0zm1 2zm2-3zm1 0zm2 0zm-5 4zm-1 1zm-2 1zm0 1zm-1-2zm-2 2zm-9 0zm-2 0zm-1-1zm-1-2zm-1 2zm-1 1zm-49-3zm-3 0zm-11 3zm-5 0zm-3-1zm4 4zm1-1zm68 0zm1 1zm0-1zm0-1zm2 1zm8 0zm1 2zm2-2zm0 1zm0 1zm1-3zm2 1zm1-1zm0 0zm-4 4zm0 1zm-1 0zm-1 0zm-1 0zm-1-1zm0 3zm0-2zm-1-1zm-1 0zm0 3zm-4-1zm-1-2zm-4 0zm-68 1zm4 4zm0 1zm4-1zm3 1zm4-2z" stroke="#0055ff" stroke-width="4.4" stroke-linecap="round" fill="none" opacity="0.9"/>
<path transform="scale(0.5)" d="M274 507zm0 4zm2 2zm2 7zm2 1zm2 1zm1 2zm2 11zm-1-1zm-1-1zm2 5zm1-2zm8 6zm-1-2zm0 3zm-2-2zm-3 0zm6 4zm1-1zm2 1zm-3 6zm0-2zm-2-1zm-55 2zm-4-2zm-1 0zm-1 1zm0 0zm8 3zm4 1zm2 0zm0 1zm1 1zm3 3zm0 0zm-2-2zm1 5zm1 2zm1-3zm43 1zm4 5zm-1-2zm-46 3zm-1 2zm3 0zm53 6zm-8-1zm0 0zm-1-2zm0 3zm-42-1zm0 1zm-1-2zm-1 6zm45-3zm2 1zm2 2zm0 0zm2 0zm9 4zm-3-3zm-56 0zm-11 7zm6-2zm1 1zm2-1zm0-1zm-6 4zm0 0z" stroke="#00aaff" stroke-width="4.4" stroke-linecap="round" fill="none" opacity="0.9"/>
<path transform="scale(0.5)" d="M273 510zm1 3zm1 6zm-1-1zm-1-1zm10 8zm-1 6zm2 3zm-1 0zm2 4zm4 5zm-3-2zm-1 1zm0-1zm-53 6zm0 0zm1-1zm2 0zm0 1zm3 0zm51-3zm0 0zm1 3zm2 4zm-1-2zm0 1zm0 1zm0-2zm0 1zm-1 1zm-1-1zm-1 1zm-49-2zm-4 0zm8 3zm45 1zm4 0zm1 6zm0 0zm-2-1zm-42-2zm-1 0zm43 5zm0 1zm1-1zm3 6zm-1-2zm-1 6zm1-1zm2 4zm-2-2zm-1 0zm-38 3zm0-2zm37 5zm5-2zm2 0zm-7 6zm-2-2zm-38 4zm35 4zm-2 1z" stroke="#00ffff" stroke-width="4.4" stroke-linecap="round" fill="none" opacity="0.9"/>
<path transform="scale(0.5)" d="M273 519zm0-3zm-1 0zm1 5zm1 7zm3 1zm2 0zm0 2zm2-2zm-4 6zm-1-3zm4 5zm2 2zm4 2zm-3 2zm1 4zm1 0zm4-2zm0 6zm-1-1zm0 1zm0-3zm-1 0zm-3 1zm1 5zm0-2zm5 3zm1-2zm0 4zm0 1zm-2-2zm0 3zm-1 0zm-2 0zm0-2zm-2 6zm4-3zm1 1zm1 2zm1-1zm0 1zm1 2zm-1 2zm0 0zm-1 0zm0-2zm-3 1zm-6 1zm0 1zm9 2zm0-1zm0 1zm1-2zm0 3zm0 0zm1-3zm1 6zm-1-2zm-1 0zm-1 3zm-1-1zm-1-1zm-1 2zm-7 0zm-24 4zm27 0zm2-3zm0 1zm1 2zm4-3zm2 0zm-2 4zm0 0zm-6 0zm-28 1zm-1 0zm-1 1zm29 2zm0 3zm2-1zm0-2zm-3 6zm0 0z" stroke="#55ffaa" stroke-width="4.4" stroke-linecap="round" fill="none" opacity="0.9"/>
<path transform="scale(0.5)" d="M273 520zm1 3zm4 4zm-2 0zm-1-2zm-2 2zm-1-2zm0 0zm0 3zm6 1zm1 4zm0 2zm-1-1zm-1-2zm-3 0zm0 0zm1 4zm4 3zm0 0zm4 4zm-1-1zm0 0zm-3 0zm1 2zm2 1zm1 2zm0-3zm1 7zm0 0zm-3-3zm1 5zm0 0zm1 3zm-8 2zm-14 2zm1 0zm1 3zm0 0zm0-1zm3 1zm2-2zm1 1zm3-1zm2 2zm1-1zm2 0zm5-1zm4 1zm-5 2zm0 1zm-1-1zm-1 3zm-1-3zm-6 2zm-1 0zm-2 0zm-4-2zm-2 0zm10 4zm1 1zm1 0zm0 2zm1-2zm2 0zm0 2zm2 0zm0-1zm1 1zm0 0zm3-1zm3 5zm-7 0zm-3-3zm-1 0zm-1 2zm-2-1zm0 4zm2-1zm1 2zm1-2zm0 0zm0 3zm2-2zm1-1zm0 3zm1-1zm0-1zm0 0zm1 2zm2-2zm-1 4zm0 2zm-2-2zm-2 1zm-23-1zm24 4zm1-1zm0 3zm0 2zm-1 1zm-2-2zm3 4z" stroke="#aaff55" stroke-width="4.4" stroke-linecap="round" fill="none" opacity="0.9"/>
<path transform="scale(0.5)" d="M268 522zm1 0zm1 0zm0 0zm0 8zm1 1zm1 2zm3 6zm0-1zm0 0zm1 1zm2 4zm-1-2zm0 1zm-1-1zm-1-1zm1 5zm1 0zm0-1zm1 0zm0 0zm3 4zm-1 3zm0-1zm-1 1zm-17 3zm1 0zm3 0zm3 0zm1-1zm4 2zm3-2zm1 0zm1 2zm1-3zm1 1zm2 5zm-3-1zm-4-1zm0 0zm-2 3zm-1-1zm-3 0zm0 1zm0-1zm0 1zm0 0zm0 0zm-2 0zm-1-1zm-2 0zm0 1zm-1-3zm-1 1zm-3 0zm7 4zm1-1zm1 0zm1 0zm3 1zm1 2zm1-1zm1-2zm1 0zm5 0zm-6 4zm-1 0zm-4 0zm0 1zm-4 2zm-2-2zm8 9zm-3 5zm3-2zm2 2zm2 0zm1 1zm-1 3zm-1-2zm-1 1zm0 1zm-4 0zm-1 0zm-3 0zm-3-1zm-1 1zm-3-1zm-2-1zm-2 2zm2 4zm10-2zm1-1zm1 3zm1 0zm0-1zm0-1zm0 1zm1 0zm1 0zm2-2zm0 1zm1 1zm4 1zm0 4zm0-2zm-2-1zm0 2zm0 0zm-3 0zm-1 0zm-3 1zm-1 0zm-1-2zm9 6zm0-2zm0 0zm-14 8zm1 1zm-4 2z" stroke="#ffff00" stroke-width="4.4" stroke-linecap="round" fill="none" opacity="0.9"/>
<path transform="scale(0.5)" d="M267 523zm0 1zm0 6zm1 0zm3 3zm0 2zm1 2zm3 4zm-1 0zm0-1zm-1 0zm-1 1zm-10 3zm1 2zm1 1zm1 0zm3-1zm5 1zm1-1zm1 1zm2-2zm0 0zm0 3zm-3 1zm-1-1zm-3 3zm0-3zm-2 2zm-3-2zm0 3zm0 0zm-2-1zm-2-1zm-1 0zm0 0zm1 4zm1-1zm4 3zm0-1zm5 0zm3-1zm-3 3zm-16 31zm2-1zm3-2zm2 0zm0 3zm1-2zm0 0zm3 1zm1 1zm1-3zm0 3zm5 4zm-1-1zm-2-1zm0 1zm-1 0zm-2 0zm0-1zm0 0zm-1 0zm-3-1zm0 0zm-2 1zm-1 1zm0-2zm-4 0zm-1 3zm0-1zm0-1zm6 6zm14-1zm1-1zm0 0zm-10 4zm-1 1zm-2 1zm-1-3zm0 2zm-1 1zm-2-2zm-2 3zm1 1zm0-1zm4 0zm1 2zm1 0zm-1 2z" stroke="#ffaa00" stroke-width="4.4" stroke-linecap="round" fill="none" opacity="0.9"/>
<path transform="scale(0.5)" d="M264 523zm2 0zm0 4zm-1-1zm-3 1zm-1 0zm-1 0zm-2 4zm3-2zm2 1zm1 0zm4 0zm1 4zm0 0zm-3-2zm-7 4zm3 1zm1 1zm1 0zm1-1zm2 0zm0 1zm0 1zm1 0zm1-3zm0 3zm3 1zm-1 2zm0-2zm-3 2zm-2 0zm-1-2zm-1 3zm-1-3zm0 6zm2 0zm0 0zm0-2zm1 2zm1-2zm1 0zm0 0zm2 2z" stroke="#ff5500" stroke-width="4.4" stroke-linecap="round" fill="none" opacity="0.9"/>
<path transform="scale(0.5)" d="M263 524zm-3 2zm0 1zm0-1zm-1 3zm2 0zm0 2zm4 4zm-1 0zm0-2zm-5 5zm9 4zm-6 4zm4-2z" stroke="#ff0000" stroke-width="4.4" stroke-linecap="round" fill="none" opacity="0.9"/>
</g>
<path transform="scale(0.25)" d="M571 1006zm-5-6zm0 0zm-3 9zm7 6zm11-6zm-8 9zm-2 2zm-1-1zm-2 0zm16 9zm37 3zm4-1zm4 9zm-1-4zm0 4zm0-4zm-2-3zm-2 2zm0-1zm-2 1zm-5 0zm-8 4zm0-1zm-1 2zm-1-1zm-1-3zm-29 4zm-2-3zm-1 0zm0-1zm0 5zm28 7zm5-5zm0 4zm4 1zm18-4zm0-2zm1-1zm1 1zm12 14zm-28-5zm-2 1zm0 3zm-2-3zm0 4zm-4-5zm-1-1zm-10 6zm0 0zm-2-1zm2 2zm6 2zm0 1zm4 2zm1-1zm3-2zm28 1zm2-1zm2 3zm19 5zm-3 5zm-3-1zm-4-4zm-7-2zm-2 0zm-36 0zm-3 0zm37 10zm3-2zm5 4zm2 0zm18 10zm-10-5zm-4 1zm-1-1zm0 4zm-5-1zm-13 11zm1-7zm7 1zm2 3zm1 3zm4-1zm14-5zm0-1zm1 2zm0-1zm-26 10zm0 3zm-2-3zm0 3zm-1-4zm-1 1zm-1 1zm0-1zm-41 12zm1-2zm35-5zm0 4zm2 0zm3 0zm1-2zm16 5zm-53 2zm-2 0zm0-1zm-2 0zm-1 1zm69 18zm-182 2zm-3 0zm-1 2zm0-1zm-2-1zm-26-1zm31 4zm1 5zm2 0zm1-5zm0 5zm3 1zm2-4zm5 7zm-12 0zm0 0zm-17 6zm-3-1zm-4-1zm0-1zm18 10zm7 0zm1 10zm94 34zm4 3zm0-4zm0 6zm1-3zm1 2zm0-1zm0-2zm2 4zm6-2zm2-4z" stroke="#0000aa" stroke-width="3.4" stroke-linecap="round" fill="none" opacity="0.7"/>
<path transform="scale(0.25)" d="M564 999zm19 7zm-5-6zm-6 4zm-1-1zm-6 1zm-4-1zm-1-1zm-1 4zm0-3zm-3 4zm0 3zm5 0zm2-2zm5 4zm0 3zm1-7zm1 0zm1 2zm9-1zm2 0zm5 14zm0 0zm-20-5zm-11-1zm30 10zm1-1zm18-1zm17 10zm-6 0zm-5 0zm-2 2zm-24 1zm-1-1zm0 1zm-1 0zm-11 1zm3 3zm10-2zm2 0zm28 0zm2 6zm1-5zm1-1zm16 11zm0 3zm-1-1zm-2-1zm-36 3zm-1-1zm0-1zm-1-1zm-2 8zm1-4zm1 0zm9 5zm1 0zm4-1zm23-1zm5 0zm4 4zm1-4zm5 2zm4 2zm18-1zm-5 2zm-19 5zm-2-1zm-1-4zm-4 0zm0 15zm2-2zm3 0zm13 9zm-1-6zm-15 3zm-1 0zm-1-3zm-1 2zm-1 4zm-1-4zm-1-2zm-9 7zm-11-6zm-20 4zm11 6zm12-3zm6 0zm3 1zm14 6zm0-1zm2 0zm0 1zm1-1zm0-2zm0-1zm4-3zm0 2zm2 2zm2-1zm2 5zm-3 5zm-4-4zm0 3zm-5 1zm-1 2zm-1 0zm-1-4zm-1 4zm0-4zm-2 2zm0 1zm-5 1zm-170 8zm133-3zm5 1zm1 0zm1-3zm1 1zm1 3zm3 0zm17-3zm2 4zm9-3zm0 0zm0 0zm0-4zm3 2zm8 6zm-196 4zm173 8zm4-2zm3 0zm0 0zm1 3zm1-1zm5-2zm3 1zm5 2zm1-1zm1 0zm2-2zm15 12zm-2-1zm-19-4zm-180 2zm-5-1zm-2 0zm-1 1zm-2 0zm6 5zm24 5zm0 1zm2-2zm1 0zm1 0zm113-3zm4-1zm2 3zm22-3zm1 5zm5 0zm1 2zm1 0zm0 0zm1-1zm19-1zm3 2zm4-7zm-10 10zm-16-1zm-3-1zm-5 0zm-130 2zm-10 3zm-1-3zm-12 3zm-4 0zm-2-3zm-3 2zm-2-3zm-4 6zm-3-5zm1 7zm5 1zm9 1zm1 0zm1 1zm2-2zm3-2zm0 4zm2-1zm0 4zm156-1zm-154 4zm113 36zm-15 3zm4 4zm1-3zm7 5zm0-5z" stroke="#0000ff" stroke-width="3.4" stroke-linecap="round" fill="none" opacity="0.7"/>
<path transform="scale(0.25)" d="M572 997zm0 0zm1-1zm2 3zm14 8zm-17-7zm-4 3zm-3 3zm-16 3zm7 6zm10-4zm1 0zm1-1zm21 1zm0-2zm1 3zm1-3zm0 3zm0-3zm3-1zm10 14zm-7 1zm-25-7zm-11 4zm-1 0zm-6 0zm-1-1zm-1 3zm0 1zm-1-2zm-3 2zm-1-4zm-2 3zm-1-2zm47 11zm5-7zm2 1zm20 5zm2 9zm-1-1zm-27-3zm-14 15zm-2-1zm-2 3zm-5 6zm12 1zm2 1zm5 0zm0-1zm1 4zm1-3zm0 0zm1 1zm1-2zm4 3zm-12 7zm-1 2zm-1-2zm-2 3zm2 0zm1 3zm1-2zm2 3zm4-1zm23 12zm-5-5zm-16 10zm8 2zm3-1zm0-1zm1 3zm4-2zm1 1zm3 1zm1-1zm1-1zm2-4zm27 4zm-15 10zm-6-3zm-9-4zm-3 1zm-4 1zm0-2zm-1 2zm-3-1zm-113 5zm-20-5zm8 11zm1 1zm1-4zm1 4zm0-1zm0 0zm1-2zm3-2zm1 2zm6 5zm3-4zm3 1zm104-3zm31 0zm8 3zm1 1zm14-2zm-156 7zm-3-1zm-3 6zm-1-5zm-3 2zm105 7zm0 3zm43 1zm3 0zm1-3zm1 1zm0-3zm14 12zm-10 1zm-6-6zm-37 8zm0-1zm30 7zm0 0zm3-1zm7-6zm5 4zm3 3zm1-3zm4 1zm1 2zm-8 1zm-48 2zm-7 3zm-2-2zm0 1zm-134 0zm7 6zm0 1zm1-1zm6 0zm121-1zm9 4zm32 2zm1-5zm6 1zm-6 7zm-145 7zm2 4zm3-2z" stroke="#0055ff" stroke-width="3.4" stroke-linecap="round" fill="none" opacity="0.7"/>
<path transform="scale(0.25)" d="M554 1024zm17 25zm-1 1zm13 22zm1 7zm2 5zm-5 1zm-1-2zm-2 0zm-1-2zm-3 0zm-3 6zm0-4zm-108 11zm7 2zm-2 0zm0 4zm0-3zm-2 0zm0 2zm10 7zm4 2zm1-2zm4 5zm0-2zm0-3zm0 5zm1-2zm0 1zm1-5zm1 6zm0-4zm5 8zm-4-2zm-4 4zm108 4zm1 5zm3 1zm10 24zm-21-7zm-1 7zm15 1zm7 3zm4-1zm-3 6zm-102 4zm-7 3zm-21 8zm2-1zm3-6zm1 7zm1-5zm13 2zm-14 5z" stroke="#00aaff" stroke-width="3.4" stroke-linecap="round" fill="none" opacity="0.7"/>
<path transform="scale(0.25)" d="M551 1031zm4 7zm-1-2zm-1 1zm-1 0zm0 0zm-1-4zm29 42zm1 8zm-6 1zm0 16zm-73 9zm6 0zm66-2zm5 1zm1 2zm8 6zm-6 3zm-1-7zm-11 1zm0-1zm-70 1zm84 20zm-1 0zm12 13zm-13 6zm-70 10zm-7 5zm0-5zm-3 3zm-3 1zm-14 7zm16-5zm4 0z" stroke="#00ffff" stroke-width="3.4" stroke-linecap="round" fill="none" opacity="0.7"/>
<path transform="scale(0.25)" d="M575 1091zm0 2zm8 1zm0-2zm0-2zm1 0zm2-1zm0 4zm1-1zm-10 8zm0-3zm-2 2zm0 2zm-1-1zm-74 10zm67 0zm8-4zm0 5zm1-6zm4 5zm4 0zm-16 2zm-63 3zm-4-1zm-1-1zm-3 5zm-1-4zm87 6zm1 1zm2 7zm-1 4zm-2-1zm-2 0zm-17-3zm-24 10zm3 1zm5 2zm7 1zm0 1zm2-4zm2 3zm28 6zm-6 1zm-4 2zm-18-6zm-8 1zm-1-1zm-2 0zm-1 3zm13 7zm1 2zm0 0zm0 2zm1-1zm0 0zm13-1zm0-3zm1 1zm2-1zm0 1zm1 4zm0-3zm1-3zm2 2zm0 1zm0-2zm-16 6z" stroke="#55ffaa" stroke-width="3.4" stroke-linecap="round" fill="none" opacity="0.7"/>
<path transform="scale(0.25)" d="M547 1051zm-7-3zm-3 7zm1 8zm2-3zm0 1zm3 2zm1-2zm0 3zm19 62zm8 7zm-7 2zm-4-5zm-1-1zm-16 6zm-2-4zm0 5zm2 2zm1 0zm0-1zm1 0zm1 2zm0 3zm2-2zm0-1zm0-3zm1 6zm1-2zm4-2zm3 0zm1 1zm1 0zm4 0zm0 0zm21 7zm-4 1zm-25-2zm-7 2zm0-1zm-4 3zm-3 1zm-1-4zm-8 2zm10 7zm13-1zm6 5zm0-2z" stroke="#aaff55" stroke-width="3.4" stroke-linecap="round" fill="none" opacity="0.7"/>
<path transform="scale(0.25)" d="M536 1085zm4 5zm1 0zm1 0zm1 4zm0-4zm10 2zm-11 7zm-6 0zm-12 1zm-4 2zm-3 1zm0 2zm2 0zm1 0zm3-1zm3 1zm39 11zm-3 0zm-5-2zm-3 2zm-29 4zm1 0zm0 0zm3 1zm25 0zm2 3zm0-4zm3 2zm2-1zm0 2zm2-2zm3 1zm-14 8zm-1-1zm-1 0zm-2 0zm-7 2zm-6-3zm-1 1zm4 12zm2-5zm1 1zm6 1zm8 2zm8 2zm-3 7zm-4 2zm-2-5zm0 4zm-3-2zm-6 6zm2 3zm3-1zm1 1zm1 6zm0-1zm-10 4zm-26 8zm1-2zm18 0zm2 0zm0 3zm-1 1zm-13 11zm22 0zm-14 6zm-1 6zm-6-1zm0-6zm-4 5zm-5 2zm-1-2zm12 3zm4 5zm3-1zm1-4z" stroke="#ffff00" stroke-width="3.4" stroke-linecap="round" fill="none" opacity="0.7"/>
<path transform="scale(0.25)" d="M517 1074zm13 1zm2 2zm2 1zm1-6zm3 4zm7 11zm-22 0zm-4-3zm1 8zm5 0zm1-1zm1 4zm6-2zm15 2zm-1 7zm-15-4zm-3 0zm-4 3zm-3-4zm-1 5zm17 2zm16 13zm-21 10zm1-1zm24-3zm-24 5zm-1 2zm-8 36zm-5 1zm-11 7zm5-1zm1-1zm1-2zm9-2zm1 3zm3 4zm5-1zm0 4zm-20 3zm0-1zm-2-1zm0-1zm-1 1zm0 0zm6 12zm27-3zm2-2zm2 1zm0 0zm-25 8zm-1-2zm-1-1zm15 8z" stroke="#ffaa00" stroke-width="3.4" stroke-linecap="round" fill="none" opacity="0.7"/>
<path transform="scale(0.25)" d="M524 1055zm-4-1zm5 8zm1-3zm2 2zm9 8zm-2 2zm0-1zm-7-1zm0 2zm-3-6zm3 9zm0 2zm2-3zm5 0zm2 5zm2-6zm-6 12zm-2-3zm0 2zm-1 0zm-2 4zm-1-3zm0-2zm0-2zm0 4zm-1-3zm0 1zm0-1zm0 1zm-3 2zm0 0zm-8-2zm11 8zm21 8zm-25 67zm-2 6zm6 0zm5 2zm-4 19zm-5 2zm-2 1zm0 0zm0 3zm-1-5zm-1 1zm0-2zm-1 3zm-1-2zm6 7z" stroke="#ff5500" stroke-width="3.4" stroke-linecap="round" fill="none" opacity="0.7"/>
<path transform="scale(0.25)" d="M520 1055zm1 1zm3 2zm1 4zm0 1zm2-1zm0-2zm1 0zm4 3zm3-2zm-1 4zm-2-1zm0 1zm-2 0zm-3 5zm0-6zm-1 0zm0 1zm-1 4zm1 3zm1 1zm2 0zm0 1zm1 7z" stroke="#ff0000" stroke-width="3.4" stroke-linecap="round" fill="none" opacity="0.7"/>
<text x="198.6" y="243.3" font-size="8" stroke="#000" stroke-width="0.22">(ii)</text>
<text x="238.1" y="245" font-size="7.5" stroke="#000" stroke-width="0.22" textLength="16.3" lengthAdjust="spacingAndGlyphs">PD-1</text>
<text x="275.4" y="238.7" font-size="9.7" stroke="#000" stroke-width="0.22">T<tspan dy="2.13" font-size="6.40">FH</tspan></text>
<text x="312.5" y="245" font-size="7.5" stroke="#000" stroke-width="0.22" textLength="24.5" lengthAdjust="spacingAndGlyphs">CXCR5</text>
<text x="208.3" y="272.4" font-size="7.8" text-anchor="middle" transform="rotate(-90 208.3 272.4)" stroke="#000" stroke-width="0.22" textLength="22.3" lengthAdjust="spacingAndGlyphs">tSNE2</text>
<text x="234.6" y="316.9" font-size="8" stroke="#000" stroke-width="0.22" textLength="20.8" lengthAdjust="spacingAndGlyphs">tSNE1</text>
<g filter="url(#spkd)">
<path transform="scale(0.5)" d="M466 526zm-3 3zm0 1zm1 1zm3-2zm1 1zm2-1zm4 5zm-2-2zm-1 1zm-2 1zm-1 1zm0-1zm-2 1zm-2-3zm-2 3zm-1-1zm0-2zm2 5zm0 0zm3 2zm1-2zm0-1zm1 2zm0-1zm2 2zm2-3zm3 1zm2-1zm2 7zm-2-3zm-1 3zm-2-1zm-5-1zm0-1zm0 0zm-6 0zm0 55zm1 2zm-2-1zm0 3zm0 1zm0 1zm1 1z" stroke="#0000aa" stroke-width="4.4" stroke-linecap="round" fill="none" opacity="0.9"/>
<path transform="scale(0.5)" d="M474 527zm-3 0zm-3-2zm-5 4zm3 0zm4-1zm0 0zm1 0zm1 2zm1 0zm2 0zm3-1zm3 6zm-5-2zm0 1zm0 0zm0-1zm-1-1zm0 0zm-11 0zm8 6zm3 1zm5-3zm1 3zm0-1zm1-1zm1 3zm-1 1zm0-1zm-3 2zm0-2zm-1 1zm0 0zm-2 0zm0 0zm-1 2zm0 0zm-2-2zm-1 2zm-1 0zm-2-1zm0 1zm0 0zm-1 0zm0-2zm0-1zm-1 3zm-3 2zm1 1zm2 1zm0-2zm5 1zm3-1zm0 2zm3-3zm-1 24zm0 1zm7 1zm0 3zm-1 2zm-2 0zm-2 0zm-1-1zm-1 0zm-1 2zm2 3zm3-1zm0-1zm3 0zm1 5zm-1-2zm-3 1zm-1 2zm0-2zm-10 1zm-1 1zm-1 0zm-3 0zm-1 2zm7 0zm1 2zm1 0zm0-2zm2-1zm1 0zm3 1zm0 1zm1 0zm-5 2zm-4 2zm-1-2zm-1 0zm-3 0zm-2 1zm0 0zm0-1zm-5 3zm7 4zm9-2zm2 0zm-13 6zm-3-1zm1 5zm1-3zm4 1zm0 1zm0-1zm1 2zm1-2zm1 0zm0-1zm-5 4z" stroke="#0000ff" stroke-width="4.4" stroke-linecap="round" fill="none" opacity="0.9"/>
<path transform="scale(0.5)" d="M470 523zm2 0zm1 0zm4 3zm-2 1zm0-3zm-1 3zm0-1zm-2-2zm4 6zm2 1zm1-3zm1 1zm1 2zm2 3zm0 1zm-2 3zm2 1zm1 0zm-19 5zm3 3zm2-2zm1 1zm4 1zm1 0zm2 0zm2-1zm0-2zm1 2zm2 1zm-6 2zm-2 2zm-1-2zm-1 0zm-1 1zm-2-1zm-2 0zm0 2zm-1-1zm-3-1zm-1 0zm0 1zm-1 0zm14 2zm1 0zm1 1zm0 0zm4 2zm4 3zm-3 0zm0-1zm0 1zm-2 0zm-1 0zm-1-1zm0 2zm-2-1zm-1-1zm-3-1zm-1 1zm0 2zm-1-3zm0 2zm-1-1zm1 3zm1 0zm0 0zm0 2zm4 1zm1 0zm1-3zm1 1zm1 2zm0 0zm1-1zm1-1zm5 2zm-3 3zm0-1zm-1-1zm-2 2zm0-1zm-5 0zm0-1zm0 0zm0 1zm1 5zm5-2zm2 0zm2 1zm1 1zm0-2zm1 3zm-1 4zm0-3zm-1 1zm-2 2zm1 4zm2 1zm-3 3zm-2 0zm-12 0zm-7 0zm-2 0zm-1 4zm2-1zm2-1zm1 1zm2 0zm0 1zm1 0zm8-2zm4 1zm3-1zm1 2zm1-3zm-1 4zm0 0zm-1 0zm-1 2zm-1 1zm0-2zm0 1zm-1 1zm-1-1zm-1-1zm-1 0zm-5 2zm-3-3zm-5 1zm-1-1zm-1 1zm0-1zm-2 2zm0-1zm-1-1zm-1 0zm19 5zm0-1zm2 1zm1-1zm1 3zm2-2z" stroke="#0055ff" stroke-width="4.4" stroke-linecap="round" fill="none" opacity="0.9"/>
<path transform="scale(0.5)" d="M483 507zm1 0zm-2 3zm-7 1zm1 2zm0 1zm1 1zm0-1zm6 0zm0-2zm2 2zm0 0zm-1 5zm-1-2zm-1-1zm0 1zm-1 1zm0 0zm0 0zm-1 1zm0-1zm-1-2zm-1 0zm0 0zm-1 0zm0 1zm0 5zm2-2zm1 0zm3 0zm0 8zm0 6zm2 3zm-1 6zm-9 4zm5-2zm2-1zm2 0zm2 0zm-2 7zm-2-2zm-1-1zm-1 0zm-1 1zm-9 2zm-6 0zm-1 3zm0-1zm1 2zm1-3zm0 3zm2-3zm0 3zm1-2zm7 1zm3 0zm2 1zm1 0zm2-2zm1 0zm0 1zm1-2zm2 6zm-6-1zm-2 0zm-4-1zm-4 1zm-4 1zm-2-1zm-1 2zm1 3zm1-2zm2 3zm2-1zm1-2zm1 3zm7-2zm4 1zm2-1zm1 0zm0 0zm3 4zm-4-1zm-14 0zm17 7zm0-2zm0 2zm1 0zm1-2zm1 0zm-2 3zm-1 1zm1 3zm1 3zm0-2zm1 2zm0 3zm0 1zm-2-1zm-27-1zm-2 0zm-1 1zm-5 4zm29 1zm6-3zm0 1zm1 1zm-3 4zm0 1zm-1-1zm-29-2zm26 4zm0 1zm10 2zm2-2zm0-1zm2 7zm-1-3zm0 4zm6 1z" stroke="#00aaff" stroke-width="4.4" stroke-linecap="round" fill="none" opacity="0.9"/>
<path transform="scale(0.5)" d="M483 502zm-1 4zm1-1zm1 2zm1-3zm0 2zm1 1zm1 0zm0 3zm-1 1zm-2-3zm0 1zm0 2zm-4-3zm-4 4zm3 2zm2-1zm3 1zm4-1zm0 0zm-1 5zm-2-2zm-1 1zm-7 0zm-2-1zm8 4zm2 0zm0 3zm1 0zm0-1zm0-2zm-1 7zm-2 0zm0 0zm-1 0zm-3-2zm5 5zm1-2zm0 1zm0 6zm0-2zm0 2zm1 3zm0 5zm0 0zm0-2zm0 4zm2-1zm0 6zm-3-2zm0 1zm-21 5zm24 1zm1-2zm-1 3zm-22 0zm0 4zm23 3zm0-3zm0 0zm7 4zm-2 3zm0 0zm-3-3zm-3 1zm-1-1zm3 6zm0-2zm1 2zm3-2zm6 0zm1 3zm1-1zm4 5zm-3 0zm-2-3zm-2 1zm-4 1zm-37-2zm0 3zm-2-2zm-1 0zm0 1zm-3-2zm-2 1zm0 0zm-1 2zm-1-1zm-2 4zm4-2zm3 3zm0-3zm0 3zm1-3zm1 3zm0-2zm3 1zm1-2zm34 2zm2 1zm2-3zm5 2zm-7 3zm-35 0zm-1 2zm-2 0zm-1-1zm0 1zm-1-3zm-1 0zm-1 1zm-4 2zm-1 0zm-2-2zm-1 0zm0 0zm-4 1zm3 5zm0 0zm2 0zm1-1zm2 1zm0-3zm3 1zm2 0zm0-1zm1 0zm1 2zm0 1zm-9 1zm52 7zm1 3zm-1 1zm-5 0zm0-1zm0 1zm-1-2zm-1 1zm-1-1zm1 3zm0 2zm1-2zm2 0zm2 1zm3-1zm-1 4z" stroke="#00ffff" stroke-width="4.4" stroke-linecap="round" fill="none" opacity="0.9"/>
<path transform="scale(0.5)" d="M491 501zm-2 0zm0 1zm-2-1zm0 1zm-1-1zm-1 1zm5 5zm0-1zm1 2zm-1 0zm-1 3zm0-1zm0 5zm0-1zm0 1zm0-1zm0 4zm-2 3zm2-1zm4 7zm-1 0zm0-3zm-2 3zm-1-2zm-2 1zm4 2zm1 2zm1-1zm0 5zm-2 1zm-4 0zm0-3zm-1 1zm3 6zm2 0zm1-3zm0 3zm0 2zm-1 0zm0 0zm0-1zm0 2zm0 5zm1-3zm-1 7zm-1 0zm0 0zm-1-2zm-49-1zm50 4zm2 3zm1-3zm1 7zm-3-3zm0 4zm1 0zm3 2zm0 1zm0 0zm5 4zm-1-3zm-2 0zm-1 1zm0 2zm-1-1zm-1-1zm-40-1zm-5 7zm3-1zm3 1zm1 0zm40 0zm5-2zm1 0zm1 1zm1 0zm4 5zm-1-2zm0-1zm0 2zm-4 1zm-4-2zm-45 1zm-3 0zm-1-2zm-1 2zm-1-2zm-2 3zm-1-3zm-1 3zm-2 1zm1 1zm1 2zm0-1zm51-2zm9 3zm2-3zm2 1zm1 1zm1-1zm0 0zm1 2zm4 3zm-2-1zm0 1zm-1 0zm0-1zm-1 0zm-1 0zm-61-1zm-3 0zm0 0zm-1 2zm-2-1zm-1 0zm-1 2zm0-2zm-1-1zm-1 2z" stroke="#55ffaa" stroke-width="4.4" stroke-linecap="round" fill="none" opacity="0.9"/>
<path transform="scale(0.5)" d="M496 502zm-5 0zm6 5zm2-1zm-7 12zm0 1zm3 4zm1 0zm0 4zm0-2zm-2 2zm0-2zm-4 0zm0 6zm0-1zm2-1zm7 1zm-5 5zm0 0zm-1-1zm-3-1zm-1 2zm1 4zm5 0zm1-3zm1 1zm3 5zm0 0zm-5-2zm0 0zm-1 3zm0 0zm0 0zm-57 4zm58 0zm1-2zm0 0zm1 2zm1-1zm1-2zm1 1zm0 2zm2 0zm4 0zm0-2zm2 6zm-2-3zm0 1zm-2 2zm0-2zm-4 0zm-2-1zm-2 3zm-1-3zm0 3zm-1-2zm-55-1zm-1 2zm-3-2zm6 5zm1 0zm2 0zm0 0zm2 0zm5 2zm41 0zm1-2zm1-1zm1 2zm0 0zm0-2zm1 3zm0 0zm1 0zm0-1zm2 0zm2 1zm1 0zm2-2zm-1 3zm-1 0zm-1 0zm0 3zm-1-1zm-1-1zm-2 0zm0-1zm0 1zm0 0zm-1 1zm-44-1zm-1 0zm0-1zm0 0zm-1 2zm-5-1zm0 1zm1 4zm0-1zm4 0zm0-1zm1 2zm0 0zm2 0zm0 1zm45 0zm1-2zm1 2zm4 4zm0-2zm-1 1zm0-1zm-4 0zm-46 0zm0-1zm-1 0zm-1 0zm-1 0zm0 3zm-5-3zm-1 6zm3 0zm5-2zm3 2zm49-2zm4 2zm1 0zm3 2zm-1 1zm0 1zm-1 0zm-1 0zm-1 0zm0 1zm-1-2zm-62 0zm-1 1zm-2-2zm-1 0zm-2 3zm-7-3zm5 7zm0-3zm2 2zm2-2zm71 1zm0-1zm5 0zm0 1zm2 2zm2 1zm-4 1zm-1 1zm-2-2zm-2 2zm-73-1z" stroke="#aaff55" stroke-width="4.4" stroke-linecap="round" fill="none" opacity="0.9"/>
<path transform="scale(0.5)" d="M492 504zm3 3zm0-1zm1-1zm0 1zm1 0zm0 0zm3 0zm1 4zm-1 1zm-1 0zm0-1zm0-1zm-1 2zm-2 0zm-3-1zm-1 2zm4 3zm6-2zm12-1zm-12 7zm-2-1zm0-2zm0 3zm-2-2zm0-1zm-2 0zm-1 0zm0 6zm3-2zm2 3zm0-1zm1 1zm1-3zm0 3zm0 1zm-1 3zm0-3zm-2 0zm0 2zm-2-1zm0 2zm5 4zm0 0zm1-1zm-3 4zm-1-2zm9 4zm7 2zm-2 5zm-2-1zm-9 1zm-1 0zm-2-1zm14 8zm0 0zm-1-1zm-3-1zm-1 3zm-2-2zm-2 0zm-70 1zm-4 2zm0 2zm1 0zm0 0zm1-2zm2 3zm3-2zm1-1zm2 3zm0-2zm4 2zm62 0zm1-3zm1 3zm0-2zm1 1zm3-1zm-2 3zm-2 0zm-3 3zm-1 0zm-4-3zm-58 1zm-2-1zm-1 1zm-2 1zm-7-2zm-2 2zm1 5zm0-3zm1 0zm1 0zm2 1zm12 2zm58-1zm0-2zm1 1zm4 2zm-2 4zm-1 0zm0 0zm0-1zm-62 1zm-16-3zm0 2zm5 4zm4 1zm5 0zm1-1zm2-2zm0 2zm63-2zm1 2zm6 1zm7 3zm-1 1zm-1 0zm-1 0zm0 0zm0-3zm-1 2zm-1-2zm0 0zm0 0zm-1 3zm-2-2zm-3 1zm-70-1zm-1-1zm0 3zm0-2zm-1 0zm0-1zm0 1zm-3-1zm0 3zm-3-3zm85 4zm0 0zm3 2zm1-2zm0 0zm-1 5z" stroke="#ffff00" stroke-width="4.4" stroke-linecap="round" fill="none" opacity="0.9"/>
<path transform="scale(0.5)" d="M498 511zm-4 4zm8 0zm0 0zm10-1zm1-1zm-7 5zm-6 1zm3 4zm4-1zm1 0zm0 0zm16 4zm-17 0zm-1 1zm0-2zm-1 0zm0 2zm0-1zm0-2zm-1 4zm2 2zm1-1zm1-1zm2 0zm0 0zm1 3zm2-2zm1 1zm4 3zm-1-1zm-2 2zm-2 1zm0-1zm-1 0zm0-1zm-1 2zm-4 0zm-1-2zm-3 2zm-1-2zm7 5zm3 1zm1-3zm2 2zm2-1zm0 5zm-2-1zm0-1zm-1 2zm0 1zm-1-3zm-1 4zm4 2zm2-1zm-1 6zm-1-3zm-3 3zm-1-1zm-2-2zm-75 7zm5-1zm69 0zm1 1zm0 0zm1-2zm3-1zm1 0zm1 4zm-1 0zm-1 2zm-1 0zm-1-2zm0 2zm0-1zm-3 0zm0 0zm-2 2zm-68-1zm-1-2zm0 0zm-1 0zm0 0zm0 3zm-1 0zm-2 0zm-5-1zm0 4zm1-1zm2 1zm1 1zm0-1zm1 1zm1 0zm0 0zm1-3zm1 2zm1 0zm1-1zm1 2zm0-1zm2-1zm2 2zm60-1zm2 1zm0-2zm3 2zm0-2zm0 2zm1-2zm3-1zm0 2zm0-2zm1 2zm1 1zm0 0zm0-3zm1 0zm2 3zm0 0zm3 2zm-3 0zm-1-1zm-3 1zm0 1zm-1-1zm0 0zm0 0zm-2 2zm-1-1zm-2-1zm0 1zm0 0zm-2-2zm-1 1zm-64 2zm0-2zm-3 1zm-2 0zm0 0zm0-2zm-2 1zm-2 0zm0 2zm1 1zm1 1zm3 1zm1 0zm3-2zm1 0zm67 1zm1-1zm4 1zm0 0zm2 2zm1-2zm1 1zm5-1zm1 2z" stroke="#ffaa00" stroke-width="4.4" stroke-linecap="round" fill="none" opacity="0.9"/>
<path transform="scale(0.5)" d="M517 515zm1-1zm1 0zm0-1zm-1 5zm-1-1zm-3 1zm-1 1zm0-1zm0-2zm0 3zm0-3zm-1 1zm0-1zm-4 3zm1 1zm3 0zm1 3zm1-3zm1 3zm12 2zm0 2zm-5-3zm-1 1zm-7 1zm0 1zm-1-2zm-1-1zm-2 3zm0-3zm-1 1zm-1-1zm6 5zm1 1zm4 1zm1 0zm1 0zm0-1zm0-2zm0 2zm4-1zm1 1zm2-2zm-7 7zm0-3zm-2 0zm-3 2zm0 2zm4 0zm1 2zm11 1zm0-2zm5-1zm-16 7zm0-2zm-2 0zm-1 1zm-3 0zm0 1zm1 2zm2 0zm2 2zm2-1zm3 1zm5 4zm-1-1zm-5-1zm0 1zm0 1zm-2-3zm0 1zm-2-1zm-2 2zm2 2zm8 2zm2-1zm2 0zm0 2zm1-3zm1 2zm1 3zm-3 2zm0-1zm-2-2zm-1 0zm-2 3zm-2-2zm-2 0zm-2 0zm-1 0zm-3 0zm-7 3zm6 1zm1-1zm4 3zm1-1zm5-1zm2-1zm2 3zm1-2zm3-1zm-2 4zm-1 2zm0 1zm-1 0zm-1 0zm-2-1zm-2-2zm0 3zm-1 0zm-1-2zm0 0zm-1-1zm-2 4zm4 0zm1 1zm1 0zm5-1zm-8 4z" stroke="#ff5500" stroke-width="4.4" stroke-linecap="round" fill="none" opacity="0.9"/>
<path transform="scale(0.5)" d="M520 531zm16 4zm-3-1zm0-1zm-2 1zm-7-2zm-1 1zm-3 4zm1 2zm0 0zm1-1zm1 1zm0-1zm0 0zm1-2zm0 2zm1-1zm3 0zm0-1zm1 0zm2 1zm1-1zm2 0zm1 1zm0 0zm0-1zm1 3zm0-1zm1-1zm-2 3zm-1 0zm-1 2zm-2 1zm-1-3zm-1 3zm-6-3zm-1 1zm-1 2zm0 0zm-1 0zm2 2zm2 1zm1-1zm3-1zm4 0zm0 3zm0 0zm0-1zm0-2zm0 3zm-4 4zm-2-1zm-4 2zm0 1zm1 2zm0-3zm5 1zm0 0zm0 0zm1 1zm0-1zm1 0zm3 5zm-2 0zm-1-1zm-1 2zm-1-2zm0 1zm-2 0zm-4-1zm-1 4zm3 1zm0 0zm1 1zm1-1zm3-1zm2-1zm1 1zm1 0zm0 2zm0-2zm1 1zm0 1z" stroke="#ff0000" stroke-width="4.4" stroke-linecap="round" fill="none" opacity="0.9"/>
<path transform="scale(0.5)" d="M525 538zm0-1zm5 0z" stroke="#aa0000" stroke-width="4.4" stroke-linecap="round" fill="none" opacity="0.9"/>
</g>
<path transform="scale(0.25)" d="M939 1052zm-5-3zm-5 11zm2 3zm6-1zm12 8zm-7 0zm-2-2zm0 1zm-3 1zm0-2zm-3 1zm-8-4zm0 0zm12 8zm0 1zm1-2zm1 1zm1 2zm0 0zm2 4zm2-2zm4 2zm-3 5zm-1-2zm0 0zm-3-2zm-3 1zm6 8zm8 6zm-21 96zm4 0zm0 1zm-1 1zm-3 1zm-3-2zm0 6z" stroke="#0000aa" stroke-width="3.4" stroke-linecap="round" fill="none" opacity="0.7"/>
<path transform="scale(0.25)" d="M930 1043zm3 3zm4-3zm4 3zm1 1zm-3 5zm-9 2zm-1 1zm-1-2zm4 3zm10 12zm-5-2zm-1 0zm0 0zm3 9zm2-2zm2-1zm6 9zm3 12zm1-2zm1 4zm-10 26zm10 46zm-7-2zm0 2zm-10-3zm-5 0zm-2 3zm-2-1zm-1 4zm7 0zm1-2zm1 0zm1 6zm1-6zm21 6zm1 0zm1-3zm0 0zm2 2zm0-3zm2 0zm-22 9zm-2-1zm-12 7zm5 2zm2 2zm1 2zm8-7z" stroke="#0000ff" stroke-width="3.4" stroke-linecap="round" fill="none" opacity="0.7"/>
<path transform="scale(0.25)" d="M941 1045zm21 42zm-4 5zm2-2zm1 2zm0-1zm3 2zm0-4zm-6 11zm-22 1zm-1 0zm-2 0zm0 2zm-4-3zm2 5zm2-1zm34 0zm-6 9zm-15 4zm0-2zm-1 4zm-1-4zm0 4zm-13-1zm35 7zm4-3zm4 3zm-13 34zm0-2zm1 0zm4 2zm2-2zm2 2zm0-2zm3-1zm2-4zm-12 9zm-1-1zm-5 0zm-13 0zm0 0zm-6 5zm-6 0zm-7 6zm1-3zm2 0zm2 3zm0-1zm5 0zm26 2zm9 8zm-24-4zm-2 6zm-1-4zm-4 1zm-3 0zm-20 0z" stroke="#0055ff" stroke-width="3.4" stroke-linecap="round" fill="none" opacity="0.7"/>
<path transform="scale(0.25)" d="M972 1046zm0-2zm3 2zm3-2zm-19 47zm4 4zm1-3zm7 9zm-1 2zm0-3zm0 1zm-3-4zm-2-1zm-1 0zm0 5zm-1-4zm-2 6zm-2-3zm-1 2zm-2-2zm-1 3zm0-3zm-24 3zm-5 0zm-1-1zm0 7zm8 1zm26-1zm1 2zm0-2zm1 2zm1-3zm0-2zm12 3zm2-5zm0 8zm0 7zm0-2zm-15-2zm-2-3zm-27 2zm-1 2zm2 4zm2 1zm46 12zm-64 16zm52 8zm7 2zm0-4zm-87 11zm80 6zm0-4zm1 6zm1-1zm2-2zm0 0zm0 3zm0 8zm-2 1zm-1-2zm0 1zm-2 1zm0 1zm28 7zm-8 11zm0 5zm3-1zm3-2z" stroke="#00aaff" stroke-width="3.4" stroke-linecap="round" fill="none" opacity="0.7"/>
<path transform="scale(0.25)" d="M972 1021zm-5-2zm-3 0zm-3 0zm-1-2zm-1 1zm6 9zm14-3zm1 1zm-2 8zm-1-1zm-1 2zm-1 3zm-6 9zm4-1zm1-2zm1 2zm0-4zm2 5zm0-4zm-2 6zm-4 4zm8 40zm0 3zm-48 13zm0-4zm1 6zm2-1zm44 1zm-17 4zm32 13zm0 3zm-9 3zm-4 2zm-8 0zm-3-7zm6 10zm1-1zm1 2zm2 0zm7 5zm-91 4zm-1-4zm-1 4zm-1 2zm-1-3zm-1 3zm-1-2zm0 0zm6 4zm13 6zm94 1zm4-3zm8 9zm-2 0zm-2-5zm-99 1zm-5 4zm-1-4zm0 3zm-20 5zm21-1zm95 11zm-4 4zm-3-3zm-3 3zm-2 0zm-1 0zm-22 1zm25 0zm1 0zm0 3zm1 2zm0-2zm0 1zm0 1zm1-5zm0 7zm0-5zm1-2zm0 7zm0-4zm2 0zm0 2zm2 1zm0 0zm1-4zm1 3zm2-3zm1-1zm0 3zm3 3zm2 1zm-11 3zm-1 0zm0 0zm-1-3zm-1 2zm-1-1zm-5 5zm-2 4zm5 1zm2-2z" stroke="#00ffff" stroke-width="3.4" stroke-linecap="round" fill="none" opacity="0.7"/>
<path transform="scale(0.25)" d="M974 999zm0 0zm1 0zm8 5zm0-1zm-4 3zm-1-2zm-1-2zm-2 0zm-3-2zm7 37zm-1-1zm-3 1zm-4 7zm0 2zm1-2zm15 9zm0-1zm-1 3zm-4 0zm-1-2zm-5-2zm0-1zm-4 0zm-1-1zm10 10zm0-1zm5 0zm2-2zm-9 23zm3-1zm1 0zm1-1zm4-1zm4-1zm2-3zm-9 8zm-1 4zm-5-2zm1 10zm3 0zm0-4zm16 11zm-2-3zm-1 0zm-105 6zm88 7zm1-1zm23 3zm-19 1zm-87 6zm-3 1zm-1-5zm-4 0zm96 13zm7 9zm19 4zm0 3zm0-2zm-117 9zm112 9zm20 0zm1 0zm2-1zm1 1zm4 7zm-4-2zm-5-2zm0-1zm-1 3zm0 1zm-2-4zm0 1zm-4-2zm-3 0zm-2 4zm-1 1zm0-3zm-2 0zm-123 5zm-1 0zm-2 0zm-1 0zm1 3zm0-2zm114 21zm0-1zm1-4zm4 5zm4 4zm-4 1zm-1 1z" stroke="#55ffaa" stroke-width="3.4" stroke-linecap="round" fill="none" opacity="0.7"/>
<path transform="scale(0.25)" d="M977 1003zm1 6zm0 13zm-6 6zm4 1zm3-5zm12 13zm-7-1zm-3 3zm-9 6zm8 1zm2-1zm10-5zm0 3zm-2 10zm-4-1zm-2 2zm-6-5zm-3 6zm-10-6zm14 10zm8-3zm2 0zm4 5zm1 6zm-2-3zm-1 3zm-9-3zm0 0zm-3 5zm-6 2zm1 6zm3-2zm1-2zm15 2zm-2 5zm-3 0zm-10 3zm-2-2zm12 12zm10 0zm8 1zm5-2zm-8 6zm-3-1zm-3 2zm-2-2zm-2 1zm0 0zm-1 0zm-1 0zm-1 0zm-104 0zm-20 1zm-4 4zm0 0zm0 0zm-3 0zm4 1zm129 1zm2 4zm2 2zm3-6zm1 7zm-105 3zm-1 0zm-1 4zm-2 1zm6 4zm109 1zm0 2zm2-7zm2 3zm1 3zm-106 7zm-2-3zm-2 3zm-1 2zm0 0zm0 0zm0-7zm-1 5zm-1-3zm0 0zm-1-2zm2 10zm3-1zm4 6zm3 0zm101-2zm2 1zm28 9zm-1-4zm0 2zm0 1zm-2-2zm0 3zm-1 0zm0-1zm-24 8zm6-3zm11 4zm7-4zm7-2zm3 4zm-19 7zm0-1zm-1-3zm-4 1zm-7-1zm-2 5zm0-4zm-2-1zm-5 2z" stroke="#aaff55" stroke-width="3.4" stroke-linecap="round" fill="none" opacity="0.7"/>
<path transform="scale(0.25)" d="M990 1005zm-2 1zm0 2zm12 7zm3 6zm0-1zm-3-3zm-1 3zm-1 3zm-1-5zm0 3zm0 1zm-1-4zm-2 0zm-1-1zm1 20zm-1 2zm0-5zm-1 4zm0-1zm-1-3zm-1-1zm0 7zm6 3zm8 9zm-1 1zm0-4zm0 4zm-2-3zm-1 1zm-1 0zm-1-1zm22 13zm11-6zm-39 7zm36 8zm-15 14zm-7 1zm-3 3zm3 0zm0 0zm0 3zm2-2zm0 2zm0 1zm1-1zm0-3zm0 1zm3-3zm1 7zm2-4zm5 12zm0-7zm0 5zm-2-2zm-30-2zm-126 8zm12 4zm7-1zm1-1zm6 2zm0-3zm4 0zm2-1zm136 5zm1-6zm1 4zm-24 10zm-1 1zm-11-1zm-120-3zm-1 3zm0-3zm-5 3zm-1-5zm127 10zm1-1zm0 0zm1 0zm1-1zm0 1zm0 1zm1 3zm3-4zm0 5zm1-1zm8-2zm0-1zm-4 8zm-1 0zm0-2zm0-1zm0 3zm-1-3zm-1 3zm-108 4zm-13-4zm2 7zm22-1zm119 4zm11 2zm3-5zm1 4zm7-1zm-2 10zm0-5zm-2 0zm-3 3zm0 1zm-1-1zm-3-3zm-1 3zm-2-5zm-3 5zm-1 0zm-2-2zm-5 3zm-1-1zm-1 0zm-3-3zm-3 3zm1 5zm23 0z" stroke="#ffff00" stroke-width="3.4" stroke-linecap="round" fill="none" opacity="0.7"/>
<path transform="scale(0.25)" d="M991 1004zm-3 0zm14 19zm0-3zm-2 0zm-1 3zm-1 0zm-7 0zm43 8zm2 8zm-3-3zm0-1zm0 0zm-1 3zm-39 0zm-6 0zm0 2zm0 1zm1 0zm1 0zm1-1zm0 1zm1-1zm22 5zm1-3zm0 1zm8-1zm2 4zm8-6zm0 1zm34 14zm-32-2zm-4 0zm-23-5zm0 7zm-1-2zm-1-3zm-1 3zm9 9zm14-3zm0 2zm1-2zm1 0zm1 0zm2-2zm1 0zm1 1zm0 0zm0 4zm0-2zm0-1zm0 2zm2-2zm2 2zm0 1zm1-4zm24-1zm2 2zm-25 6zm-2 5zm0-4zm-1-2zm-4 2zm-11-2zm0 11zm1 1zm1-3zm1 0zm0 0zm1-1zm0 0zm0 4zm16 8zm-3-3zm-31 13zm30 9zm-1-5zm-166 0zm10 11zm8 2zm1-4zm-10 10zm-8-2zm1 7zm168 13zm0 0zm-162-6zm-4 2zm-7-1zm-2 1zm10 11zm158-1zm3 0zm1 0zm0-4zm0 4zm0-4zm1 4zm2-1zm0-4zm0 2zm1 4zm1-3zm0-1zm2 1zm5 12zm-2-2zm-2 2zm-9-3zm0 0zm-3 1zm12 6zm1-2z" stroke="#ffaa00" stroke-width="3.4" stroke-linecap="round" fill="none" opacity="0.7"/>
<path transform="scale(0.25)" d="M1035 1031zm0 0zm0-1zm-3 3zm-9 5zm-16 8zm2 1zm2-3zm5 0zm3 1zm1 2zm1-5zm0 2zm1 2zm0-5zm1 4zm0 1zm2-3zm3 3zm1-1zm1-4zm41 14zm-8-1zm-20-1zm-6-3zm-7-1zm-2 0zm-1-1zm-3 4zm-1-4zm-1 0zm-6 4zm-4-3zm15 14zm6-1zm2-1zm1-2zm3 3zm2-5zm2 1zm0-2zm0 7zm3-5zm1 1zm21 4zm0-6zm2 3zm0-1zm-22 5zm-1 3zm-2 0zm-2 3zm24 2zm-29 10zm5 17zm-1 4zm-2-7zm-2 4zm-159 3zm-4 6zm165 0zm17 9zm-187 7zm171 1zm2-6zm1 5zm0 1zm2 0zm3-6zm5 4zm2 1zm0 2zm1-1zm1-1zm1 2zm1-2zm1-3zm1 1zm-3 6zm0 0zm-181 4zm-3-2zm-5 1zm0-3zm-2 1zm-1 4zm173 10zm-11 0z" stroke="#ff5500" stroke-width="3.4" stroke-linecap="round" fill="none" opacity="0.7"/>
<path transform="scale(0.25)" d="M1026 1039zm-11 7zm6-2zm0-1zm0-2zm1 0zm1 6zm1-7zm38 13zm-3 1zm0 0zm-27-5zm-4-1zm-6 2zm30 13zm2-1zm4-6zm2 0zm9 4zm0 3zm9-3zm-13 5zm-2 3zm-5-1zm-2 0zm0 4zm-1-4zm-1 4zm-1-1zm-1 1zm-6-7zm-2 2zm-2-1zm5 9zm2-1zm1 3zm2 0zm-3 4zm-14 13zm0 0zm2 2zm-2 6zm-1-4zm-1 3zm16 10zm5-3zm0 1zm1 3zm4-5zm-4 9zm-5 1zm-1 0zm0 0zm0 1zm0-1zm-1 2zm0-4zm-4 3zm-1 2zm23 1z" stroke="#ff0000" stroke-width="3.4" stroke-linecap="round" fill="none" opacity="0.7"/>
<path transform="scale(0.25)" d="M1054 1104z" stroke="#aa0000" stroke-width="3.4" stroke-linecap="round" fill="none" opacity="0.7"/>
<g filter="url(#spkd)">
<path transform="scale(0.5)" d="M649 505zm0 5zm-6 3zm5 2zm2-1zm-7 9zm-9 2zm-12 2zm4 1zm2 1zm3-1zm8 7zm-1 0zm-2-2zm-13 2zm-2 0zm-1-3zm24 11zm-9-2zm-1 0zm-9-1zm0 0zm-1 7zm4-1zm1-1zm0 1zm5 1zm5 1zm0 0zm-1 3zm0 0zm-6-3zm-34 1zm1 3zm6 1zm29-1zm4 0zm1 0zm0 3zm2-3zm3 4zm0 1zm-1 1zm-6 0zm-2-1zm-6-1zm-4 2zm0 0zm-37-2zm15 7zm30-2zm1 0zm9 1zm1 0zm13-1zm-2 3zm-11 0zm-6 0zm-31 2zm-7 0zm-4-2zm-5 1zm7 5zm42 5zm-32-2zm-7 6zm5-3zm0 1zm1 3zm-5 2zm3 2zm8 1zm6 1zm2 0zm0-1zm1 2zm8-3zm5 6zm-12-1zm-7 0zm44 10zm-31-1zm-1 0zm-5 1zm0-2zm2 3z" stroke="#0000ff" stroke-width="4.4" stroke-linecap="round" fill="none" opacity="0.9"/>
<path transform="scale(0.5)" d="M652 502zm0-1zm-2 1zm-4 1zm-1-1zm-3 0zm-1 0zm-5 5zm3-1zm0-1zm3 2zm1 0zm2-1zm4-2zm1 0zm3 2zm0 0zm1 0zm1 1zm3-2zm0 0zm-1 3zm0 3zm-3-3zm0 2zm-3-1zm0 1zm-8 1zm-1-3zm-1 2zm0 0zm-2-2zm0 0zm0 0zm-1 1zm0 2zm-1-3zm-2 6zm1-1zm1-1zm2 2zm1-2zm2 2zm1 0zm2 1zm0-1zm1-2zm2 1zm2 2zm1-1zm1-2zm1 2zm1-1zm0 0zm0 1zm1-1zm1 2zm4-1zm-3 5zm-2-3zm-7 1zm-2 2zm0-1zm-1-2zm0 1zm-2 1zm0 1zm-5-3zm-1 0zm-1 2zm-1-1zm-1 0zm-7 6zm1-1zm0 1zm1-1zm0 0zm1 0zm3 1zm0 0zm1 0zm1-1zm1 0zm2-2zm2 0zm1 1zm0-1zm0 2zm0-1zm1-1zm3 1zm1 2zm0 0zm0-3zm4 0zm0 3zm0-1zm0 0zm1-2zm2 3zm9 0zm2-2zm2-1zm1 3zm0-1zm3 2zm-1 1zm-1-1zm-3 0zm-1 0zm-5 2zm-1 0zm-7-2zm0 2zm-1-1zm-1 0zm-3-1zm-5 3zm0-2zm-3 2zm-2 0zm-1 0zm0-2zm-3 1zm-3-1zm-3 2zm-1-2zm-1 1zm-1 5zm3 0zm2-1zm1-2zm2 0zm1 2zm2-1zm2 2zm1-2zm4 0zm2 2zm0-3zm0 3zm0-2zm1 0zm0 2zm0-2zm0-1zm2 3zm5-1zm3-2zm5 0zm1 3zm-13 2zm-1 2zm0-3zm-1 0zm-7 3zm-2-1zm-2 0zm-2-1zm-1 1zm-2-2zm-2 0zm-6 3zm0-3zm0 4zm0 0zm2 0zm2 1zm0 1zm2 1zm0-2zm3 0zm1-1zm1 1zm2 2zm0-1zm3 1zm1 0zm0 0zm0-1zm1 0zm1-1zm1 2zm2-3zm1 3zm3-1zm0 1zm4-1zm2 4zm-2 1zm-3 0zm-1-2zm-1 2zm-1 0zm-1-2zm-1 0zm0 0zm-1 2zm-2-1zm-1-2zm-1 0zm-2 0zm-2 2zm-2-2zm0 3zm0-3zm-5 3zm0 0zm-1-2zm0 0zm-1 2zm0-3zm0 0zm-2 0zm-29 7zm1 0zm28-1zm2 1zm3-1zm2-1zm0 0zm0 1zm1-2zm0 2zm1-2zm2 3zm0-3zm4 2zm1-1zm0 2zm6-1zm3-2zm2 2zm3 1zm1 0zm3-1zm4 3zm-1 0zm0 2zm-1-2zm0 2zm-2-2zm0 2zm-1-1zm-1 1zm-2 0zm-3-2zm-2 2zm-1-2zm-4-1zm-1 0zm-2 0zm-1 2zm0 0zm0-1zm-3-1zm-4 2zm0-2zm-1 0zm-3 3zm-3-3zm-1 3zm0 0zm-3-2zm-15 2zm-1 0zm-5-3zm-2 3zm0-3zm-2 2zm-1-1zm-2-1zm-2 1zm-1 2zm-1 4zm1-1zm3 0zm2 1zm0-1zm2-1zm1 1zm1 1zm0 0zm4 0zm1 0zm0-3zm4 2zm14 1zm0-3zm1 3zm1 0zm1 0zm1-2zm0 1zm1 0zm0-1zm2 2zm5 0zm0-1zm3 1zm1-3zm0 1zm1-1zm1 2zm4 0zm0-2zm1 1zm2 2zm1 0zm1-3zm3 3zm2-1zm1-2zm1 3zm0-1zm2-1zm1-1zm0 3zm3 0zm2-2zm0 2zm2-1zm0 1zm-5 2zm-1-1zm-1 2zm-2 0zm-2-1zm0 1zm-1 1zm-4-3zm0 0zm-2 1zm0 0zm-1-1zm0 2zm-1 0zm0 0zm-1-1zm0 2zm0-2zm-1 0zm-4 1zm0-1zm-1 1zm-4 1zm-1-3zm-2 1zm-3-1zm-2 0zm-1 1zm-3 1zm-13 0zm0 0zm0 1zm-1-2zm0 2zm-1-2zm-2 1zm-4 1zm0-2zm-2 2zm-3-2zm-1-1zm0 0zm0 2zm0 0zm-3 1zm-3-3zm0 2zm-2 1zm0 3zm0 1zm2-1zm3-2zm0 0zm0 2zm0-2zm1 0zm2 0zm0 0zm0 2zm0-1zm2 1zm0-1zm1 2zm1-3zm3 1zm0 1zm2 0zm0 1zm0-2zm0 1zm2 1zm0-3zm1 1zm2-1zm0 0zm1 0zm0 3zm2-2zm11 0zm1 2zm2-1zm2 1zm1-1zm0-2zm0 3zm3-2zm1 0zm1 2zm0-2zm1 0zm3 2zm0-2zm3 0zm3 1zm1 0zm1 1zm1-3zm0 1zm0 0zm1 0zm1-1zm0 2zm1 0zm1-2zm0 2zm0 1zm5-1zm1 1zm0 0zm0 0zm1-2zm0 2zm1-3zm2 1zm1 2zm3-2zm1 2zm4 2zm-4-1zm0 0zm0 1zm-2 2zm-1 0zm-1-2zm0 1zm0 1zm-1-2zm-1 0zm0 1zm-1 0zm-1 0zm0 1zm-1-2zm-1-1zm0 3zm0-3zm-1 3zm-1 0zm0 0zm0-3zm0 2zm-1-1zm0-1zm-1 3zm-1 0zm-2 0zm0-3zm0 1zm0 0zm-7 1zm-1 0zm-1 1zm-1-2zm0 2zm-1-1zm0-1zm-2 1zm0-1zm-1-1zm0 0zm-1 0zm0 2zm-2-2zm-2 2zm-3-2zm-17 0zm-1 2zm0-1zm-2 0zm0 0zm0 0zm0-1zm-2 1zm0 2zm-1-2zm-1-1zm-3 2zm-5-2zm0 2zm-1 0zm0 1zm0 0zm-2-1zm0-1zm-1 2zm-3-1zm-2-1zm1 3zm1 0zm1 2zm0-1zm1-1zm1 3zm1 0zm1-2zm0 1zm3 1zm2-1zm3 0zm0 1zm2 0zm0-2zm1 2zm1-3zm1 2zm1-1zm2 1zm0-1zm0 2zm0-2zm1 0zm0 0zm0 1zm1 0zm0-2zm0 3zm2-2zm21-1zm2 1zm1 0zm0 2zm6-3zm0 3zm1-2zm2-1zm2 2zm4-2zm1 1zm5 2zm2 0zm1-3zm0 1zm1-1zm2 1zm0-1zm1 0zm0 3zm2 0zm1-1zm0-2zm1 1zm2 2zm1 0zm1-3zm-1 5zm-1-1zm-4 2zm0-2zm-1 1zm-2-1zm0 3zm-1-3zm-2 2zm0-1zm-5-1zm-1 0zm0 1zm-1 1zm-1 0zm-4 0zm-1 1zm-4-3zm-1 3zm0 0zm0-2zm0-1zm-2 2zm-1-2zm-2 3zm0-3zm0 0zm-3 2zm0 0zm-2-1zm-16 2zm-3-1zm-2-1zm-1-1zm-1 0zm-1 2zm-2 0zm-2 0zm0-1zm-1 0zm-6 1zm-1-1zm-1 0zm-2 1zm-1-1zm0 1zm-1 0zm2 4zm1-1zm2 1zm3 1zm2-3zm0 3zm5-2zm3 0zm2-1zm0 2zm0-1zm0 0zm1 2zm2-3zm2 0zm18 3zm1-2zm0 0zm4-1zm0 2zm0 0zm1-1zm4-1zm3 3zm1-1zm1-2zm0 0zm1 2zm5-2zm4 0zm0 2zm2 0zm2 1zm0-2zm0 2zm6 0zm-1 2zm-18 1zm-1 0zm-2-2zm-3 0zm0 2zm-1 1zm-2 0zm-1 0zm-3-1zm-6 0zm0 1zm-1-1zm-1-2zm0 0zm-1 2zm-2 1zm-4-1zm-6 0zm-1-2zm-1 3zm-1-2zm-1-1zm-1 2zm-2 1zm-2-1zm0 1zm-2-1zm-1 1zm-1-1zm-1-1zm-1-1zm-1 3zm-1-2zm0 0zm-1 2zm-2-1zm-2-1zm3 4zm2 1zm2-2zm3 1zm0 1zm0-2zm1 0zm0 1zm2-1zm2 0zm2 2zm1-2zm1 2zm2-1zm0-1zm2 0zm0 1zm1 2zm0-3zm0 0zm4 0zm0 0zm1 3zm3-1zm5-1zm3 0zm1 1zm1 0zm2-1zm2 2zm1 0zm0-1zm1 1zm2 3zm-1 0zm0-1zm-3 0zm-2 1zm-1-2zm-2 3zm-1-3zm-4 1zm-1-1zm-3 2zm-4-1zm0 1zm0-1zm-1 0zm0 0zm0 1zm-1-1zm-1 0zm-1 1zm-1 0zm-3-2zm0 2zm-1 0zm0 0zm0-2zm-7 0zm-5 0zm33 4zm0 3zm3-1zm1 0zm2 0zm9 0zm1-1zm1 0zm0 1zm0 1zm1-3zm0 1zm1 2zm0-2zm0 2zm0-1zm0 1zm1-3zm1 0zm5 4zm-2 1zm0 2zm-1 0zm-1-1zm0 1zm-2 0zm-1-2zm0 2zm0-3zm0 1zm-2 2zm-1 0zm-3-2zm-24 2zm-1 0zm0-3zm-2 2zm-1-1zm0 1zm-2-1zm0 3zm3 1zm1-1zm1 0zm3 0zm0 0zm0 2zm24 0zm1 1zm2-1zm0-1zm2-1zm0 2zm1 1zm2 0zm-5 1zm-28 0zm0 0zm-3 0zm0 0z" stroke="#0055ff" stroke-width="4.4" stroke-linecap="round" fill="none" opacity="0.9"/>
<path transform="scale(0.5)" d="M652 503zm-3-3zm-1 7zm8-2zm5 5zm0 1zm-23-2zm5 5zm12-1zm4 2zm2 0zm0 0zm12-2zm4 2zm-5 4zm0 0zm0-1zm-1-1zm0 2zm0-1zm-10-1zm-2 1zm0-1zm-1 2zm0 3zm1 1zm0 0zm1-2zm0 0zm11 1zm0-1zm0-1zm0 0zm1 2zm1 1zm0-2zm0 2zm1-3zm0 2zm0 2zm-4 1zm-4-1zm0 0zm-2 2zm-1-1zm-1 0zm-1 2zm-2-3zm-1 2zm-7-2zm-1 1zm-1-1zm-2 3zm3 1zm2 0zm2 0zm0 3zm1 0zm2-1zm3 0zm1 0zm1-1zm1 2zm1-1zm1-1zm6 2zm0-1zm4 1zm0-1zm0 5zm-3-2zm0-1zm-1 3zm-2-2zm-1 1zm-1-2zm-1 3zm-3-1zm0-2zm-4 2zm0-2zm0 2zm-1 0zm0 0zm-1-1zm-3 0zm-2 1zm-2-1zm-3 3zm1 2zm1-2zm2 1zm2 1zm0-2zm2 3zm2-1zm0 1zm10-3zm8 0zm2 0zm-20 7zm-1-2zm-1 2zm0 0zm-1-2zm-1-1zm-2 1zm-7 1zm8 5zm6 0zm0 0zm5 0zm2 0zm0 1zm-1 0zm-2 2zm-2-2zm-11 3zm-49 4zm64 0zm1-1zm0 1zm1 0zm0-1zm2 1zm0 1zm-1 3zm-1-1zm-4-2zm-40 1zm43 3zm1 1zm0-1zm1 0zm1 0zm4 6zm-1 1zm0-2zm-1 1zm-2 0zm-2-1zm-1 1zm-25-1zm-12 1zm-34-2zm-5 2zm2 2zm22 1zm41 1zm1-1zm9 0zm3-1zm7 0zm1 0zm0 3zm4 4zm-1 0zm-1 0zm0-1zm0-2zm-1 0zm-8 3zm-7-1zm-2-2zm-4 1zm-4-1zm-41 2zm2 4zm28 0zm2 0zm6 1zm0-2zm5-1zm3 0zm8 2zm3 0zm1-1zm1-1zm9 1zm0 0zm1 2zm-1 1zm-5 1zm0-1zm-1 2zm0-2zm-1 2zm0-1zm0 1zm-1-1zm0 0zm0-1zm-20 0zm-31 0zm-16 6zm43-2z" stroke="#00aaff" stroke-width="4.4" stroke-linecap="round" fill="none" opacity="0.9"/>
<path transform="scale(0.5)" d="M676 515zm1 0zm1-1zm0 2zm-3 3zm5 6zm-5 2zm-1-2zm-1 4zm1 2zm0-2zm0-1zm1 0zm0 1zm1 1zm3-2zm0 1zm0 0zm1 5zm-2 0zm0 1zm0-2zm-1-1zm-3 0zm-1 3zm-2-2zm0-1zm0 2zm-2 1zm-1 0zm0-1zm-1 1zm-9-1zm9 3zm0 1zm0-1zm1-1zm4 3zm0-2zm3 1zm0-1zm4 0zm0 2zm0 1zm-1 0zm-4 0zm-1 0zm-1 2zm-1 0zm-2-2zm-5 3zm-3 0zm-1 1zm3 3zm1-2zm3 1zm2 1zm2-3zm-1 4zm-3 2zm-1 1zm2 3zm1 1zm0-2zm3 4zm0 2zm-1-3zm-2 0zm3 4zm3 0zm8 4zm-1 0zm-4 3zm-3-1zm1 2zm0 0zm2 0zm2 3zm4 2zm-4 1zm0 1zm0-3zm-1 5zm1-1zm1 2z" stroke="#00ffff" stroke-width="4.4" stroke-linecap="round" fill="none" opacity="0.9"/>
<path transform="scale(0.5)" d="M682 526zm0 0zm-3 2zm1 3zm2-3zm0 1zm5 0zm-3 3zm-3 2zm-1 4zm1 1zm3-3zm-7 6zm-2 1zm-4 3zm1 1zm5-3zm-3 7zm0 0zm-5-3zm2 4zm0 0zm2 1zm0 0zm1 2zm0-2zm0-1zm8 7zm-1 0zm-1-1zm-5 0zm-1 1zm0-2zm0-1zm-1 4zm2 3zm2-2zm0-1zm3 0zm1 0zm0 3zm0-2zm1 1zm1 0zm1 1zm0-2zm-3 4zm-2 2zm0 2zm3-1zm1 1zm2 0zm1 0zm1 2zm-4 2z" stroke="#55ffaa" stroke-width="4.4" stroke-linecap="round" fill="none" opacity="0.9"/>
<path transform="scale(0.5)" d="M689 531zm0 0zm1 0zm0 0zm1-1zm1 0zm0 0zm-1 2zm0 0zm-3 1zm0 2zm-5 0zm-1 4zm3-1zm1 0zm1 1zm0-2zm1-1zm-6 7zm0-1zm-1 0zm-1 3zm0-1zm-3 5zm-1-1zm0 4zm3 3zm2 3zm5 4zm2 0zm-2 5zm-8-3zm11 5zm0 0z" stroke="#aaff55" stroke-width="4.4" stroke-linecap="round" fill="none" opacity="0.9"/>
<path transform="scale(0.5)" d="M693 534zm0 0zm0 1zm-3 0zm-3 4zm2-2zm-5 7zm-4 5zm0 0zm-2 1zm2 3zm1 0zm12 6zm-9 0zm-3-3zm8 6zm1 1zm1 0zm0 0zm2-3zm-1 5zm-2-1z" stroke="#ffff00" stroke-width="4.4" stroke-linecap="round" fill="none" opacity="0.9"/>
<path transform="scale(0.5)" d="M695 534zm0 0zm-2 0zm-3 4zm5-2zm-7 5zm-2 1zm-1 5zm4 4zm0-2zm-1 2zm-4-1zm0 0zm0-1zm-2 3zm0 1zm0 1zm2 1zm1-1zm3 0zm5-1zm0 4zm-1-1zm-4 3zm0 0zm-1 0zm0-3zm-3 0zm0 1zm4 3zm2 2zm1-2zm3 4z" stroke="#ffaa00" stroke-width="4.4" stroke-linecap="round" fill="none" opacity="0.9"/>
<path transform="scale(0.5)" d="M693 539zm0 0zm1-3zm0 1zm2 1zm-9 9zm2-2zm0 4zm-3-1zm0 1zm5 6zm1-3zm0 3zm1-2z" stroke="#ff5500" stroke-width="4.4" stroke-linecap="round" fill="none" opacity="0.9"/>
<path transform="scale(0.5)" d="M695 543zm0 0zm-1-3zm0 2zm0 0zm-1-1zm0-1zm-1 3zm-4-1zm1 2zm3 2zm1-2zm0 3zm1-3zm-3 5z" stroke="#ff0000" stroke-width="4.4" stroke-linecap="round" fill="none" opacity="0.9"/>
<path transform="scale(0.5)" d="M690 546z" stroke="#aa0000" stroke-width="4.4" stroke-linecap="round" fill="none" opacity="0.9"/>
</g>
<path transform="scale(0.25)" d="M1274 1063zm1-2zm2-1zm28 41zm6 100zm4 0zm3 1z" stroke="#0000aa" stroke-width="3.4" stroke-linecap="round" fill="none" opacity="0.7"/>
<path transform="scale(0.25)" d="M1309 1033zm-1 0zm-2 1zm-15 5zm-6-4zm-42 11zm27-1zm55-3zm1 4zm2 0zm1 7zm0-3zm-26 4zm-26-6zm-3 3zm-1-3zm0 2zm-23 0zm-5-1zm14 12zm2-1zm2-3zm5 3zm5-2zm3-2zm1 2zm0 2zm0-2zm1-1zm2 1zm0-1zm20 2zm-25 24zm-10-2zm-1-1zm-1 2zm0 3zm-6-2zm-63 11zm0 0zm1 0zm2 0zm0-2zm85-1zm6-3zm3 1zm28 14zm0-1zm0 1zm-1-1zm-1 0zm-1 1zm0 0zm-12-1zm-4 0zm-18 0zm-1-5zm-2 5zm0 1zm0-1zm-27-3zm-52 3zm-3-4zm0 3zm0-4zm-2 0zm84 7zm26 0zm11 0zm3 2zm2-1zm-79 12zm-45 2zm-4 0zm-2-1zm-6 0zm-2 8zm16-2zm45-3zm94 4zm-5 10zm-141-4zm1 10zm6-4zm130-1zm11 10zm-10 4zm-114 9zm4 0zm1-5zm81-2zm25 0zm14 1zm9 1zm-78 13zm-2-4zm-1-2zm-6-1zm-46 1zm18 14zm8-2zm0-1zm1-1zm0 4zm1-3zm27 0zm-27 4zm-2 4zm0-3zm-7 2zm-4 0zm-1 3zm74 4zm13 13zm-77 3zm2 2zm0 3zm1-1zm1 1zm1-1zm61-1zm0-1zm3 0zm3 0zm-67 6z" stroke="#0000ff" stroke-width="3.4" stroke-linecap="round" fill="none" opacity="0.7"/>
<path transform="scale(0.25)" d="M1294 998zm4 3zm-5 6zm-1-5zm-2-2zm-8 12zm2-3zm9-1zm1 11zm3 9zm2 1zm35 9zm0 1zm-1 0zm-1-3zm0 3zm-18-2zm0-3zm-7 2zm-2-4zm-3 2zm0 4zm-4-6zm-6 4zm0-2zm-1 2zm-3 3zm-1-4zm-1 0zm-1-1zm-39 11zm1-2zm2 3zm1 0zm25 0zm1 1zm13-7zm1 1zm0 2zm34-2zm5-1zm3 4zm2 0zm-2 5zm-4 0zm-29 0zm-8 4zm-41-1zm-3-3zm-4-1zm0 5zm-1-1zm-2-3zm6 11zm8-3zm0-1zm4 1zm2 2zm1-3zm0 0zm14 1zm5 0zm16 2zm12 1zm12 0zm7-4zm6 4zm0 6zm0 0zm-2-2zm0 0zm-5 0zm-17 1zm-22 0zm-10-1zm-20 0zm-11 5zm18 6zm7 10zm-8-1zm-1-2zm-1-2zm-66 14zm2 1zm0-2zm53 0zm2-2zm2 2zm3-3zm1 2zm2-1zm3 3zm16-1zm6-3zm8 3zm-10 10zm-3-3zm-21 1zm-6-4zm-3 2zm-44 1zm-7 0zm0 3zm-11 0zm-1-3zm-1 1zm-1 1zm0 0zm0-4zm-6 7zm2-1zm0 1zm5 0zm4 3zm2-4zm21 6zm0-3zm6 4zm2-1zm59-5zm1 0zm0 1zm6 5zm39 1zm-4 0zm-15 4zm0 1zm-4 1zm-1-6zm-1 6zm-9-3zm-3-1zm-2-2zm-1 4zm-4-3zm-36 3zm-2 1zm-1-1zm-1 3zm-25-7zm-1 3zm0-3zm-11 6zm-12-2zm-2-3zm-1 1zm-2 2zm0-2zm-6 5zm-7 0zm5 2zm7 0zm3 1zm9 4zm4-5zm1 6zm0-1zm1 1zm4 0zm0-7zm0 3zm9-2zm1-1zm3 6zm1 0zm15-3zm33-1zm1 2zm0-1zm15 0zm8-2zm0 3zm2 1zm1-1zm2-2zm1-2zm25 7zm6-2zm2-2zm3 0zm3 1zm1 3zm-1 1zm-6 3zm-1 2zm-4 0zm0-4zm-8 5zm-24-5zm-2-1zm-15 5zm-58-5zm-1 2zm-1 0zm-3 4zm-4 0zm-7-2zm0 1zm0-3zm-3 1zm-1-2zm0 3zm-1 1zm0-1zm-1-1zm0-1zm0 5zm-1 0zm0-4zm0 2zm-2-2zm0-1zm0-1zm-2 0zm-9 13zm0-2zm7 2zm4-5zm1-1zm0 1zm0-1zm1 4zm7-3zm4 1zm67-2zm57 0zm1 6zm2 0zm0 1zm1-7zm1 4zm2 1zm1-5zm4 6zm1-1zm3 2zm0-1zm2-3zm8 6zm-3 5zm0-2zm-4-2zm-2 0zm-2 2zm0-4zm-1 0zm-1 1zm0-1zm-1 4zm0-1zm-1 1zm-2-4zm-4 2zm-5 2zm-15-1zm-14 3zm0 0zm0 0zm-1-1zm0 1zm-9-6zm-1 0zm-1 0zm-2 5zm-2 2zm-3-2zm0 0zm-1-4zm-1 5zm-87-5zm-1-1zm-1 2zm-14 3zm38 6zm71-3zm1 2zm5 0zm0-2zm0 5zm1-3zm9 0zm19 5zm9-3zm1 0zm0-1zm1 3zm2-6zm1 1zm0-1zm12 4zm-23 6zm-4-2zm-19 1zm-20 4zm-2-1zm-2 1zm-37 8zm3-1zm-11 6zm-4 2zm0 1zm-1-3zm42 8zm2 3zm2 2zm1-7zm2 4zm1-1zm19 2zm1 1zm3-4zm1 2zm1-3zm0 4zm3-1zm-11 7zm-53 14z" stroke="#0055ff" stroke-width="3.4" stroke-linecap="round" fill="none" opacity="0.7"/>
<path transform="scale(0.25)" d="M1306 1007zm-7 0zm8 2zm-2 14zm-6-2zm-1 2zm-9-5zm19 9zm10 4zm1-6zm2 4zm2-2zm26 4zm1-2zm1 0zm1-2zm1 3zm0-1zm4 2zm1-4zm2 3zm-8 7zm-4-4zm-1 4zm0-3zm-4 5zm-23-3zm-1 3zm-1-1zm0-2zm0 3zm-1-2zm-29-5zm6 9zm21 1zm1 2zm4 1zm0-2zm5 3zm3 0zm21-5zm-15 8zm-3 6zm-1-6zm-2 3zm-3-1zm0 3zm-1-2zm-1 1zm0 1zm0 0zm-2 1zm-21-3zm-48 3zm2 8zm0-5zm39 5zm3-5zm5-2zm2 1zm0 0zm0 3zm15-2zm3 4zm3 1zm4 0zm1-6zm6 3zm1-3zm19 11zm-1 2zm-26-4zm0 0zm-1 2zm0-3zm0 3zm-1 1zm-39 1zm-37 0zm-6 2zm0 1zm1 6zm1-6zm64 3zm1 3zm3-1zm25 7zm-21-4zm-7 1zm-1-2zm-45 7zm-10-1zm-56 8zm59-4zm3 0zm1 4zm2-5zm4 3zm32-1zm4 2zm9 2zm0 0zm2-1zm3-2zm22 10zm-6-3zm-1 3zm-1-2zm-2-4zm-10 1zm0-1zm-2 1zm-1-1zm-2 0zm-48 0zm0 1zm-1 0zm-1-1zm-58 2zm-1 2zm-5-2zm-3 2zm-23 5zm115 11zm-1 1zm0-3zm-2 5zm-3-1zm-3-2zm-63 1zm-2 0zm-44 1zm-1-2zm2 7zm44 4zm3-1zm52 0zm12-4zm6 0zm41 4zm3-4zm0 0zm3 2zm6 2zm3 0zm1 4zm-11-1zm-1 2zm-11 2zm-4 0zm0 2zm-2 0zm-1-1zm-21-5zm-1 6zm-2-7zm-1 4zm-2-1zm0 3zm-2 0zm-65 0zm-3-3zm-38 12zm98-7zm2 6zm9 0zm25-6zm2 0zm15 4zm6-2zm7 5zm1-3zm3-1zm0 4zm1-5zm2 3zm5 9zm-7 0zm-18 0zm-16-1zm-16-2zm-15-2zm-1-1zm-1 1zm-5 3zm-94-3zm-4 4zm-2-5zm39 9zm2-1zm0 2zm3 2zm57-2zm17 5zm44-3zm2 3zm12 4zm-1 1zm0 1zm-1 0zm-26-4zm-48 4zm-27 7zm29-3zm22 3zm-64 5zm0 6zm-2-2zm0 0zm35 6zm3-1zm1-2zm2 4zm2-2zm0 1zm0-3zm1 8z" stroke="#00aaff" stroke-width="3.4" stroke-linecap="round" fill="none" opacity="0.7"/>
<path transform="scale(0.25)" d="M1303 1007zm2 5zm2-2zm43 12zm-5 0zm0 2zm1 3zm1-3zm1 3zm0 1zm0 1zm0-2zm1 2zm0-4zm3 5zm1 0zm0-5zm3 1zm-5 12zm-2-5zm-1 1zm0 4zm-2-1zm-32-2zm40 12zm5 0zm-3 6zm-2-4zm0 0zm0 4zm-7 1zm0-2zm-21 2zm-11-1zm-16 3zm42 4zm1 1zm1-4zm1 0zm1 2zm1-3zm1 1zm1 2zm15 1zm-6 9zm-3-4zm0 3zm-1 2zm-7-6zm-11 13zm0-1zm0-4zm1 3zm4 1zm6-4zm3 4zm8 2zm7 7zm-2-1zm-1 2zm0-1zm-2-1zm0-3zm0 2zm0-1zm-17 5zm0 0zm-40 2zm0 3zm1 0zm2 2zm17-1zm0-1zm6-1zm1 1zm8 1zm1 9zm-1 0zm0 1zm-1-1zm0-1zm0-1zm-3 2zm-6-1zm-6-5zm-5 2zm18 6zm-46 22zm76 9zm-2-4zm-31-2zm-1 0zm-1 0zm33 13zm2-1zm1-2zm1-2zm2 1zm-13 21zm0 0zm2 1zm0 4zm0-3zm-2 4zm-2 0zm-1-3zm-10-1zm-1 0zm0-1zm-1 0zm-5 0zm-87 12zm1 0zm-7 8zm0-1z" stroke="#00ffff" stroke-width="3.4" stroke-linecap="round" fill="none" opacity="0.7"/>
<path transform="scale(0.25)" d="M1343 1060zm14 2zm4-3zm4 1zm1 5zm-5-1zm-3 1zm-8 12zm3 1zm4 8zm-1-6zm-2 5zm-26 8zm31 16zm4 2zm1 1zm-1 0zm-3 3zm-1-2zm14 20zm0 1zm-1 1zm0-2zm-3 0zm0 1zm-2-2zm-2 1zm-5-1zm-1-3zm-5 2zm-4-1zm12 7zm4 4zm6-2zm1-1zm0-2zm6 7z" stroke="#55ffaa" stroke-width="3.4" stroke-linecap="round" fill="none" opacity="0.7"/>
<path transform="scale(0.25)" d="M1367 1065zm-6 8zm2 1zm2-1zm5 4zm-20 22zm-15 3zm7 3zm4 0zm0 0zm2 0zm8 5zm4-6zm31 12zm-27-3zm0 14zm4 0zm1 0zm1 0zm2-2zm9 9zm-1-1zm-1-3zm-1 5zm-2-4zm-2-2zm0-1zm-3 4zm-1-4zm-1 0zm-1 7zm-7-4zm-4-2zm-12 5zm25 2zm9 0zm2 4z" stroke="#aaff55" stroke-width="3.4" stroke-linecap="round" fill="none" opacity="0.7"/>
<path transform="scale(0.25)" d="M1380 1069zm-7 0zm1 4zm2 3zm4 3zm-5 5zm16 35zm-1-3zm-1 0zm-1 1zm0 1zm-1-2zm-1 2zm-10-4zm-5-1zm-4 1zm-3 3zm15 16z" stroke="#ffff00" stroke-width="3.4" stroke-linecap="round" fill="none" opacity="0.7"/>
<path transform="scale(0.25)" d="M1379 1071zm-8 14zm-2 2zm5 3zm6 13zm0 7zm0-1zm2 4zm0 6zm-1 0z" stroke="#ffaa00" stroke-width="3.4" stroke-linecap="round" fill="none" opacity="0.7"/>
<path transform="scale(0.25)" d="M1372 1093zm2 2zm12 8zm-1 0zm-2-2zm-2 7zm-2 5zm-2 1zm3 6z" stroke="#ff5500" stroke-width="3.4" stroke-linecap="round" fill="none" opacity="0.7"/>
<path transform="scale(0.25)" d="M1390 1085zm-5 2z" stroke="#ff0000" stroke-width="3.4" stroke-linecap="round" fill="none" opacity="0.7"/>
<path transform="scale(0.25)" d="M1379 1076zm11 5zm-4 2zm-1 2zm0-4zm-2-1zm-2 5zm-2-4z" stroke="#aa0000" stroke-width="3.4" stroke-linecap="round" fill="none" opacity="0.7"/>
<text x="383.7" y="239.3" font-size="8" stroke="#000" stroke-width="0.22">(iii)</text>
<text x="404.2" y="244" font-size="7.6" stroke="#000" stroke-width="0.22" textLength="57" lengthAdjust="spacingAndGlyphs">TIGIT expression</text>
<text x="394.8" y="272.6" font-size="9.6" text-anchor="middle" transform="rotate(-90 394.8 272.6)" stroke="#000" stroke-width="0.22" textLength="28.2" lengthAdjust="spacingAndGlyphs">tSNE2</text>
<text x="420.5" y="317.7" font-size="7.9" stroke="#000" stroke-width="0.22" textLength="23.3" lengthAdjust="spacingAndGlyphs">tSNE1</text>
<g filter="url(#spkd)">
<path transform="scale(0.5)" d="M842 529zm1 0zm3 1zm1-1zm4 4zm-2-1zm-2 0zm-4 2zm0 1zm-1-2zm0-1zm-1 0zm-1 4zm10 4zm-4 0zm9 10zm0 5zm1-3zm2 5z" stroke="#0000aa" stroke-width="4.4" stroke-linecap="round" fill="none" opacity="0.9"/>
<path transform="scale(0.5)" d="M854 527zm-3 0zm-2 0zm-2 0zm-2 0zm-2-2zm1 4zm3 1zm1 0zm6 0zm4 1zm1 2zm-1 0zm-1 1zm-2-1zm-1-1zm-1 3zm-2-2zm0 1zm-4 1zm-3-3zm0 0zm-2 2zm-1 0zm-1-1zm2 3zm1 2zm4-1zm0-1zm1 3zm2-1zm1-2zm2 0zm1 0zm3 3zm1-2zm3 1zm-1 4zm-1-2zm-3 1zm-1 1zm0-1zm-1 2zm-3 0zm-1-1zm-1-1zm0 1zm-2-2zm-2 1zm-1 0zm-1-1zm3 7zm0-3zm1 2zm5 1zm2 0zm1-1zm2 1zm1 0zm2-3zm-1 7zm-2-1zm0 0zm-1 1zm-3-2zm-1 0zm-1 1zm-1 0zm0-2zm-1 2zm-3 4zm0 1zm2-3zm0 2zm1-2zm1 1zm2 2zm2-3zm0 1zm0-1zm0 1zm3 2zm1-3zm0 0zm1 0zm1 1zm4 3zm-2 1zm-1-1zm0 2zm-1 0zm-4-1zm-2-1zm-1 2zm-1-2zm0 1zm0 2zm-1-3zm-1 2zm0 1zm-1-3zm-1 2zm0-1zm1 3zm1 1zm1 0zm2 0zm2-1zm1 1zm0 2zm5-2zm1-1zm1 0zm-3 7zm-1-3zm-4 2zm-1 2zm2 3zm4-2zm2 1zm3 3zm-2 0zm-1 2zm-2-1zm-1 1zm0-3zm0 1zm-2 2zm-1-1zm0 0zm1 2zm3 0zm7 0zm-4 4zm-7 3zm-5 1zm-11 7zm-1-1zm4 5zm6 2zm-3 0zm-1-1zm0 2zm-2-1zm-2-1zm-2 2zm0 0zm1 2zm0 0zm1 1zm0 2zm0-3zm4 1zm1 2zm0-1zm2 1z" stroke="#0000ff" stroke-width="4.4" stroke-linecap="round" fill="none" opacity="0.9"/>
<path transform="scale(0.5)" d="M846 523zm1 0zm4 0zm1 4zm-3-3zm2 6zm2-2zm2 1zm1 1zm2 1zm0-2zm1 1zm0 0zm1 1zm3 4zm-1 0zm-1-1zm-1-2zm1 4zm2 3zm1-3zm0 5zm-3 0zm-17 4zm5 0zm11 2zm1 0zm1-1zm1 1zm1 0zm-1 3zm0 0zm0 0zm-1 0zm-1 0zm-12-1zm-1 0zm-1 2zm-3-2zm0 2zm-2-2zm21 6zm0 0zm2 0zm1 2zm-2 1zm0-2zm0 2zm-1 0zm-18-1zm-2 0zm2 4zm4-1zm11 1zm1 0zm1 0zm2 1zm0-2zm6 2zm-2 5zm0-1zm-2 0zm-3 0zm-3 0zm-6-2zm0 1zm-3 0zm-1-1zm-1 2zm-1-1zm-1-1zm6 4zm3 0zm8 1zm1 1zm0 0zm3-1zm0 2zm1-3zm-3 7zm-6-3zm-5 2zm0-2zm-1 0zm-19 3zm16 4zm1-1zm5 0zm10-2zm1 1zm-2 4zm-1 1zm0 0zm-1-2zm-2 3zm0-1zm-5-2zm0 3zm-2-1zm0 0zm-1 0zm0 0zm-1-2zm0 1zm-2-1zm-2 3zm-10-2zm-3-1zm-3 2zm1 5zm2 0zm0 0zm3-1zm1-1zm1 0zm1 2zm0-1zm3 0zm1-1zm1 1zm0 0zm2 0zm0 1zm0 0zm1 0zm0-3zm1 3zm0-2zm2 2zm1-1zm2 1zm3-3zm0 2zm2 1zm1-3zm-3 7zm-3-1zm-1 1zm-2-3zm0 0zm0 1zm-4 2zm-2-2zm-4-1zm-1 2zm0-1zm-1-1zm-2 0zm-2 0zm0 2zm21 5z" stroke="#0055ff" stroke-width="4.4" stroke-linecap="round" fill="none" opacity="0.9"/>
<path transform="scale(0.5)" d="M851 521zm4 4zm-1-1zm3 4zm8 11zm1 4zm0 0zm-1-1zm-2-1zm2 3zm1 1zm0-1zm1 1zm-1 5zm-1 0zm0 3zm1-1zm1 1zm-23 8zm22 2zm2-1zm3-1zm0 1zm1 0zm0 4zm0-2zm-3 2zm-20 0zm-16 2zm34 1zm0-1zm4 2zm6 1zm-5 4zm0 0zm-1 0zm-1-2zm-1 2zm-32 0zm-1-3zm-1 0zm0 3zm-1 0zm-1 0zm-3 0zm0 0zm0 0zm-3 4zm0 0zm0-2zm3 0zm2-1zm2 0zm1 2zm36 0zm1-1zm2 2zm-3 1zm-1 2zm-3 0zm-27 1zm-3 0zm-2-1zm-1 1zm-1-3zm-1 2zm-3-2zm-1 1zm-1 1zm-1 0zm-2 0zm-1-2zm-1 5zm2 0zm1 1zm0-2zm0 2zm2 1zm0-2zm0 2zm1 0zm1 0zm0-1zm5-2zm3 2zm1-1zm4 1zm20 0zm1 1zm2-3zm0 3zm0-1zm-3 4zm-25-2zm-2 1zm23 4zm1 0zm2 0z" stroke="#00aaff" stroke-width="4.4" stroke-linecap="round" fill="none" opacity="0.9"/>
<path transform="scale(0.5)" d="M862 529zm1 1zm1 0zm0 0zm1 1zm5-2zm7 2zm-1 3zm-9 2zm1 3zm1-3zm-2 4zm-1 0zm6 5zm0 0zm-4 5zm0-2zm0 2zm-43 1zm-2-1zm-1-2zm-1 0zm-1 3zm-1 0zm-1-2zm5 3zm5 2zm0-2zm2 2zm0 1zm39-2zm1 2zm1 1zm-2 1zm0-1zm0 2zm-1-2zm-1 2zm-39-2zm2 6zm44 1zm3-1zm6 0zm2 1zm1-1zm3-2zm1 2zm0 1zm3 0zm2 4zm0 0zm-3-2zm-1-1zm-2 2zm0-2zm-3 2zm0-1zm-2-1zm-1 3zm-3-2zm-1-1zm-1 0zm-2 0zm-2 2zm-1-1zm-1 2zm-41-3zm-4 1zm-2 1zm7 5zm0-1zm1-2zm1 1zm0 2zm40 0zm0 0zm1-2zm4 2zm1 0zm2-2zm0 2zm0-2zm2 1zm0 1zm0-3zm2 0zm1 1zm0 2zm2-2zm2 0zm2-1zm2 1zm0 0zm-2 4zm-1 0zm-1 0zm-2 2zm-1 0zm-1-2zm-1 1zm0-2zm-1 0zm0 0zm-3 2zm-2 0zm-3 0zm-2 1zm0-1zm0-2zm-1 2zm-41 0zm-1-2zm-2 1zm-1 0zm-2 2zm-5 3zm2 1zm1 0zm48-1zm0 1zm1-1zm1-2zm0 3zm1 0zm5-1zm2-2zm4 1zm1 0zm1 0zm1 1zm3-2zm0 1zm4 0zm3 2zm-4 3zm0 0zm-3-1zm-1 1zm0-2zm-2 3zm-4-3zm-1 1zm-11-1zm-53 1zm-2 0zm0 2zm0-1zm0 1zm2 3zm2-1zm46-1zm-3 5zm-3 2z" stroke="#00ffff" stroke-width="4.4" stroke-linecap="round" fill="none" opacity="0.9"/>
<path transform="scale(0.5)" d="M877 526zm-9 0zm0-1zm-3-1zm-1 2zm0 0zm-2-1zm4 4zm0 0zm7 2zm1 0zm2-2zm1 1zm-1 2zm-5 0zm-1 3zm-1-3zm-1 2zm2 5zm1-3zm0 0zm1 3zm0-1zm0-2zm1 1zm0 2zm1-2zm1 2zm1-1zm0 4zm-1-1zm-1 2zm-1-3zm0 1zm0 2zm-1-3zm-1 0zm-1 1zm-56 6zm57 0zm1 0zm2-3zm1 0zm3 0zm0 1zm1 1zm0 0zm4 0zm4-2zm2 7zm-3 0zm-2 0zm0-2zm-3-1zm0 0zm0 3zm-1-3zm-2 2zm0 1zm-6-1zm-51 0zm0 0zm0 0zm0 0zm-4-1zm-1 2zm-1-1zm0 1zm-2 0zm-2-3zm0 3zm2 2zm0 0zm0-1zm1 1zm3-1zm0 3zm0-1zm0 0zm1-1zm0-1zm3 0zm1 1zm0 0zm3 1zm2 1zm1 0zm0 0zm44-2zm1 2zm1-1zm4-2zm0 3zm3-1zm0-1zm1 2zm3 0zm3-1zm0 0zm1 1zm1-2zm2 2zm2 4zm-2-2zm-2 0zm-2-1zm-2 3zm-1 0zm-1 0zm0 0zm-1-2zm-1-1zm-2 3zm-1-2zm-1 2zm0 0zm-3-1zm-44-1zm-2 2zm-1 0zm-2-3zm-2 3zm-1-1zm-1-2zm-1 0zm0 0zm-3 0zm-3 1zm-4 1zm9 4zm3 0zm0-1zm5-1zm4 1zm0 2zm42-3zm2 2zm2-2zm1 3zm1-1zm2-2zm1 1zm6 1zm4-2zm0 2zm3 2zm-1 0zm0 3zm-7-2zm-3 1zm-53-2zm-1 2zm-1 0zm-2-2zm-1 1zm-3 1zm-1-1zm0 1zm0 0zm-1-1zm0 2zm0 3zm0-2zm1 0zm1 0zm3 0zm2 2zm1-2zm1 0zm54 1zm6 1zm0-2zm5 3zm1 0zm0 0zm1-2zm1 1zm2 4zm-2 0zm0 1zm-4 0zm-1-1zm-2-2zm-2 3zm-70 3zm2 0zm0-1zm1 1zm71 1zm3-2zm1-1zm0 1zm0 1zm2-2zm-4 4zm-3 1zm-1 2zm0-2zm0 2zm-3-1zm-70 0zm-1 2zm54 9z" stroke="#55ffaa" stroke-width="4.4" stroke-linecap="round" fill="none" opacity="0.9"/>
<path transform="scale(0.5)" d="M856 510zm-1 6zm6 5zm1 1zm0 0zm0 0zm1 0zm2 1zm17 0zm4 3zm-2-1zm-1-1zm-2 2zm-1 1zm-2-1zm-2 0zm0 0zm-4 0zm0-2zm0 0zm-2 0zm-1 1zm0 0zm-1 2zm0-1zm4 3zm8 0zm0 2zm1 0zm2-3zm2 3zm0-1zm3 0zm3 1zm-1 1zm-4 0zm-3 0zm0 0zm0 1zm-1-1zm0 3zm-2-2zm-5 4zm15 2zm3-1zm-2 3zm-1 2zm-8 0zm-2-1zm-7 5zm1-1zm2 0zm5-2zm2 2zm2-1zm1-1zm1 3zm1-1zm4 0zm0 4zm-1 1zm-2-3zm0 2zm-1 1zm0 0zm0 0zm-2-3zm-5 3zm-1 0zm-2-3zm0 2zm-64 1zm-5 2zm2 0zm2 2zm2-2zm58 0zm4-1zm2 0zm1 1zm2-1zm0 3zm1-3zm7 3zm3-1zm1-2zm-12 5zm-60 0zm-2 0zm-2 1zm-3 0zm-1-1zm-1 0zm-3 1zm-1-1zm0 2zm0-2zm-1 0zm-2 5zm2 1zm1-3zm3 1zm2-1zm2 1zm3 1zm0 0zm1 1zm1 0zm2-1zm72-1zm1-1zm1 3zm1 3zm-74-1zm-4 0zm0 0zm-2-1zm-10 2zm94 5zm1-1zm1 1zm-8 2zm-74-1zm0 0zm-1 3zm0-2zm-4 3zm0 3zm0-3zm2 3zm1-3zm1 0zm52 19zm0 0zm2-2zm0-1zm2 2zm5 5zm-1 0zm-2-3zm0 3zm-2-2zm0 2zm-3-1zm0 1zm-1-3zm-2 1zm2 4zm1 0zm0-1zm1 0zm1 1zm2 2zm1 0zm0-3zm1 1zm-2 3zm-4 0z" stroke="#aaff55" stroke-width="4.4" stroke-linecap="round" fill="none" opacity="0.9"/>
<path transform="scale(0.5)" d="M870 502zm0-2zm-4 2zm-1-1zm0 0zm-2 1zm0-1zm-7 6zm3 0zm3 0zm0 0zm2-3zm4 3zm1-3zm1 2zm0-2zm1 0zm5 1zm0 1zm2 0zm1 0zm0 1zm-6 1zm-2 1zm-2 1zm-2 0zm-6 0zm0 1zm-1 0zm-1-3zm-1 2zm-1-2zm0 1zm-2-1zm0 0zm1 5zm2 1zm0 0zm0 0zm7 1zm2-3zm2 3zm2-2zm0 2zm3-2zm4-1zm1 2zm1-2zm2 3zm9-2zm3-1zm-2 4zm-5 3zm-5-2zm-3 0zm-12 0zm-3 0zm-1 2zm-2-3zm-1 0zm2 6zm2-2zm0 0zm0 0zm2 1zm2 1zm0 0zm1 1zm1-1zm1 0zm2-1zm7 0zm1 2zm1-2zm0-1zm6 3zm18 4zm-1-1zm-1-1zm-1 1zm-2-2zm-13 2zm-2 0zm-1-1zm-1 1zm-1 0zm-3 4zm3-1zm0 1zm3-2zm2 2zm4-2zm2 1zm1 2zm2-3zm5 1zm0-1zm4 3zm2-3zm4 4zm-15 1zm-4 2zm-2-3zm-1 0zm-3 2zm0 0zm0 0zm-2-1zm-1 0zm0 0zm0 3zm4 0zm0 1zm0 1zm1-2zm1 2zm0 0zm0 1zm3-1zm0-2zm1 1zm0 0zm0 1zm1-2zm0 2zm2 0zm-6 3zm0 0zm-1 2zm4 1zm2 2zm3 5zm-3 0zm0-3zm-1 3zm-1 0zm-1-1zm1 5zm4-2zm3-1zm12 4zm-106 5zm0-1zm7 1zm1-1zm0 2zm96 1zm2 2zm0 0zm-1 1zm0 1zm-1-2zm-3-1zm0 1zm-1 2zm-1-2zm0 1zm-3 0zm-85-1zm-1 1zm0-1zm-1 2zm-1-2zm-2 2zm-1 0zm-1-1zm-1-2zm0 3zm-3-1zm0 1zm2 3zm2 0zm0 1zm1-1zm2 0zm0 0zm1 1zm1 0zm0-2zm3 2zm1-2zm0 2zm89-2zm0-1zm2 0zm-92 7zm-1-3zm-4 0zm-1 0zm0 1zm-2 0zm6 5zm54 17zm3-2zm3 0zm3 6zm-7 1z" stroke="#ffff00" stroke-width="4.4" stroke-linecap="round" fill="none" opacity="0.9"/>
<path transform="scale(0.5)" d="M873 502zm-7 1zm-6 1zm0 2zm7 0zm0 0zm2 1zm3 0zm1-1zm2 1zm3 2zm-4 1zm-1-1zm0 1zm0-2zm-3 2zm-4-2zm-2 0zm-1 1zm-1 0zm-3-1zm1 6zm1-2zm1 3zm0-2zm1 2zm1-1zm1 1zm0-1zm2 0zm0-2zm2 2zm1 0zm3-1zm5-1zm2 2zm0 0zm1-2zm1 3zm15-2zm0 1zm2 1zm-1 2zm-3 1zm0-1zm0 1zm-1-1zm-3-1zm-3 2zm-3 1zm-3-3zm-1 0zm-3 3zm-6-3zm-4 6zm1-1zm0 0zm4 0zm0 0zm1 2zm2-3zm1 0zm11 0zm2 3zm0-2zm2 2zm2 0zm15 3zm-3-2zm0 1zm-3-1zm-2 1zm-1 0zm-2 2zm-1-2zm0 2zm-3-2zm-2 1zm-2-2zm0 0zm-1 3zm10 4zm3-1zm0 1zm0-1zm1-1zm0-1zm1 0zm1 1zm2 1zm1 1zm1-2zm1 0zm1-1zm2 3zm1 0zm-2 4zm-1-3zm0 2zm-8-1zm-1-1zm0 0zm-1 3zm0-3zm-1 1zm-1 1zm-1 1zm-1-3zm0 5zm2 0zm1-1zm1 3zm2-2zm1 1zm8 1zm1 0zm2-1zm1-1zm-3 5zm0-1zm0 2zm0-3zm-2 2zm-5 1zm-4-1zm-1 1zm0-2zm-1 2zm-3-2zm2 6zm0-3zm0 2zm1-1zm2 2zm1-3zm8 1zm1-1zm1 0zm0 0zm-7 4zm-3 3zm-2-2zm-2 2zm-1-2zm-1 4zm1 0zm2 2zm1-2zm0-1zm0 1zm0-1zm2 3zm1-2zm1 2zm0-3zm1 0zm0 0zm2 0zm0 0zm0 1zm2 2zm0-1zm0-2zm1 2zm1 0zm2 1zm-6 3zm0-1zm-3-1zm-1 0zm-1 2zm0-1zm-3 0zm-1 1zm0 4zm5 1zm0 0zm2-2zm0 0zm3 2zm0 0zm0-1zm3-2zm0 3zm-1 1zm-1 0zm-96 3zm-3 1zm3 3zm4-2zm-3 3zm-1 1zm-3-1z" stroke="#ffaa00" stroke-width="4.4" stroke-linecap="round" fill="none" opacity="0.9"/>
<path transform="scale(0.5)" d="M911 532zm-6 3zm-3 4zm1-3zm1 2zm2 0zm2-2zm3 2zm2 3zm-1 0zm-4 1zm-1-2zm0 3zm-1-1zm0-1zm-5 6zm2-1zm3-1zm3-1zm-1 5zm0 1zm-2-2z" stroke="#ff5500" stroke-width="4.4" stroke-linecap="round" fill="none" opacity="0.9"/>
</g>
<path transform="scale(0.25)" d="M1688 1053zm-3-4zm0 8zm2-1zm21 7zm-5 22zm-2 2zm-2-2zm-1 24zm0 1zm2 1zm12-7zm-15 8zm-17 89zm6 8z" stroke="#0000aa" stroke-width="3.4" stroke-linecap="round" fill="none" opacity="0.7"/>
<path transform="scale(0.25)" d="M1683 1051zm30 18zm-3 2zm-1-1zm-3 1zm-1 0zm-2-5zm-23 9zm5 3zm0-4zm3-2zm15 7zm2-1zm3 3zm-6-1zm12 19zm-13 11zm10-4zm4 6zm-1 1zm0 3zm-14-3zm-1-1zm-7 10zm24 0zm1 2zm6 0zm2 1zm3-5zm-10 25zm-1-1zm-1 3zm-1-1zm-1-1zm-5-1zm-3 20zm-1 0zm-2-4zm-1 4zm-4 3zm-9 6zm23-4zm3 6zm1-1zm2 1zm-4 4zm-25 0zm-2 0zm-2-1zm0 1zm-5-2zm10 11zm0 6zm-1-2zm-1 3zm-2 0zm-1 0zm-4 2zm1 6zm6-3zm1 2zm1 0zm3 5zm2-2zm1 1z" stroke="#0000ff" stroke-width="3.4" stroke-linecap="round" fill="none" opacity="0.7"/>
<path transform="scale(0.25)" d="M1682 1047zm5 4zm-1 4zm-2-2zm-1 1zm0-2zm33 5zm0 4zm2-2zm0-1zm1 0zm0 0zm1 0zm0 2zm2 2zm3 4zm-1 5zm0-6zm-1 5zm-2-1zm-20 6zm3-3zm4 6zm3-6zm14 10zm-2 1zm-1 2zm-1 0zm-1 1zm-12 8zm1 0zm2 0zm2 2zm18 23zm0-3zm-3 3zm0 0zm-14-4zm-5 1zm-7 3zm-7 7zm1 1zm0 0zm0 0zm0-2zm0-5zm1 3zm1 2zm0-1zm0-1zm0-2zm4 5zm0-4zm1 2zm11-4zm3 0zm2 5zm14 2zm-1 8zm-2-6zm0 4zm-1-1zm-1-1zm-1 0zm0 2zm0 2zm-4-6zm0-1zm-7 4zm-2-2zm-2-1zm-12 1zm-1-2zm-33 13zm52-4zm11-1zm19 15zm-4-3zm-21 1zm-1 2zm-4-2zm-5-4zm-47 13zm54-5zm4 0zm3 0zm1 8zm-14 6zm-1-1zm-2-5zm-1 0zm-1 6zm-36-6zm-1 3zm-5-2zm6 7zm2 4zm2-2zm26-3zm6 3zm7-2zm3 0zm-7 9zm0 0zm-36-1zm-7 0zm17 12zm10 0zm0 1zm13-5zm-19 11zm-2 3zm0 0zm-2-2zm-5 2zm3 8zm3-5zm0 1zm10 3zm3-1zm-3 3z" stroke="#0055ff" stroke-width="3.4" stroke-linecap="round" fill="none" opacity="0.7"/>
<path transform="scale(0.25)" d="M1711 1055zm3 4zm1 1zm3 0zm0 1zm11 4zm-3-1zm-1 4zm-1-2zm-5 4zm-87 25zm73-2zm33-3zm-2 6zm-2 2zm0-1zm-1-1zm1 23zm-1-1zm-1-1zm0 2zm-1 0zm-2-3zm-15 6zm5 5zm7-2zm3 1zm0-5zm1 5zm11 0zm0-2zm3-3zm51 12zm-3 2zm-1-2zm-31 0zm-2-4zm-25 0zm-2 2zm-2-1zm-12 2zm-2-4zm-2 3zm-4 2zm-38 8zm4-3zm37-2zm2 1zm2 1zm5 2zm34-3zm11 5zm7-4zm13-1zm5-1zm2 3zm-12 11zm-11 0zm-1-1zm-4-1zm-17 3zm-5-1zm0-1zm-21 2zm-62-6zm-10 4zm20 5zm54 0zm2 3zm3-3zm4 4zm57 5zm-40-3zm-3 6zm-10-3zm-1-2zm-2 2zm-56 4zm-2-1zm-2-2zm-2 0zm3 5zm4-1zm34 7zm3-2zm-3 9zm-2 1zm-40 0zm43 2z" stroke="#00aaff" stroke-width="3.4" stroke-linecap="round" fill="none" opacity="0.7"/>
<path transform="scale(0.25)" d="M1743 1057zm0 2zm5 2zm9 0zm3 0zm-6 4zm-6 1zm-8 2zm9 11zm2-4zm-122 14zm1 3zm1 1zm1-3zm1 5zm1 0zm98-5zm3-2zm1 7zm1-3zm7 7zm0 1zm-1 3zm-3-7zm-1 3zm-1-2zm-3 5zm-2-6zm-1 3zm-4 4zm0-7zm2 8zm3 1zm1 1zm25 9zm-2 0zm-1-1zm-13 1zm-6 2zm-77 1zm-3-5zm0 1zm-1 5zm-1-6zm-3 4zm-7 1zm-12 9zm5-2zm10-4zm2 1zm80 2zm1-4zm5 3zm1-3zm3 7zm0-4zm1-3zm0 2zm3-2zm1 4zm0-4zm37 6zm-21 6zm-29-2zm-91 1zm22 11zm1-1zm1 1zm89-1zm8-3zm7 3zm2-2zm1-1zm0-1zm3 2zm15-2zm2 0zm0 0zm4 0zm-18 13zm-4-4zm-4 3zm-1 2zm-27 0zm-76-6zm-7 3zm-11-3zm-2 6zm3 1zm2 1zm4-1zm83 2zm2 0zm6 1zm25 2zm7-4zm1 1zm3 0zm2-2zm5 2zm2 5zm-1 1zm-4 4zm-5-3zm-9-1zm-23 6zm-5-6zm-2 8z" stroke="#00ffff" stroke-width="3.4" stroke-linecap="round" fill="none" opacity="0.7"/>
<path transform="scale(0.25)" d="M1716 1044zm0 1zm14 1zm4-2zm32 5zm-1 2zm-3 0zm-4-1zm-5-2zm-7 0zm-13 2zm23 11zm1 4zm0-1zm-1 0zm0 2zm-15 4zm-1-6zm0 5zm-5 5zm7 4zm8-1zm0-1zm13 9zm-3-4zm-8 1zm-8 0zm0 2zm-1 3zm0-2zm-3 1zm-2 1zm-1 2zm1 0zm32 11zm-16 1zm-2 2zm-2-2zm-4 2zm0 0zm-1-6zm-1 3zm-3 3zm-1-6zm0 0zm0 4zm-4-4zm-99 5zm0-2zm-10 3zm27 8zm1 0zm102 0zm15-6zm9 2zm3-1zm6 2zm-6 7zm-1-1zm-2 2zm-1 2zm-22-6zm-1 4zm-1-1zm-3 0zm-91-1zm-6 2zm-1 0zm-1 0zm-1-4zm-3 0zm-8 3zm-1 0zm-4 3zm-6-6zm7 12zm18 1zm94-1zm1-3zm1 3zm27 3zm0-2zm1 2zm0-1zm1 0zm2-1zm1-2zm1 3zm2-3zm1 4zm-129 6zm-2-3zm-3 1zm0-1zm-2 1zm-2 3zm-5-4zm-3 2zm-2 0zm-2 6zm24 5zm136 4zm-146-1zm0-2zm0 2zm-1 2zm0-2zm-2-1zm0 6zm-1-6zm146 12zm-8 7zm-6-1zm4 6zm0 2zm3 4zm-48 28zm2-3zm4 3zm2-1zm0 1zm1-3zm7 6z" stroke="#55ffaa" stroke-width="3.4" stroke-linecap="round" fill="none" opacity="0.7"/>
<path transform="scale(0.25)" d="M1714 1023zm-10 7zm4 0zm7-1zm0-5zm1 0zm1 5zm0-4zm1 2zm2 2zm-7 6zm-1-2zm-1 0zm-1 0zm2 8zm17 5zm2 1zm1-2zm63 8zm-29-3zm-5 2zm0 0zm-4 0zm-5-2zm-5 5zm-3-1zm-10-5zm-4-1zm8 12zm0 0zm1 0zm1-2zm9-2zm1 1zm2-1zm9 6zm4-5zm13 6zm1-2zm0 1zm2 1zm-22 6zm-4-4zm0 2zm-17 10zm7 1zm8-3zm3 4zm3-5zm2 10zm-3 2zm-1-4zm-12 0zm0-2zm-3 1zm-2-1zm-7 5zm19 5zm28 1zm2 0zm2 4zm0 0zm3-3zm3 3zm-19 5zm-3 0zm0-2zm-17 4zm-110-1zm-1 0zm-1 2zm-1 0zm-12-1zm-1 0zm-1 1zm3 2zm8 0zm6-1zm2 0zm0 3zm2 2zm1 0zm125-5zm0 1zm10 3zm0-2zm3 1zm1 5zm-2 1zm-1 0zm-3 5zm-136-3zm-2 4zm-4 0zm-4-5zm-3-2zm-11 11zm18-3zm2 2zm2-1zm141 4zm3 2zm1-2zm1 0zm1 2zm2 0zm-3 2zm-1 1zm-132 1zm-23 3zm-10-1zm179 18zm-2-1zm0-1zm-148-5zm-4 5zm8 3zm145 2zm1-2zm2 3zm2-1zm-21 12zm3 4zm-36 29zm-6-1zm-2-2zm-2 0zm-3 1zm0 2zm0 2zm0-1zm3 0zm3 0zm1 2zm5-1zm8 0zm2 0z" stroke="#aaff55" stroke-width="3.4" stroke-linecap="round" fill="none" opacity="0.7"/>
<path transform="scale(0.25)" d="M1714 1008zm0 4zm1-1zm6 3zm4-2zm2 0zm1-2zm5 1zm-8 8zm-5 1zm-2-1zm0 2zm-1-2zm-1 0zm0-2zm-4 0zm-1-1zm-2 13zm2 2zm1 0zm0-2zm0-1zm3-3zm2 1zm0-1zm1 5zm0-5zm1 2zm16-3zm20 12zm-1 1zm0 1zm0-1zm-2-2zm-39-2zm13 10zm3 0zm19 4zm1-5zm2 2zm1 0zm3-4zm24 7zm12 0zm3 0zm7 0zm1 0zm5-1zm10 4zm-2 3zm-3-4zm-2 2zm-5 0zm0-3zm-1 0zm-1 3zm-9 0zm-7 0zm-10-1zm0 0zm-1 0zm-1 5zm-11-5zm-7 5zm3 2zm0 1zm1 0zm1 0zm42-2zm9 2zm2-2zm-37 8zm-23 5zm-1 2zm4 3zm0-2zm2 1zm2-1zm3 13zm-1 0zm-4 0zm-2-4zm27 10zm2 2zm17 5zm-3 5zm-1 0zm0-7zm-4 5zm-2 1zm-3 3zm4 2zm-3 7zm-1 1zm-1-1zm-173 12zm7-1zm1-2zm11-3zm2 0zm4 2zm165 10zm-2 2zm-1-2zm0 1zm-171 0zm-4 1zm-1-5zm-5 3zm0 7zm1 2zm4-3zm2 0zm170 11zm-159 1zm-4-3zm-8-1zm-5-2zm7 12zm4-4zm1 0zm5 1zm110 48z" stroke="#ffff00" stroke-width="3.4" stroke-linecap="round" fill="none" opacity="0.7"/>
<path transform="scale(0.25)" d="M1741 1007zm-25 8zm3 0zm2 0zm2 0zm5-5zm13 3zm4-3zm1-1zm-8 13zm-1 1zm0-6zm-6 3zm-7-4zm0 3zm-4-1zm-3 4zm5 3zm8 5zm5-3zm55 2zm5-1zm-1 7zm-4-2zm-1-1zm-4 0zm0 1zm0 2zm-46-2zm-4 3zm-2 2zm-2-5zm-1 2zm0-1zm0 5zm-1-1zm-1-6zm0 9zm6 5zm16-4zm61 5zm3 5zm-4 1zm-2-5zm-17 4zm-6 1zm-1 2zm-1-4zm-1 4zm0-2zm-2 0zm27 6zm4-1zm3 3zm1 0zm12-1zm3 0zm1 10zm-2-6zm-1 1zm-2 2zm-1 4zm6 1zm-7 12zm-2-3zm-1 2zm-30 8zm5 2zm2-2zm4 10zm0-2zm-1 2zm-1 2zm-2-5zm-3 5zm-6-7zm2 9zm4 3zm1-4zm2 2zm0-2zm2 0zm3 2zm0 4zm2-1zm1 5zm-5-2zm-175 4zm-8 9zm8-1zm0-2zm3 2zm177 8zm-2 1zm-3-3zm0 0zm-175 3zm-10 7zm0 0zm1-1zm2 0zm7 0zm-2 5z" stroke="#ffaa00" stroke-width="3.4" stroke-linecap="round" fill="none" opacity="0.7"/>
<path transform="scale(0.25)" d="M1724 1021zm-1-3zm-4 1zm72 20zm21 13zm18 10zm1 7zm-28 10zm2-4zm1 2zm20-4zm3-1zm2 5zm1-5zm-21 15zm-2-1zm-2-3zm-14 10zm18-3zm0-2zm0 3z" stroke="#ff5500" stroke-width="3.4" stroke-linecap="round" fill="none" opacity="0.7"/>
<ellipse cx="433.2" cy="257.6" rx="9" ry="7.6" fill="none" stroke="#111" stroke-width="0.8"/>
<ellipse cx="452.5" cy="271.2" rx="6.7" ry="11.3" fill="none" stroke="#111" stroke-width="0.8"/>
<path d="M411.4 261.4C412.5 266.5 414.5 271 417.3 275.8C420.3 281 424 286.5 429.6 292.3M429.6 292.3V303.7M429.6 292.3C432.5 291.3 435.8 291.5 438.5 292.3C442 293.3 445 294.6 448 295.9" fill="none" stroke="#e0705a" stroke-width="0.8"/>
<text x="414" y="253.6" font-size="7.5" stroke="#000" stroke-width="0.22">T<tspan dy="1.65" font-size="4.50">reg</tspan></text>
<text x="449.8" y="258.8" font-size="7.5" stroke="#000" stroke-width="0.22">T<tspan dy="1.65" font-size="4.50">FH</tspan></text>
<text x="426.2" y="272" font-size="7.2" stroke="#000" stroke-width="0.22" textLength="21.8" lengthAdjust="spacingAndGlyphs">Others</text>
<text x="444.8" y="291.6" font-size="7.2" stroke="#000" stroke-width="0.22">CD4</text>
<text x="403.6" y="306.4" font-size="7" stroke="#000" stroke-width="0.22">CD8</text>
<text x="17" y="341.5" font-size="8" stroke="#000" stroke-width="0.22">(iv)</text>
<text x="57.9" y="343.7" font-size="7.4" text-anchor="middle" stroke="#000" stroke-width="0.22">Tonsil</text>
<path d="M57.9 383.1L57.90 347.80A35.3 35.3 0 0 1 93.04 379.78Z" fill="#ff5a0a" stroke="#7a3a1a" stroke-width="0.25"/>
<path d="M57.9 383.1L93.04 379.78A35.3 35.3 0 1 1 30.70 360.60Z" fill="#ffa9a9" stroke="#7a3a1a" stroke-width="0.25"/>
<path d="M57.9 383.1L30.70 360.60A35.3 35.3 0 0 1 57.90 347.80Z" fill="#1cb41c" stroke="#7a3a1a" stroke-width="0.25"/>
<circle cx="57.9" cy="383.1" r="35.3" fill="none" stroke="#8358cc" stroke-width="0.7"/>
<text x="42" y="358.0" font-size="5.3" text-anchor="middle" fill="#0c5c0c" stroke="#0c5c0c" stroke-width="0.22">Treg</text>
<text x="46.6" y="364.6" font-size="5.3" text-anchor="middle" fill="#0c5c0c" stroke="#0c5c0c" stroke-width="0.22">13.9%</text>
<text x="72.1" y="361.9" font-size="5.3" text-anchor="middle" fill="#5e2208" stroke="#5e2208" stroke-width="0.22">Others</text>
<text x="72.7" y="368.8" font-size="5.3" text-anchor="middle" fill="#5e2208" stroke="#5e2208" stroke-width="0.22">23.5%</text>
<text x="58.4" y="393.9" font-size="5.3" text-anchor="middle" fill="#4e3030" stroke="#4e3030" stroke-width="0.22">Tfh</text>
<text x="58.4" y="401.5" font-size="5.3" text-anchor="middle" fill="#4e3030" stroke="#4e3030" stroke-width="0.22">62.5%</text>
<text x="137.8" y="343.7" font-size="7.4" text-anchor="middle" stroke="#000" stroke-width="0.22">rLN</text>
<path d="M137.8 383.1L137.80 347.80A35.3 35.3 0 0 1 170.46 396.51Z" fill="#ff5a0a" stroke="#7a3a1a" stroke-width="0.25"/>
<path d="M137.8 383.1L170.46 396.51A35.3 35.3 0 1 1 112.53 358.45Z" fill="#ffa9a9" stroke="#7a3a1a" stroke-width="0.25"/>
<path d="M137.8 383.1L112.53 358.45A35.3 35.3 0 0 1 137.80 347.80Z" fill="#1cb41c" stroke="#7a3a1a" stroke-width="0.25"/>
<circle cx="137.8" cy="383.1" r="35.3" fill="none" stroke="#8358cc" stroke-width="0.7"/>
<text x="126" y="357.4" font-size="5.3" text-anchor="middle" fill="#0c5c0c" stroke="#0c5c0c" stroke-width="0.22">Treg</text>
<text x="128.3" y="364.6" font-size="5.3" text-anchor="middle" fill="#0c5c0c" stroke="#0c5c0c" stroke-width="0.22">12.7%</text>
<text x="150.5" y="361.9" font-size="5.3" text-anchor="middle" fill="#5e2208" stroke="#5e2208" stroke-width="0.22">Others</text>
<text x="149.9" y="368.8" font-size="5.3" text-anchor="middle" fill="#5e2208" stroke="#5e2208" stroke-width="0.22">31.2</text>
<text x="122.7" y="392.9" font-size="5.3" text-anchor="middle" fill="#4e3030" stroke="#4e3030" stroke-width="0.22">Tfh</text>
<text x="122.7" y="401.5" font-size="5.3" text-anchor="middle" fill="#4e3030" stroke="#4e3030" stroke-width="0.22">56.1%</text>
<text x="217.9" y="343.7" font-size="7.4" text-anchor="middle" stroke="#000" stroke-width="0.22">rSP</text>
<path d="M217.9 383.1L217.90 347.80A35.3 35.3 0 1 1 184.69 395.06Z" fill="#ff5a0a" stroke="#7a3a1a" stroke-width="0.25"/>
<path d="M217.9 383.1L184.69 395.06A35.3 35.3 0 0 1 189.08 362.71Z" fill="#ffa9a9" stroke="#7a3a1a" stroke-width="0.25"/>
<path d="M217.9 383.1L189.08 362.71A35.3 35.3 0 0 1 217.90 347.80Z" fill="#1cb41c" stroke="#7a3a1a" stroke-width="0.25"/>
<circle cx="217.9" cy="383.1" r="35.3" fill="none" stroke="#8358cc" stroke-width="0.7"/>
<text x="207.6" y="356.4" font-size="5.3" text-anchor="middle" fill="#0c5c0c" stroke="#0c5c0c" stroke-width="0.22">Treg</text>
<text x="208.6" y="364.6" font-size="5.3" text-anchor="middle" fill="#0c5c0c" stroke="#0c5c0c" stroke-width="0.22">15.2%</text>
<text x="229.8" y="361.3" font-size="5.3" text-anchor="middle" fill="#5e2208" stroke="#5e2208" stroke-width="0.22">Others</text>
<text x="229.8" y="368.8" font-size="5.3" text-anchor="middle" fill="#5e2208" stroke="#5e2208" stroke-width="0.22">69.5%</text>
<text x="193.5" y="377.7" font-size="5.3" text-anchor="middle" fill="#4e3030" stroke="#4e3030" stroke-width="0.22">Tfh</text>
<text x="194.5" y="385.8" font-size="5.3" text-anchor="middle" fill="#4e3030" stroke="#4e3030" stroke-width="0.22">15.3%</text>
<text x="297.5" y="343.7" font-size="7.4" text-anchor="middle" stroke="#000" stroke-width="0.22">FL</text>
<path d="M297.5 383.1L297.50 347.80A35.3 35.3 0 0 1 328.85 399.32Z" fill="#ff5a0a" stroke="#7a3a1a" stroke-width="0.25"/>
<path d="M297.5 383.1L328.85 399.32A35.3 35.3 0 0 1 262.43 387.08Z" fill="#ffa9a9" stroke="#7a3a1a" stroke-width="0.25"/>
<path d="M297.5 383.1L262.43 387.08A35.3 35.3 0 0 1 297.50 347.80Z" fill="#1cb41c" stroke="#7a3a1a" stroke-width="0.25"/>
<circle cx="297.5" cy="383.1" r="35.3" fill="none" stroke="#8358cc" stroke-width="0.7"/>
<text x="286" y="357.4" font-size="5.3" text-anchor="middle" fill="#0c5c0c" stroke="#0c5c0c" stroke-width="0.22">Treg</text>
<text x="286" y="365.2" font-size="5.3" text-anchor="middle" fill="#0c5c0c" stroke="#0c5c0c" stroke-width="0.22">26.9%</text>
<text x="310.5" y="361.3" font-size="5.3" text-anchor="middle" fill="#5e2208" stroke="#5e2208" stroke-width="0.22">Others</text>
<text x="310.5" y="368.8" font-size="5.3" text-anchor="middle" fill="#5e2208" stroke="#5e2208" stroke-width="0.22">32.6%</text>
<text x="295.8" y="396.6" font-size="5.3" text-anchor="middle" fill="#4e3030" stroke="#4e3030" stroke-width="0.22">Tfh</text>
<text x="296.8" y="403.8" font-size="5.3" text-anchor="middle" fill="#4e3030" stroke="#4e3030" stroke-width="0.22">40.6%</text>
<text x="1.1" y="448.1" font-size="14.5" font-weight="bold" stroke="#000" stroke-width="0.22">E</text>
<text x="31.5" y="449" font-size="6.7" stroke="#000" stroke-width="0.22" textLength="48.5" lengthAdjust="spacingAndGlyphs">TIGIT<tspan dy="-2.34" font-size="4.36">+</tspan><tspan dy="2.34"> T cells</tspan></text>
<text x="104.5" y="449" font-size="6.7" stroke="#000" stroke-width="0.22" textLength="46.7" lengthAdjust="spacingAndGlyphs">TIGIT<tspan dy="-2.34" font-size="4.36">−</tspan><tspan dy="2.34"> T cells</tspan></text>
<clipPath id="clE0"><rect x="24.400000000000002" y="453.2" width="61.4" height="59.9"/></clipPath>
<clipPath id="clE1"><rect x="95.6" y="453.2" width="61.4" height="59.9"/></clipPath>
<clipPath id="clE2"><rect x="24.400000000000002" y="528.4" width="61.4" height="59.9"/></clipPath>
<clipPath id="clE3"><rect x="95.6" y="528.4" width="61.4" height="59.9"/></clipPath>
<text x="162.3" y="486.9" font-size="6.8" stroke="#000" stroke-width="0.22">D5</text>
<text x="162.3" y="557.7" font-size="6.8" stroke="#000" stroke-width="0.22">D9</text>
<text x="19.6" y="554" font-size="7.6" text-anchor="middle" transform="rotate(-90 19.6 554)" stroke="#000" stroke-width="0.22" textLength="19.8" lengthAdjust="spacingAndGlyphs">CD69</text>
<path d="M17.5 595V572.2" stroke="#000" stroke-width="0.9" fill="none"/>
<path d="M17.5 569.6l-2.42 4.4l2.42 -1.32l2.42 1.32z" fill="#000"/>
<path d="M17.05 595H39.3" stroke="#000" stroke-width="0.9" fill="none"/>
<path d="M41.9 595l-4.4 -2.42l1.32 2.42l-1.32 2.42z" fill="#000"/>
<text x="45.8" y="598.5" font-size="7.6" stroke="#000" stroke-width="0.22" textLength="20.4" lengthAdjust="spacingAndGlyphs">CFSE</text>
<g clip-path="url(#clE0)">
<g fill="#3a1048" opacity="0.95" filter="url(#spkd)"><ellipse cx="84.4" cy="477" rx="1.7" ry="3.6"/><ellipse cx="85" cy="485" rx="1.1" ry="2.8"/></g>
<g fill="#8a1528" opacity="0.9"><ellipse cx="84.9" cy="477.5" rx="0.8" ry="2.2"/></g>
<path transform="scale(0.25)" d="M291 1848zm28 14zm0-2zm6 5zm-35 0zm13 14zm50-3zm21 4zm-25 5zm-61 1zm-23 1zm-11-4zm17 12zm5-2zm2-4zm15 4zm9-4zm3 0zm17 6zm12-4zm9 9zm-4-2zm-9 1zm-3 4zm-3-7zm-58 2zm11 7zm12 6zm3-6zm2 2zm4-3zm4 1zm3 0zm6 2zm33-1zm-10 12zm-9-4zm-4-2zm-10 6zm-30-6zm-2 5zm-13-1zm-37-2zm0 11zm14 0zm20-4zm0 4zm11 1zm1-4zm6 2zm0 2zm1-4zm3 2zm1-3zm38 4zm1 10zm-24-2zm0-4zm-6 1zm-3 1zm-11 1zm-13-1zm-7-1zm-1-2zm-9 5zm-7 1zm-3 0zm-18 9zm6-6zm8 0zm11 1zm0-2zm10 6zm9-3zm2-3zm25 0zm0 0zm4 2zm7-1zm8 3zm17-2zm-5 11zm-5 1zm-2-6zm-10 1zm-2 4zm-17-5zm-4 2zm-1 3zm-17-2zm-23 0zm-10 3zm-8-1zm-2 6zm15 1zm10-3zm8 3zm7 2zm10 8zm-4-3zm-11 4zm-17-7zm-15 0zm0 1zm19 8zm58 12zm-60 4zm71 0zm-72 11zm-35-4z" stroke="#a89ab0" stroke-width="3.2" stroke-linecap="round" fill="none" opacity="0.4"/>
</g>
<g clip-path="url(#clE1)">
<g filter="url(#spk3)"><path d="M121 491C134 488 148 478 158 458L158 497C148 500 134 501 124 498Z" fill="#8a7aa0" opacity="0.5"/></g>
<g filter="url(#spk)"><path d="M127.5 490.5C138 488.5 150 479 158 462.5L158 494C150 496 138 497.5 130.5 495.5C127.5 494.5 126.5 492 127.5 490.5Z" fill="#3a1250" opacity="0.95"/></g>
<g filter="url(#spk)"><path d="M133 490.5C142 489 151.5 481 158 468.5L158 489.5C150 492.5 141 494 135.5 493C133 492.5 132 491.5 133 490.5Z" fill="#9a1626" opacity="0.95"/></g>
<g filter="url(#spk2)"><path d="M139 490C146 488 153 481.5 158 473.5L158 485.5C151 489.5 144 491.5 140 491.3Z" fill="#e8401c" opacity="0.9"/></g>
<path transform="scale(0.25)" d="M525 1909zm-56 13zm3 2zm29 2zm7-6zm12 5zm18 4zm-5-1zm-41 7zm-4-3zm-32-4zm-17 5zm-9 5zm7 1zm31-2zm35 6zm3-5zm4-1zm14 3zm27 1zm12-1zm-30 8zm-23-4zm-3 6zm-19 0zm-2-4zm-7 5zm-4-1zm-1-2zm0-3zm-4 6zm-1-7zm-7 12zm0-3zm2 5zm6-4zm1 0zm4 1zm1 2zm10-5zm17 1zm0 4zm7-2zm2 3zm2-1zm2 2zm9-3zm0-1zm5 0zm24 5zm-19 5zm-29 2zm-12-7zm-4 5zm-3 2zm-16-6zm-2 1zm-1-1zm-2 5zm-1-5zm-3 0zm-1 2zm-8 0zm-18 1zm-3 2zm5 7zm32-4zm15-1zm0 3zm7 1zm4-1zm4 4zm9-3zm3 2zm23 4zm-26 1zm-2 2zm-18 1zm-2-2zm-25 3zm-9 1zm74 0zm29 2zm-32 6zm-71 3zm32 8zm3 0zm9 4zm57 2zm-2 28z" stroke="#a094ae" stroke-width="3.2" stroke-linecap="round" fill="none" opacity="0.5"/>
</g>
<g clip-path="url(#clE2)">
<path transform="scale(0.25)" d="M239 2225zm54 4zm19 2zm-23 6zm-29 0zm14 6zm25 8zm-5 2zm-58-5zm-39 5zm62 7zm2 0zm10 1zm8-4zm4 1zm9 0zm3 4zm6 8zm-15-3zm-6 3zm-20-4zm-1 5zm-10-3zm-4 1zm-50-2zm27 7zm2 0zm23 3zm4-1zm14-3zm21 3zm3 1zm21-3zm-22 11zm-3 2zm-6-4zm-4 0zm-9-2zm-12 4zm-10-4zm-25 2zm-19 10zm31 2zm20-1zm6-4zm9-1zm5 4zm3 3zm-13 1zm-1 3zm-28-2zm-1-2zm-2 0zm-8 5zm-8-1zm-33 2zm-7-1zm-9-1zm-5 2zm-6 8zm21-1zm3 1zm17 0zm12 1zm8-1zm67 1zm19 0zm-29 1zm-61 1zm-17 4zm-44-2zm-6 7zm3 0zm2-2zm19 2zm12-1zm22 0zm9 2zm7 3zm-24 9zm-13-3zm-50 10zm41-4zm14 5zm23 0zm25 8zm-64-5zm-30 2zm26 8zm64-2z" stroke="#b8aec0" stroke-width="3.2" stroke-linecap="round" fill="none" opacity="0.35"/>
<g fill="#f0a08a" opacity="0.75" filter="url(#spkd)"><ellipse cx="83" cy="554.6" rx="1.4" ry="4.2"/></g>
</g>
<g clip-path="url(#clE3)">
<radialGradient id="rgE4"><stop offset="0" stop-color="#3a1250" stop-opacity="1"/><stop offset="0.55" stop-color="#3f1656" stop-opacity="0.95"/><stop offset="0.8" stop-color="#5a3a78" stop-opacity="0.7"/><stop offset="1" stop-color="#6a4a8a" stop-opacity="0"/></radialGradient>
<radialGradient id="rgE4b"><stop offset="0" stop-color="#5a3a7a" stop-opacity="0.8"/><stop offset="0.6" stop-color="#6a4a8a" stop-opacity="0.55"/><stop offset="1" stop-color="#7a5a9a" stop-opacity="0"/></radialGradient>
<g filter="url(#spk3)"><ellipse cx="136" cy="560" rx="27" ry="13" transform="rotate(-30 136 560)" fill="url(#rgE4b)"/></g>
<g filter="url(#spk)"><ellipse cx="119.5" cy="570.8" rx="21" ry="16.5" transform="rotate(-22 119.5 570.8)" fill="url(#rgE4)"/></g>
<radialGradient id="hcE4"><stop offset="0" stop-color="#ffd84a"/><stop offset="0.2" stop-color="#ffa020"/><stop offset="0.42" stop-color="#ee4a18"/><stop offset="0.62" stop-color="#8a1228"/><stop offset="0.82" stop-color="#45104a" stop-opacity="0.9"/><stop offset="1" stop-color="#45104a" stop-opacity="0"/></radialGradient>
<ellipse cx="116.3" cy="572.8" rx="15.5" ry="11.8" transform="rotate(-10 116.3 572.8)" fill="url(#hcE4)"/>
<g fill="#7a6a92" opacity="0.8" filter="url(#spkd)"><ellipse cx="155.8" cy="555.5" rx="1.2" ry="3.6"/></g>
<path transform="scale(0.25)" d="M590 2146zm-18 9zm-104 6zm83 1zm3 0zm10 1zm18 4zm16 1zm-30 2zm-24 5zm-16-3zm-4 3zm-5-1zm-21-4zm-23-2zm-16 14zm51-2zm2-4zm12 5zm21-1zm13 0zm28-3zm16 3zm25 4zm-33 3zm-11 1zm-11 3zm-2-2zm-2-4zm-1 4zm-5-3zm-3 5zm-18-2zm-32-2zm-11 0zm-2-2zm-5 2zm-25 4zm-5-2zm35 6zm5 4zm16-3zm7 1zm1-4zm35 5zm20-6zm9 4zm5 0zm4-3zm68 0zm10 9zm-44 5zm-8-6zm-8 2zm-19 3zm-2-5zm-1 2zm-4 4zm-2 0zm-3-6zm-6 2zm-22 3zm-7-4zm-13 2zm-4 0zm-1-1zm0 0zm-6-3zm-21 4zm-2 0zm-57 3zm-13-2zm-13-2zm-1 5zm38 1zm8 5zm19-6zm38 1zm2 0zm21 6zm0-7zm0 5zm5-5zm9 1zm0-1zm4 3zm1 3zm3-4zm1-1zm0 2zm0-3zm2 1zm4 4zm7 2zm1-3zm12 3zm3-7zm10 4zm25 9zm-16-2zm-10 0zm-12-3zm-11 2zm-5 3zm-2 0zm-7 2zm-3-3zm-1-4zm0 7zm-18-2zm-9-2zm-5-1zm-8 0zm-3 4zm0-1zm-14-3zm-9 2zm-20 0zm-1 2zm-20-2zm-43 11zm19-6zm5 4zm7-2zm28 0zm35 0zm1 1zm31 2zm2-1zm6-1zm11 3zm8-6zm5 1zm4 0zm4 1zm6 3zm5-1zm33-5zm24 2zm-3 8zm-5 2zm-3-4zm-19 0zm-5 6zm-2 1zm-22-5zm-6 4zm-20-5zm-1 4zm-5-1zm-6-1zm-9-2zm-7 1zm-4 2zm-2-1zm-3-1zm-5 0zm-2-2zm-1 5zm-41-3zm-68 6zm61 0zm7 2zm2 4zm1 1zm20-7zm0 1zm1 1zm2 1zm1 2zm6-4zm0 2zm1 3zm22-4zm7 2zm3-3zm6-1zm16 5zm0 1zm6-5zm7 5zm7 1zm7-4zm22-2zm1 6zm1-1zm13-6zm0 13zm-18-3zm-4-2zm-10 7zm-1-6zm-4 0zm-6-1zm-3 3zm-2 3zm-4-5zm-8 2zm-5 3zm-2-1zm-2 1zm-2-1zm-2-1zm-2 1zm0-1zm-19 3zm-7-1zm-1-1zm0-1zm-8 1zm-11-5zm-17 1zm-2 2zm0-1zm-9 1zm-2 4zm-18-5zm-20 2zm-49 2zm-57-5zm35 14zm81-6zm3 4zm10-2zm0 2zm1-5zm6 0zm12 0zm2 0zm7 4zm3 2zm4-5zm10 2zm5 2zm2 2zm8-6zm10-1zm3 7zm11-5zm9-1zm3 4zm0-3zm14-1zm1 5zm0 0zm6-5zm3 1zm1 5zm4-4zm15-2zm11 0zm25 11zm-64 2zm-1-6zm-33 1zm-3 3zm-4 1zm-17-2zm-21-3zm-3 2zm0-1zm-1 2zm-13-3zm-6 4zm-9-1zm-6 1zm-8-1zm0 3zm-1-2zm-5-1zm-3-2zm-15 6zm-4-1zm-3-3zm-14 0zm-53-1zm-65-2zm60 15zm7-4zm32 4zm24-7zm19 6zm16-5zm13 6zm3-7zm0 0zm0 0zm6 0zm4 7zm0 0zm12-1zm1-5zm2 6zm24-6zm21 4zm2 2zm4-6zm8 2zm1 2zm55 8zm-18-4zm-15 1zm-17-2zm-3 3zm-20-1zm-8-2zm-11 1zm-5 2zm-2 0zm-8 3zm-10-2zm-4 2zm-2-6zm0 2zm-27 4zm-15-4zm-6 1zm-2-2zm-24-1zm-11 6zm-10-4zm-50-2zm16 13zm39-3zm20 1zm1 0zm7-1zm16 1zm15-2zm1 5zm8-4zm4 0zm2 3zm3-5zm15 0zm1 2zm1-2zm6 1zm0 0zm12 1zm8 0zm8 4zm1-2zm1-3zm3 6zm48-3zm26 2zm6 0zm-38 7zm-4-5zm-4 5zm-19 0zm0-1zm-19 1zm-15-1zm-6 1zm-12 2zm0-6zm-8 4zm-6-4zm-3 0zm-2 4zm-13 0zm-16-3zm-1 2zm-1-4zm-11 5zm-24-1zm0-2zm-4-2zm0 5zm-16-1zm-93-2zm35 7zm26 5zm25-6zm11 3zm12-2zm3-1zm11 7zm18-3zm0 0zm3 3zm1-5zm26-1zm1 4zm16 0zm24-5zm2 2zm1 1zm16-2zm9 1zm1 5zm20-3zm-13 6zm-21 1zm-23-2zm-13-1zm-26 7zm-7-7zm-8 2zm-56 0zm-36 7zm36 0zm18 0zm19 5zm3-4zm30 0zm5-2zm2 1zm5 1zm3-2zm15 6zm13-5zm3 3zm7-4zm8 6zm27-1zm9-5zm24 1zm-26 13zm-34-2zm0 0zm-31-1zm-15-3zm-6 6zm-1 1zm-6-3zm-22-4zm-2 4zm-5 3zm-19-7zm-85 15zm77-6zm24 1zm65 3zm20-4zm47 5zm51-5zm-37 14zm-63-4zm-4-1zm-14 3zm-32-1zm-5-1zm-6-3zm-18 6zm-74 2zm52 6zm18-2zm10-2zm20-2zm1 1zm9 1zm-34 12zm-10-5zm13 8zm2 6zm57-5zm132 8z" stroke="#5a3a78" stroke-width="3.2" stroke-linecap="round" fill="none" opacity="0.6"/>
</g>
<rect x="24.1" y="452.9" width="62.0" height="60.5" fill="none" stroke="#888" stroke-width="0.6"/>
<path d="M27.1 514.1h7M23.400000000000002 510.4v-6" stroke="#222" stroke-width="0.7" stroke-dasharray="0.5 0.5"/>
<rect x="95.3" y="452.9" width="62.0" height="60.5" fill="none" stroke="#888" stroke-width="0.6"/>
<path d="M98.3 514.1h7M94.6 510.4v-6" stroke="#222" stroke-width="0.7" stroke-dasharray="0.5 0.5"/>
<rect x="24.1" y="528.1" width="62.0" height="60.5" fill="none" stroke="#888" stroke-width="0.6"/>
<path d="M27.1 589.3000000000001h7M23.400000000000002 585.6v-6" stroke="#222" stroke-width="0.7" stroke-dasharray="0.5 0.5"/>
<rect x="95.3" y="528.1" width="62.0" height="60.5" fill="none" stroke="#888" stroke-width="0.6"/>
<path d="M98.3 589.3000000000001h7M94.6 585.6v-6" stroke="#222" stroke-width="0.7" stroke-dasharray="0.5 0.5"/>
<text x="195.5" y="448.1" font-size="14.5" font-weight="bold" stroke="#000" stroke-width="0.22">F</text>
<path d="M237.2 452.8L237.2 514.0" stroke="#5a55c0" stroke-width="0.55" fill="none"/>
<path d="M268.9 452.8L268.9 514.0" stroke="#5a55c0" stroke-width="0.55" fill="none"/>
<path d="M237.2 458.6H268.9" stroke="#5a55c0" stroke-width="0.4" stroke-dasharray="0.6 0.5" fill="none"/>
<text x="249.5" y="458.0" font-size="3.8" text-anchor="middle" fill="#5a55c0">33.64%</text>
<rect x="212.5" y="452.8" width="61.0" height="61.2" fill="none" stroke="#6a7088" stroke-width="0.55"/>
<path d="M215.5 513.3h9" stroke="#111" stroke-width="0.8" stroke-dasharray="0.6 0.4"/>
<path d="M225.5 513.4h40" stroke="#666" stroke-width="0.5" stroke-dasharray="0.4 1.2"/>
<path d="M306 452.8L306 514.0" stroke="#5a55c0" stroke-width="0.55" fill="none"/>
<path d="M336.8 452.8L336.8 514.0" stroke="#5a55c0" stroke-width="0.55" fill="none"/>
<path d="M306 459.0H336.8" stroke="#5a55c0" stroke-width="0.4" stroke-dasharray="0.6 0.5" fill="none"/>
<text x="317.9" y="458.4" font-size="3.8" text-anchor="middle" fill="#5a55c0">9.74%</text>
<rect x="281.0" y="452.8" width="61.0" height="61.2" fill="none" stroke="#6a7088" stroke-width="0.55"/>
<path d="M284 513.3h9" stroke="#111" stroke-width="0.8" stroke-dasharray="0.6 0.4"/>
<path d="M294 513.4h40" stroke="#666" stroke-width="0.5" stroke-dasharray="0.4 1.2"/>
<path d="M374.9 452.8L374.9 514.0" stroke="#5a55c0" stroke-width="0.55" fill="none"/>
<path d="M405.6 452.8L405.6 514.0" stroke="#5a55c0" stroke-width="0.55" fill="none"/>
<path d="M374.9 461.3H405.6" stroke="#5a55c0" stroke-width="0.4" stroke-dasharray="0.6 0.5" fill="none"/>
<text x="386.8" y="460.7" font-size="3.8" text-anchor="middle" fill="#5a55c0">15.72%</text>
<rect x="349.8" y="452.8" width="61.0" height="61.2" fill="none" stroke="#6a7088" stroke-width="0.55"/>
<path d="M352.8 513.3h9" stroke="#111" stroke-width="0.8" stroke-dasharray="0.6 0.4"/>
<path d="M362.8 513.4h40" stroke="#666" stroke-width="0.5" stroke-dasharray="0.4 1.2"/>
<path d="M466.1 452.8L466.1 514.0" stroke="#5a55c0" stroke-width="0.55" fill="none"/>
<path d="M466.1 461.3H480" stroke="#5a55c0" stroke-width="0.4" stroke-dasharray="0.6 0.5" fill="none"/>
<text x="424.5" y="460.5" font-size="3.8" fill="#5a55c0">33.22%</text>
<rect x="419.0" y="452.8" width="61.0" height="61.2" fill="none" stroke="#6a7088" stroke-width="0.55"/>
<path d="M422 513.3h9" stroke="#111" stroke-width="0.8" stroke-dasharray="0.6 0.4"/>
<path d="M432 513.4h40" stroke="#666" stroke-width="0.5" stroke-dasharray="0.4 1.2"/>
<path d="M237.2 528.3L237.2 589.5" stroke="#5a55c0" stroke-width="0.55" fill="none"/>
<path d="M268.9 528.3L268.9 589.5" stroke="#5a55c0" stroke-width="0.55" fill="none"/>
<path d="M237.2 534.5H268.9" stroke="#5a55c0" stroke-width="0.4" stroke-dasharray="0.6 0.5" fill="none"/>
<text x="249.5" y="533.9" font-size="3.8" text-anchor="middle" fill="#5a55c0">4.83%</text>
<rect x="212.5" y="528.3" width="61.0" height="61.2" fill="none" stroke="#6a7088" stroke-width="0.55"/>
<path d="M215.5 588.8h9" stroke="#111" stroke-width="0.8" stroke-dasharray="0.6 0.4"/>
<path d="M225.5 588.9h40" stroke="#666" stroke-width="0.5" stroke-dasharray="0.4 1.2"/>
<path d="M306 528.3L306 589.5" stroke="#5a55c0" stroke-width="0.55" fill="none"/>
<path d="M336.8 528.3L336.8 589.5" stroke="#5a55c0" stroke-width="0.55" fill="none"/>
<path d="M306 534.5H336.8" stroke="#5a55c0" stroke-width="0.4" stroke-dasharray="0.6 0.5" fill="none"/>
<text x="317.9" y="533.9" font-size="3.8" text-anchor="middle" fill="#5a55c0">2.38%</text>
<rect x="281.0" y="528.3" width="61.0" height="61.2" fill="none" stroke="#6a7088" stroke-width="0.55"/>
<path d="M284 588.8h9" stroke="#111" stroke-width="0.8" stroke-dasharray="0.6 0.4"/>
<path d="M294 588.9h40" stroke="#666" stroke-width="0.5" stroke-dasharray="0.4 1.2"/>
<path d="M374.9 528.3L374.9 589.5" stroke="#5a55c0" stroke-width="0.55" fill="none"/>
<path d="M405.6 528.3L405.6 589.5" stroke="#5a55c0" stroke-width="0.55" fill="none"/>
<path d="M374.9 535.1999999999999H405.6" stroke="#5a55c0" stroke-width="0.4" stroke-dasharray="0.6 0.5" fill="none"/>
<text x="386.8" y="534.6" font-size="3.8" text-anchor="middle" fill="#5a55c0">1.40%</text>
<rect x="349.8" y="528.3" width="61.0" height="61.2" fill="none" stroke="#6a7088" stroke-width="0.55"/>
<path d="M352.8 588.8h9" stroke="#111" stroke-width="0.8" stroke-dasharray="0.6 0.4"/>
<path d="M362.8 588.9h40" stroke="#666" stroke-width="0.5" stroke-dasharray="0.4 1.2"/>
<path d="M466.1 528.3L466.1 589.5" stroke="#5a55c0" stroke-width="0.55" fill="none"/>
<path d="M466.1 535.8H480" stroke="#5a55c0" stroke-width="0.4" stroke-dasharray="0.6 0.5" fill="none"/>
<text x="424.5" y="535.0" font-size="3.8" fill="#5a55c0">8.92%</text>
<rect x="419.0" y="528.3" width="61.0" height="61.2" fill="none" stroke="#6a7088" stroke-width="0.55"/>
<path d="M422 588.8h9" stroke="#111" stroke-width="0.8" stroke-dasharray="0.6 0.4"/>
<path d="M432 588.9h40" stroke="#666" stroke-width="0.5" stroke-dasharray="0.4 1.2"/>
<path d="M216.1 513.9C216.5 513.6 217.9 513.3 218.7 512.0C219.4 510.7 220.0 508.9 220.6 505.9C221.2 502.9 221.7 498.3 222.3 494.0C222.9 489.7 223.5 485.0 224.1 480.1C224.6 475.3 225.3 468.5 225.8 464.9C226.3 461.3 226.7 459.8 227.0 458.5C227.3 457.2 227.5 457.1 227.9 457.1C228.2 457.2 228.5 457.9 228.9 458.8C229.3 459.8 229.8 460.7 230.3 462.8C230.8 464.9 231.4 468.5 232.0 471.3C232.6 474.2 233.2 477.1 233.7 480.0C234.3 482.8 234.9 486.0 235.5 488.6C236.0 491.2 236.5 493.2 237.0 495.5C237.5 497.8 237.9 500.6 238.4 502.5C238.9 504.3 239.2 505.5 240.0 506.6C240.8 507.8 241.3 508.5 243.3 509.4C245.3 510.2 249.0 511.1 251.9 511.6C254.8 512.2 257.8 512.5 260.6 512.8C263.3 513.2 267.2 513.7 268.5 513.9" fill="none" stroke="#222" stroke-width="0.6" stroke-linejoin="round"/>
<path d="M281.4 508.2C281.8 507.7 283.1 506.6 283.9 505.2C284.8 503.7 285.6 502.2 286.4 499.6C287.3 496.9 288.1 493.8 288.9 489.3C289.8 484.8 290.8 477.8 291.7 472.5C292.6 467.2 293.4 458.8 294.2 457.5C295.0 456.2 295.6 460.3 296.5 464.7C297.3 469.2 298.3 478.4 299.3 484.3C300.2 490.1 301.1 496.4 302.0 499.9C303.0 503.4 303.9 504.0 304.8 505.2C305.8 506.4 306.6 506.9 307.6 507.1C308.7 507.4 310.0 506.3 311.2 506.6C312.5 506.8 314.0 507.9 315.2 508.8C316.3 509.7 317.1 511.2 317.9 512.1C318.7 513.1 319.6 514.0 319.9 514.4" fill="none" stroke="#222" stroke-width="0.6" stroke-linejoin="round"/>
<path d="M350.3 502.7C350.6 503.5 351.1 507.8 351.7 508.0C352.3 508.1 353.1 507.3 353.9 503.8C354.8 500.3 355.7 493.5 356.7 487.0C357.8 480.5 359.1 469.8 360.1 464.7C361.0 459.6 361.6 456.4 362.3 456.4C363.1 456.4 363.8 459.6 364.5 464.7C365.3 469.8 366.0 480.8 366.8 487.0C367.6 493.3 368.4 499.0 369.3 502.4C370.2 505.7 371.1 506.0 372.1 507.1C373.0 508.2 373.7 509.0 374.9 508.8C376.0 508.6 377.9 506.5 379.0 505.7C380.2 505.0 380.9 504.5 381.8 504.3C382.8 504.1 383.7 504.0 384.6 504.6C385.5 505.2 386.5 506.8 387.4 508.0C388.3 509.1 389.2 510.6 390.2 511.6C391.2 512.6 393.0 513.4 393.5 513.8" fill="none" stroke="#222" stroke-width="0.6" stroke-linejoin="round"/>
<path d="M451.0 513.8C451.5 512.1 453.4 509.2 454.3 503.8C455.3 498.4 455.9 489.1 456.6 481.5C457.3 473.8 457.9 461.8 458.5 458.0C459.2 454.3 459.8 455.7 460.5 459.2C461.2 462.6 462.0 472.9 462.7 478.7C463.4 484.5 464.2 491.0 464.9 494.0C465.6 497.0 466.1 496.5 466.9 496.8C467.7 497.1 468.6 496.7 469.7 496.0C470.7 495.3 472.3 493.4 473.3 492.6C474.3 491.8 475.0 490.5 475.8 491.2C476.6 491.9 477.3 494.2 478.0 496.8C478.7 499.4 479.7 504.9 480.0 506.6" fill="none" stroke="#222" stroke-width="0.6" stroke-linejoin="round"/>
<path d="M217.3 588.6C217.8 587.5 219.4 586.1 220.3 582.0C221.3 577.8 222.2 570.6 223.1 563.8C224.1 557.1 225.2 546.8 225.9 541.5C226.7 536.2 227.2 533.5 227.6 532.0C228.0 530.6 228.0 531.0 228.4 532.6C228.8 534.2 229.4 536.8 230.1 541.5C230.7 546.3 231.5 555.0 232.3 561.0C233.2 567.1 234.2 573.8 235.1 577.8C236.0 581.7 236.7 583.1 237.9 584.7C239.2 586.4 241.1 586.8 242.6 587.5C244.2 588.2 246.6 588.7 247.4 588.9" fill="none" stroke="#222" stroke-width="0.6" stroke-linejoin="round"/>
<path d="M285.3 588.4C285.8 586.6 287.3 581.9 288.1 577.8C288.9 573.7 289.3 569.4 290.1 563.8C290.8 558.3 292.0 549.4 292.8 544.3C293.7 539.2 294.6 534.1 295.4 533.2C296.1 532.2 296.8 534.5 297.6 538.7C298.3 542.9 299.0 551.7 299.8 558.3C300.6 564.8 301.8 573.1 302.6 577.8C303.4 582.4 303.9 584.7 304.8 586.1C305.8 587.6 306.8 586.0 308.2 586.4C309.6 586.8 312.4 588.3 313.2 588.6" fill="none" stroke="#222" stroke-width="0.6" stroke-linejoin="round"/>
<path d="M351.4 587.1C351.8 586.0 353.0 585.3 353.8 580.8C354.7 576.3 355.7 567.3 356.6 560.1C357.5 552.9 358.6 542.3 359.4 537.6C360.1 532.8 360.5 532.0 361.1 531.7C361.7 531.4 362.2 532.3 362.8 535.8C363.5 539.4 364.1 546.8 364.9 553.2C365.7 559.5 366.8 568.7 367.7 573.9C368.6 579.1 369.4 582.0 370.5 584.3C371.5 586.6 373.3 587.2 373.9 587.8" fill="none" stroke="#222" stroke-width="0.6" stroke-linejoin="round"/>
<path d="M448.7 587.8C449.1 586.6 450.5 586.0 451.5 580.8C452.4 575.7 453.4 564.4 454.2 556.6C455.1 548.8 456.0 538.3 456.6 534.1C457.3 530.0 457.5 530.8 458.0 531.7C458.6 532.6 459.1 534.6 459.8 539.3C460.5 544.0 461.3 553.7 462.2 560.1C463.1 566.4 464.0 573.3 465.0 577.4C465.9 581.4 466.9 582.8 468.1 584.3C469.3 585.8 471.1 586.2 472.2 586.4C473.4 586.6 473.8 585.1 475.0 585.3C476.1 585.6 478.5 587.4 479.1 587.8" fill="none" stroke="#222" stroke-width="0.6" stroke-linejoin="round"/>
<text x="487" y="486.5" font-size="7.2" stroke="#000" stroke-width="0.22">TIGIT<tspan dy="-2.52" font-size="4.68">−</tspan></text>
<text x="485.5" y="559" font-size="7.2" stroke="#000" stroke-width="0.22">TIGIT<tspan dy="-2.52" font-size="4.68">+</tspan></text>
<text x="235.7" y="597.3" font-size="6.6" stroke="#000" stroke-width="0.22">IFNγ</text>
<text x="302" y="597.3" font-size="6.6" stroke="#000" stroke-width="0.22">IL2</text>
<text x="371.5" y="597" font-size="6.6" stroke="#000" stroke-width="0.22">IL4</text>
<text x="444" y="597" font-size="6.8" stroke="#000" stroke-width="0.22">TNFα</text>
<text x="208.2" y="554.3" font-size="7.2" text-anchor="middle" transform="rotate(-90 208.2 554.3)" stroke="#000" stroke-width="0.22" textLength="19.6" lengthAdjust="spacingAndGlyphs">Count</text>
<path d="M205.7 592V573.1" stroke="#000" stroke-width="0.9" fill="none"/>
<path d="M205.7 570.5l-2.42 4.4l2.42 -1.32l2.42 1.32z" fill="#000"/>
<path d="M205.25 592H228.4" stroke="#000" stroke-width="0.9" fill="none"/>
<path d="M231 592l-4.4 -2.42l1.32 2.42l-1.32 2.42z" fill="#000"/>
<text x="0.6" y="621.7" font-size="14.5" font-weight="bold" stroke="#000" stroke-width="0.22">G</text>
<text x="59.5" y="620.8" font-size="6.5" text-anchor="middle" stroke="#000" stroke-width="0.22">CD4</text>
<text x="124.4" y="620.5" font-size="6.5" text-anchor="middle" stroke="#000" stroke-width="0.22">CD8</text>
<path d="M26.2 683.8C26.4 683.1 27.2 681.3 27.7 679.4C28.2 677.6 28.7 675.4 29.2 672.7C29.7 670.0 30.3 666.4 30.8 663.1C31.3 659.7 31.8 656.0 32.3 652.5C32.8 649.0 33.3 645.0 33.8 641.9C34.4 638.9 34.9 636.4 35.4 634.2C35.9 632.1 36.5 630.0 36.9 628.8C37.4 627.7 37.7 627.3 38.1 627.3C38.5 627.3 38.8 627.7 39.2 628.8C39.6 630.0 39.9 631.6 40.4 634.2C40.8 636.9 41.4 641.4 41.9 644.8C42.4 648.2 42.9 651.6 43.5 654.4C44.0 657.2 44.4 659.9 45.0 661.7C45.6 663.6 46.2 664.5 46.9 665.4C47.7 666.3 48.5 666.7 49.4 667.3C50.4 667.9 51.6 668.7 52.7 669.2C53.8 669.8 54.9 670.0 56.2 670.8C57.4 671.5 58.9 672.5 60.4 673.7C61.8 674.8 63.4 676.2 64.8 677.5C66.2 678.8 67.5 680.3 68.7 681.3C69.8 682.4 71.1 683.4 71.5 683.8Z" fill="#ffffc6" stroke="#7d7d2a" stroke-width="0.6" stroke-linejoin="round"/>
<path d="M25.8 684.2L88.5 684.2" stroke="#777" stroke-width="0.5" fill="none"/>
<path d="M26.5 691.9C26.8 691.1 27.6 689.0 28.1 687.1C28.6 685.2 29.0 683.1 29.6 680.4C30.2 677.7 30.9 674.1 31.5 670.8C32.2 667.4 32.8 664.0 33.5 660.2C34.1 656.3 34.8 651.2 35.4 647.7C36.0 644.2 36.4 641.1 36.9 639.0C37.4 637.0 37.9 635.7 38.3 635.6C38.7 635.4 39.0 636.5 39.4 638.1C39.8 639.6 40.3 641.9 40.8 644.8C41.2 647.7 41.8 651.9 42.3 655.4C42.8 658.9 43.3 662.6 43.8 666.0C44.4 669.3 44.9 672.9 45.4 675.6C45.9 678.3 46.3 680.3 46.9 682.3C47.5 684.3 48.1 686.3 48.8 687.7C49.6 689.1 50.3 690.0 51.2 690.8C52.0 691.5 53.4 691.9 53.8 692.1Z" fill="#000" stroke="#000" stroke-width="0.4" stroke-linejoin="round"/>
<path d="M96.1 684.0C96.5 683.5 97.7 682.4 98.5 681.0C99.2 679.6 99.9 677.7 100.6 675.3C101.2 672.9 101.7 670.2 102.3 666.8C102.8 663.5 103.4 659.2 104.0 655.2C104.5 651.1 105.1 646.3 105.7 642.5C106.2 638.7 106.8 634.9 107.3 632.3C107.9 629.8 108.4 627.7 108.8 627.3C109.3 626.8 109.7 628.0 110.1 629.8C110.5 631.6 110.9 634.7 111.4 638.3C111.8 641.8 112.3 646.8 112.8 651.0C113.4 655.1 114.0 660.0 114.5 663.2C115.1 666.5 115.6 668.6 116.2 670.4C116.9 672.3 117.4 673.2 118.3 674.2C119.3 675.3 120.5 675.9 121.7 676.6C123.0 677.3 124.6 677.7 126.0 678.5C127.4 679.2 128.9 680.2 130.2 681.0C131.5 681.8 132.7 682.6 134.0 683.1C135.3 683.6 137.2 684.0 137.8 684.2Z" fill="#ffffc6" stroke="#7d7d2a" stroke-width="0.6" stroke-linejoin="round"/>
<path d="M95.9 684.2L158.1 684.2" stroke="#777" stroke-width="0.5" fill="none"/>
<path d="M96.1 692.4C96.5 691.9 97.4 690.9 98.0 689.5C98.7 688.0 99.3 686.3 99.9 683.8C100.5 681.2 101.1 677.8 101.6 674.2C102.2 670.7 102.8 666.5 103.3 662.6C103.9 658.7 104.5 654.5 105.0 651.0C105.6 647.4 106.2 643.9 106.7 641.4C107.2 639.0 107.8 637.2 108.2 636.2C108.6 635.1 108.9 634.7 109.3 635.1C109.6 635.4 109.9 636.3 110.3 638.3C110.7 640.2 111.1 643.0 111.6 646.7C112.0 650.4 112.5 655.9 113.1 660.5C113.6 665.1 114.2 670.4 114.8 674.2C115.3 678.1 115.8 681.3 116.4 683.8C117.0 686.2 117.7 687.8 118.3 689.0C119.0 690.3 119.6 690.8 120.3 691.4C120.9 691.9 121.8 692.3 122.2 692.4Z" fill="#85851a" stroke="#6f6f10" stroke-width="0.4" stroke-linejoin="round"/>
<rect x="25.8" y="623.8" width="62.7" height="69.1" fill="none" stroke="#333" stroke-width="0.6"/>
<path d="M28.8 692.2h8" stroke="#111" stroke-width="0.8" stroke-dasharray="0.6 0.4"/>
<rect x="95.9" y="623.8" width="62.2" height="69.1" fill="none" stroke="#333" stroke-width="0.6"/>
<path d="M98.9 692.2h8" stroke="#111" stroke-width="0.8" stroke-dasharray="0.6 0.4"/>
<text x="160.9" y="680.2" font-size="7.2" stroke="#000" stroke-width="0.22" textLength="33.8" lengthAdjust="spacingAndGlyphs">aTIGIT Ab</text>
<text x="160.9" y="691.2" font-size="7.2" stroke="#000" stroke-width="0.22" textLength="17.5" lengthAdjust="spacingAndGlyphs">mIgG</text>
<text x="21.8" y="657.5" font-size="7.3" text-anchor="middle" transform="rotate(-90 21.8 657.5)" stroke="#000" stroke-width="0.22" textLength="19.6" lengthAdjust="spacingAndGlyphs">Count</text>
<path d="M19.6 699V676.3" stroke="#000" stroke-width="0.9" fill="none"/>
<path d="M19.6 673.7l-2.42 4.4l2.42 -1.32l2.42 1.32z" fill="#000"/>
<path d="M19.150000000000002 699H41.6" stroke="#000" stroke-width="0.9" fill="none"/>
<path d="M44.2 699l-4.4 -2.42l1.32 2.42l-1.32 2.42z" fill="#000"/>
<text x="49.4" y="701.2" font-size="7.6" stroke="#000" stroke-width="0.22" textLength="19.3" lengthAdjust="spacingAndGlyphs">TNFα</text>
</svg>
</body></html>
